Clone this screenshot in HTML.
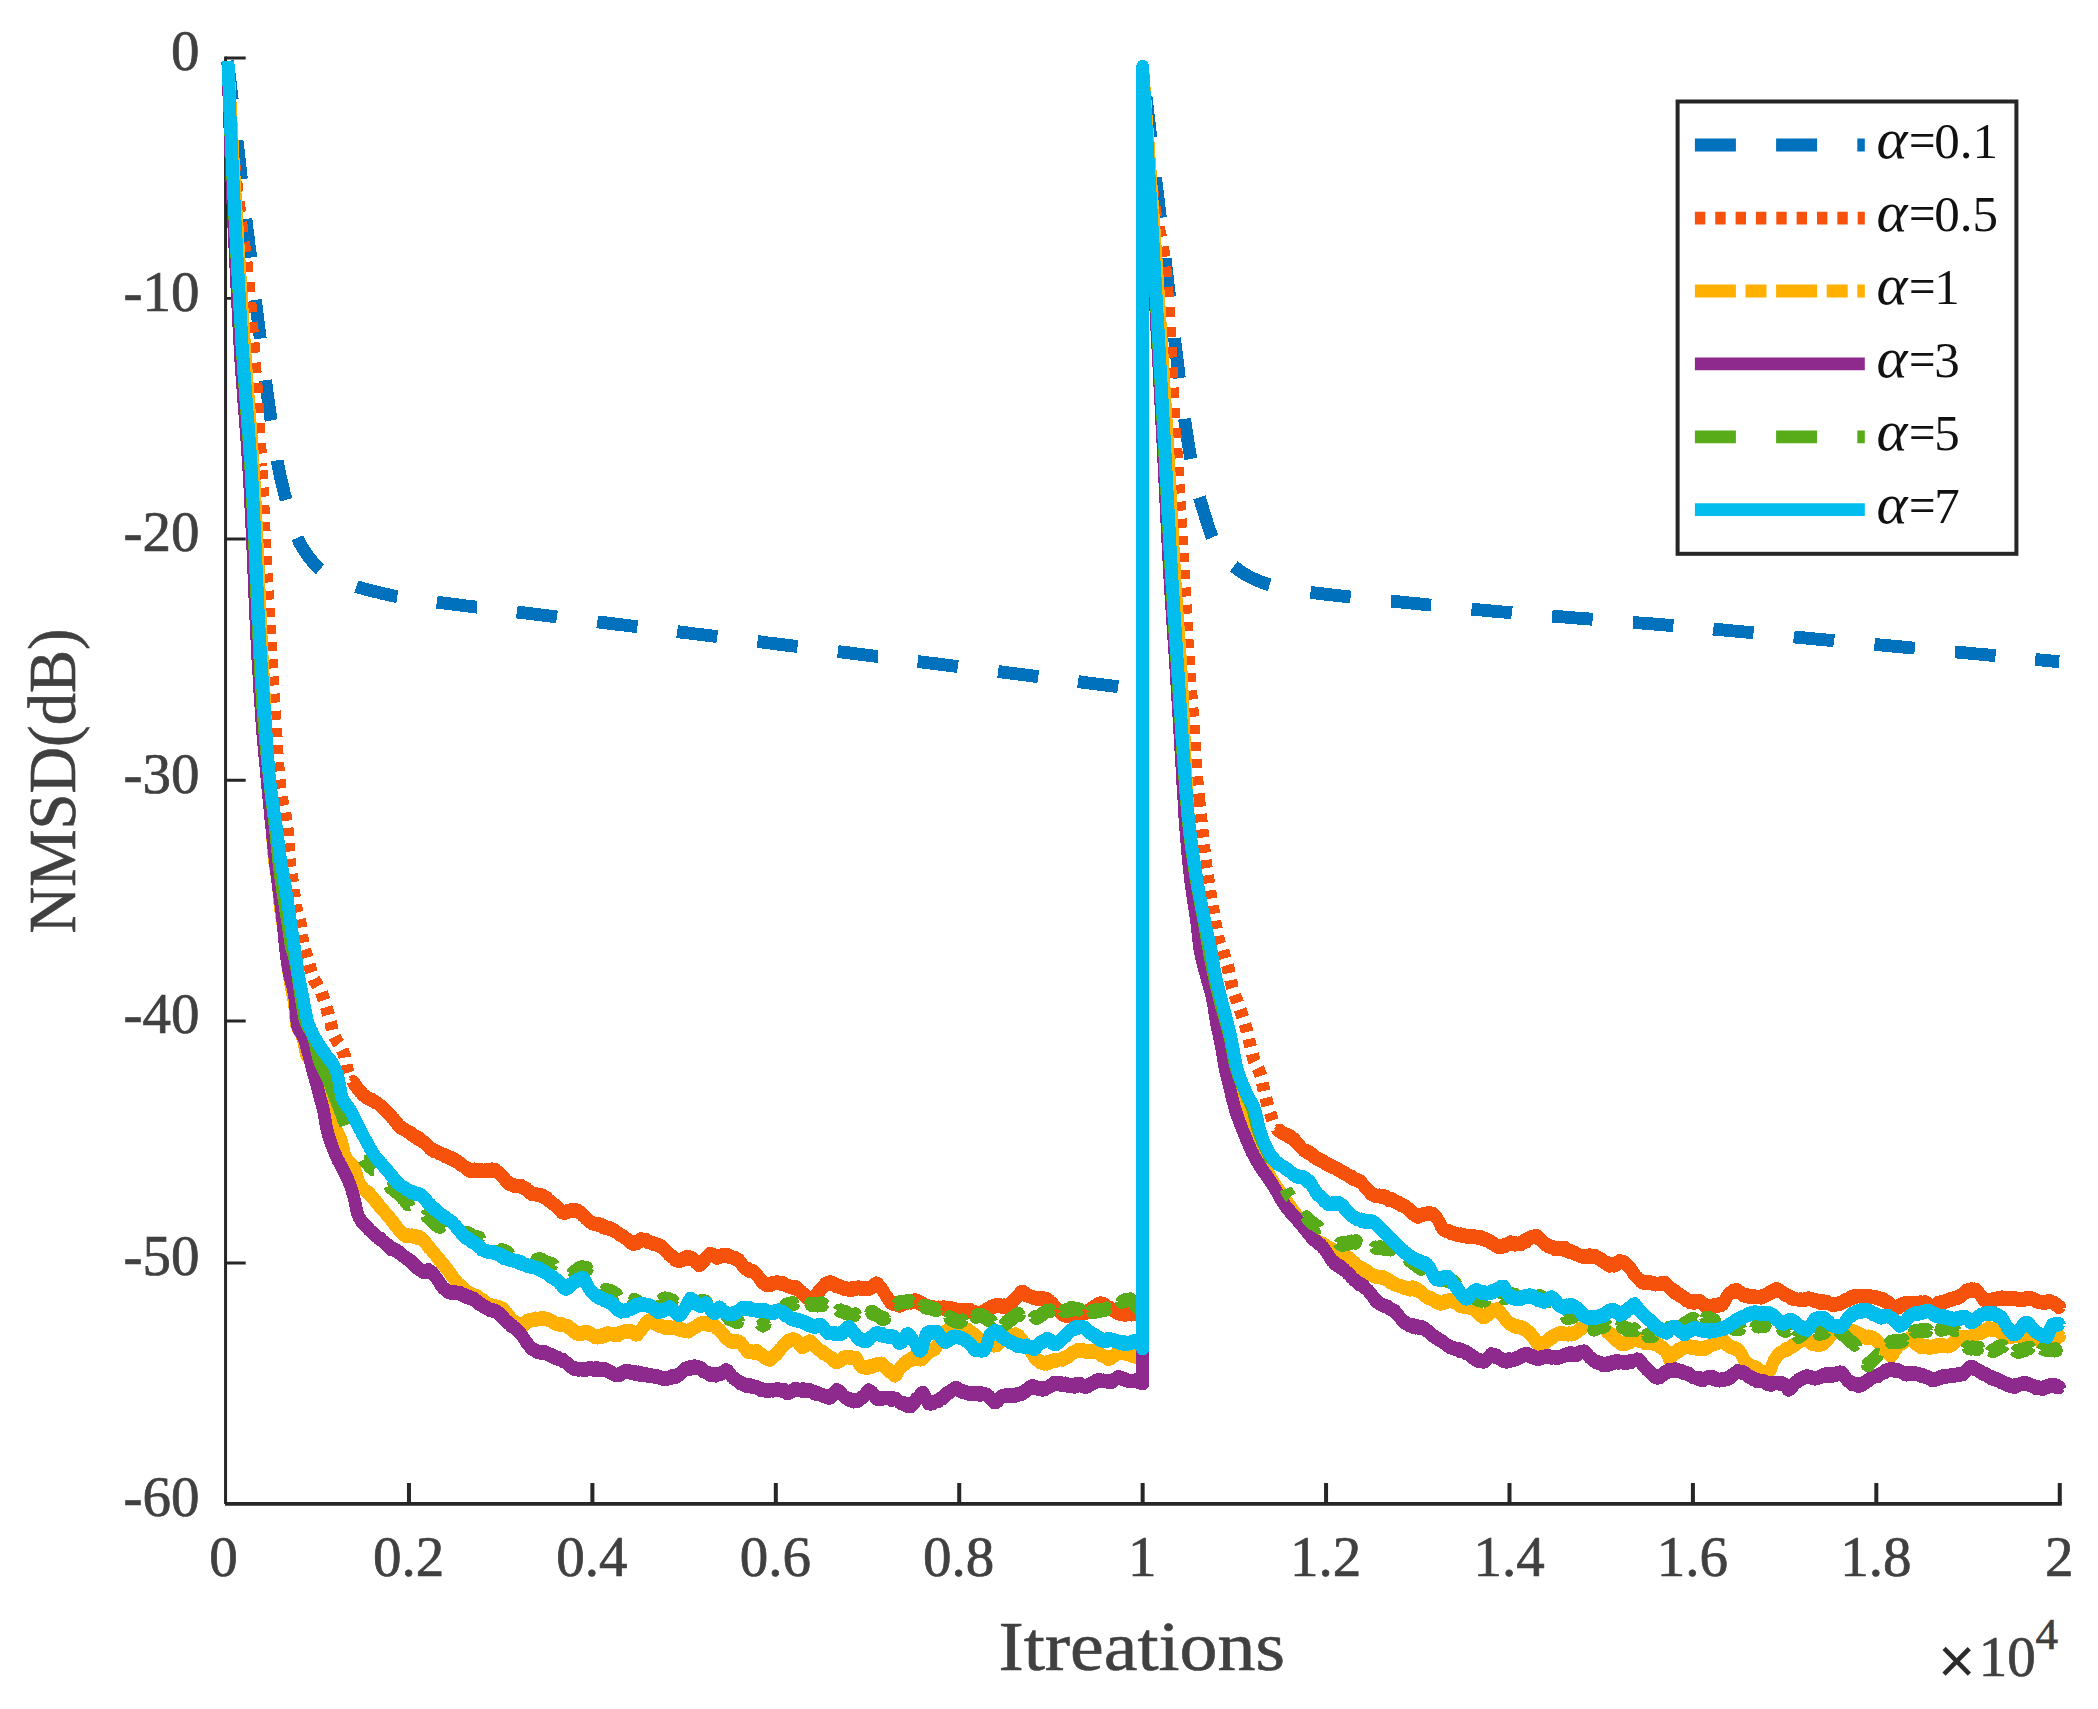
<!DOCTYPE html>
<html lang="en">
<head>
<meta charset="utf-8">
<title>NMSD(dB) vs Itreations</title>
<style>
html,body{margin:0;padding:0;background:#fff;}
body{width:2098px;height:1709px;overflow:hidden;}
svg{display:block;}
svg text{font-family:"Liberation Serif",serif;}
</style>
</head>
<body>
<svg width="2098" height="1709" viewBox="0 0 2098 1709">
<rect width="2098" height="1709" fill="#fff"/>
<g id="axes">
<path d="M225.55,56.5 V1503.9" fill="none" stroke="#262626" stroke-width="3"/>
<path d="M225.05,1503.9 H2061.8" fill="none" stroke="#262626" stroke-width="3.9"/>
<path d="M408.97,1503.9 V1483.1 M592.39,1503.9 V1483.1 M775.81,1503.9 V1483.1 M959.23,1503.9 V1483.1 M1142.65,1503.9 V1483.1 M1326.07,1503.9 V1483.1 M1509.49,1503.9 V1483.1 M1692.91,1503.9 V1483.1 M1876.33,1503.9 V1483.1 M2059.75,1503.9 V1483.1" fill="none" stroke="#262626" stroke-width="4"/>
<path d="M225.55,58.0 H245.7 M225.55,298.4 H245.7 M225.55,539.0 H245.7 M225.55,780.3 H245.7 M225.55,1021.0 H245.7 M225.55,1263.0 H245.7" fill="none" stroke="#262626" stroke-width="2.9"/>
</g>
<g id="curves" fill="none" stroke-width="12.8" stroke-linejoin="round" stroke-linecap="butt" shape-rendering="crispEdges">
<polyline points="227.5,61.0 227.7,62.5 227.9,64.0 228.1,65.5 228.2,67.0 228.4,68.4 228.6,69.9 228.8,71.4 229.0,72.9 229.2,74.4 229.4,75.9 229.5,77.4 229.7,78.9 229.9,80.4 230.1,81.8 230.3,83.3 230.4,84.8 230.6,86.3 230.8,87.8 231.0,89.3 231.2,90.8 231.4,92.3 231.5,93.8 231.7,95.2 231.9,96.7 232.1,98.2 232.2,99.7" stroke="#0072BD" />
<polyline points="237.0,140.4 237.2,141.9 237.4,143.4 237.6,144.9 237.7,146.4 237.9,147.9 238.1,149.4 238.2,150.9 238.4,152.4 238.6,153.8 238.7,155.3 238.9,156.8 239.1,158.3 239.2,159.8 239.4,161.3 239.6,162.8 239.7,164.3 239.9,165.8 240.1,167.3 240.2,168.7 240.4,170.2 240.6,171.7 240.7,173.2 240.9,174.7 241.1,176.2 241.2,177.7 241.4,179.2" stroke="#0072BD" />
<polyline points="245.9,218.9 246.1,220.4 246.2,221.9 246.4,223.4 246.6,224.9 246.8,226.4 247.0,227.9 247.1,229.4 247.3,230.8 247.5,232.3 247.7,233.8 247.9,235.3 248.1,236.8 248.3,238.3 248.5,239.8 248.7,241.3 248.9,242.7 249.0,244.2 249.2,245.7 249.4,247.2 249.6,248.7 249.8,250.2 250.0,251.7 250.2,253.2 250.4,254.7 250.5,256.1 250.7,257.6" stroke="#0072BD" />
<polyline points="255.5,299.9 255.7,301.4 255.8,302.8 256.0,304.3 256.2,305.8 256.4,307.3 256.6,308.8 256.7,310.3 256.9,311.8 257.1,313.3 257.3,314.8 257.5,316.2 257.7,317.7 257.9,319.2 258.1,320.7 258.2,322.2 258.4,323.7 258.6,325.2 258.8,326.7 259.0,328.1 259.2,329.6 259.4,331.1 259.6,332.6 259.8,334.1 259.9,335.6 260.1,337.1 260.3,338.6" stroke="#0072BD" />
<polyline points="265.5,380.2 265.7,381.7 265.9,383.2 266.1,384.7 266.3,386.2 266.5,387.7 266.7,389.2 266.9,390.6 267.1,392.1 267.3,393.6 267.5,395.1 267.7,396.6 267.9,398.1 268.1,399.6 268.3,401.1 268.5,402.5 268.7,404.0 269.0,405.5 269.2,407.0 269.4,408.5 269.6,410.0 269.8,411.4 270.0,412.9 270.2,414.4 270.4,415.9 270.6,417.4 270.8,418.9 271.1,420.4" stroke="#0072BD" />
<polyline points="277.1,460.4 277.3,461.9 277.6,463.4 277.9,464.8 278.2,466.3 278.5,467.8 278.8,469.2 279.1,470.7 279.4,472.2 279.7,473.6 280.0,475.1 280.4,476.6 280.7,478.0 281.0,479.5 281.4,481.0 281.7,482.4 282.1,483.9 282.4,485.3 282.7,486.8 283.1,488.3 283.5,489.7 283.8,491.2 284.2,492.6 284.5,494.1 284.9,495.6 285.3,497.0 285.6,498.5 286.0,499.9" stroke="#0072BD" />
<polyline points="297.4,537.7 298.0,539.1 298.6,540.4 299.3,541.8 299.9,543.1 300.6,544.5 301.4,545.8 302.1,547.1 302.9,548.4 303.7,549.7 304.5,551.0 305.4,552.2 306.2,553.5 307.1,554.7 307.9,555.9 308.8,557.1 309.7,558.3 310.6,559.5 311.6,560.6 312.6,561.8 313.6,563.0 314.6,564.1 315.7,565.2 316.7,566.3 317.8,567.3 318.9,568.3 320.1,569.3" stroke="#0072BD" />
<polyline points="356.4,586.6 357.9,587.1 359.3,587.5 360.7,587.9 362.2,588.3 363.6,588.7 365.1,589.1 366.5,589.5 368.0,589.8 369.5,590.2 370.9,590.6 372.4,590.9 373.8,591.3 375.3,591.6 376.8,592.0 378.2,592.3 379.7,592.7 381.1,593.1 382.6,593.4 384.1,593.8 385.5,594.1 387.0,594.4 388.4,594.8 389.9,595.1 391.4,595.4 392.8,595.7 394.3,596.0 395.8,596.3 397.3,596.5" stroke="#0072BD" />
<polyline points="436.8,602.2 438.3,602.4 439.8,602.6 441.3,602.7 442.8,602.9 444.3,603.1 445.8,603.3 447.3,603.5 448.8,603.7 450.3,603.9 451.7,604.1 453.2,604.2 454.7,604.4 456.2,604.6 457.7,604.8 459.2,605.0 460.7,605.2 462.2,605.4 463.6,605.6 465.1,605.8 466.6,606.0 468.1,606.1 469.6,606.3 471.1,606.5 472.6,606.7 474.1,606.9 475.6,607.1 477.0,607.2" stroke="#0072BD" />
<polyline points="516.8,612.0 518.2,612.2 519.7,612.4 521.2,612.5 522.7,612.7 524.2,612.9 525.7,613.1 527.2,613.2 528.7,613.4 530.2,613.6 531.7,613.8 533.1,614.0 534.6,614.1 536.1,614.3 537.6,614.5 539.1,614.7 540.6,614.9 542.1,615.1 543.6,615.2 545.1,615.4 546.5,615.6 548.0,615.8 549.5,616.0 551.0,616.2 552.5,616.3 554.0,616.5 555.5,616.7 557.0,616.9" stroke="#0072BD" />
<polyline points="597.2,621.8 598.6,622.0 600.1,622.2 601.6,622.4 603.1,622.5 604.6,622.7 606.1,622.9 607.6,623.1 609.1,623.3 610.6,623.5 612.0,623.6 613.5,623.8 615.0,624.0 616.5,624.2 618.0,624.4 619.5,624.6 621.0,624.7 622.5,624.9 624.0,625.1 625.4,625.3 626.9,625.5 628.4,625.7 629.9,625.8 631.4,626.0 632.9,626.2 634.4,626.4 635.9,626.6 637.4,626.8" stroke="#0072BD" />
<polyline points="677.1,631.6 678.5,631.8 680.0,632.0 681.5,632.2 683.0,632.4 684.5,632.6 686.0,632.7 687.5,632.9 689.0,633.1 690.5,633.3 691.9,633.5 693.4,633.7 694.9,633.9 696.4,634.0 697.9,634.2 699.4,634.4 700.9,634.6 702.4,634.8 703.9,635.0 705.3,635.1 706.8,635.3 708.3,635.5 709.8,635.7 711.3,635.9 712.8,636.1 714.3,636.2 715.8,636.4 717.3,636.6" stroke="#0072BD" />
<polyline points="757.4,641.6 758.9,641.8 760.4,641.9 761.9,642.1 763.4,642.3 764.9,642.5 766.4,642.7 767.9,642.9 769.4,643.0 770.8,643.2 772.3,643.4 773.8,643.6 775.3,643.8 776.8,644.0 778.3,644.2 779.8,644.3 781.3,644.5 782.8,644.7 784.2,644.9 785.7,645.1 787.2,645.3 788.7,645.4 790.2,645.6 791.7,645.8 793.2,646.0 794.7,646.2 796.2,646.4 797.6,646.6" stroke="#0072BD" />
<polyline points="837.8,651.5 839.3,651.7 840.8,651.9 842.3,652.1 843.8,652.3 845.3,652.5 846.8,652.7 848.3,652.8 849.7,653.0 851.2,653.2 852.7,653.4 854.2,653.6 855.7,653.8 857.2,654.0 858.7,654.1 860.2,654.3 861.6,654.5 863.1,654.7 864.6,654.9 866.1,655.1 867.6,655.2 869.1,655.4 870.6,655.6 872.1,655.8 873.6,656.0 875.0,656.2 876.5,656.4 878.0,656.5" stroke="#0072BD" />
<polyline points="917.7,661.5 919.2,661.7 920.7,661.9 922.2,662.1 923.7,662.2 925.2,662.4 926.6,662.6 928.1,662.8 929.6,663.0 931.1,663.2 932.6,663.4 934.1,663.5 935.6,663.7 937.1,663.9 938.6,664.1 940.0,664.3 941.5,664.5 943.0,664.7 944.5,664.9 946.0,665.0 947.5,665.2 949.0,665.4 950.5,665.6 951.9,665.8 953.4,666.0 954.9,666.2 956.4,666.3 957.9,666.5" stroke="#0072BD" />
<polyline points="998.1,671.6 999.6,671.8 1001.1,671.9 1002.5,672.1 1004.0,672.3 1005.5,672.5 1007.0,672.7 1008.5,672.9 1010.0,673.1 1011.5,673.3 1013.0,673.4 1014.5,673.6 1015.9,673.8 1017.4,674.0 1018.9,674.2 1020.4,674.4 1021.9,674.6 1023.4,674.8 1024.9,674.9 1026.4,675.1 1027.9,675.3 1029.3,675.5 1030.8,675.7 1032.3,675.9 1033.8,676.1 1035.3,676.3 1036.8,676.4 1038.3,676.6" stroke="#0072BD" />
<polyline points="1078.0,681.6 1079.4,681.8 1080.9,682.0 1082.4,682.2 1083.9,682.4 1085.4,682.6 1086.9,682.8 1088.4,683.0 1089.9,683.2 1091.3,683.3 1092.8,683.5 1094.3,683.7 1095.8,683.9 1097.3,684.1 1098.8,684.3 1100.3,684.5 1101.8,684.7 1103.3,684.9 1104.7,685.0 1106.2,685.2 1107.7,685.4 1109.2,685.6 1110.7,685.8 1112.2,686.0 1113.7,686.2 1115.2,686.4 1116.6,686.5 1118.1,686.7" stroke="#0072BD" />
<polyline points="1146.1,97.1 1146.3,98.6 1146.5,100.1 1146.6,101.6 1146.8,103.1 1147.0,104.5 1147.2,106.0 1147.3,107.5 1147.5,109.0 1147.7,110.5 1147.8,112.0 1148.0,113.5 1148.2,115.0 1148.4,116.5 1148.5,118.0 1148.7,119.4 1148.9,120.9 1149.1,122.4 1149.2,123.9 1149.4,125.4 1149.6,126.9 1149.8,128.4 1149.9,129.9 1150.1,131.4 1150.3,132.9 1150.5,134.3 1150.6,135.8 1150.8,137.3" stroke="#0072BD" />
<polyline points="1155.6,177.5 1155.8,179.0 1156.0,180.5 1156.1,182.0 1156.3,183.5 1156.5,185.0 1156.7,186.5 1156.8,188.0 1157.0,189.5 1157.2,190.9 1157.4,192.4 1157.6,193.9 1157.7,195.4 1157.9,196.9 1158.1,198.4 1158.3,199.9 1158.4,201.4 1158.6,202.9 1158.8,204.4 1159.0,205.8 1159.1,207.3 1159.3,208.8 1159.5,210.3 1159.7,211.8 1159.8,213.3 1160.0,214.8 1160.2,216.3 1160.4,217.8" stroke="#0072BD" />
<polyline points="1165.1,258.0 1165.2,259.5 1165.4,261.0 1165.6,262.5 1165.8,263.9 1165.9,265.4 1166.1,266.9 1166.3,268.4 1166.5,269.9 1166.6,271.4 1166.8,272.9 1167.0,274.4 1167.2,275.9 1167.3,277.4 1167.5,278.8 1167.7,280.3 1167.9,281.8 1168.0,283.3 1168.2,284.8 1168.4,286.3 1168.6,287.8 1168.7,289.3 1168.9,290.8 1169.1,292.3 1169.3,293.7 1169.4,295.2 1169.6,296.7" stroke="#0072BD" />
<polyline points="1174.5,337.9 1174.6,339.4 1174.8,340.9 1175.0,342.4 1175.2,343.9 1175.4,345.4 1175.5,346.9 1175.7,348.4 1175.9,349.9 1176.1,351.3 1176.3,352.8 1176.5,354.3 1176.6,355.8 1176.8,357.3 1177.0,358.8 1177.2,360.3 1177.4,361.8 1177.6,363.2 1177.7,364.7 1177.9,366.2 1178.1,367.7 1178.3,369.2 1178.5,370.7 1178.7,372.2 1178.8,373.7 1179.0,375.2 1179.2,376.7 1179.4,378.1" stroke="#0072BD" />
<polyline points="1184.6,418.8 1184.8,420.3 1185.0,421.8 1185.2,423.3 1185.4,424.8 1185.7,426.2 1185.9,427.7 1186.1,429.2 1186.3,430.7 1186.5,432.2 1186.7,433.7 1187.0,435.1 1187.2,436.6 1187.4,438.1 1187.6,439.6 1187.9,441.1 1188.1,442.6 1188.3,444.0 1188.6,445.5 1188.8,447.0 1189.0,448.5 1189.3,450.0 1189.5,451.4 1189.8,452.9 1190.0,454.4 1190.3,455.9 1190.5,457.4 1190.8,458.9" stroke="#0072BD" />
<polyline points="1199.4,497.3 1199.9,498.8 1200.3,500.2 1200.7,501.7 1201.1,503.1 1201.6,504.6 1202.0,506.0 1202.4,507.4 1202.9,508.9 1203.3,510.3 1203.8,511.7 1204.2,513.2 1204.7,514.6 1205.1,516.0 1205.5,517.5 1206.0,518.9 1206.4,520.3 1206.9,521.8 1207.3,523.2 1207.8,524.7 1208.2,526.1 1208.7,527.5 1209.2,529.0 1209.7,530.4 1210.2,531.8 1210.7,533.2 1211.2,534.6 1211.7,536.0 1212.3,537.4" stroke="#0072BD" />
<polyline points="1233.8,566.4 1235.0,567.3 1236.2,568.2 1237.4,569.1 1238.6,570.0 1239.8,570.9 1241.1,571.7 1242.3,572.5 1243.6,573.4 1244.9,574.1 1246.2,574.9 1247.5,575.7 1248.8,576.4 1250.1,577.1 1251.5,577.7 1252.8,578.4 1254.2,579.0 1255.5,579.6 1256.9,580.2 1258.3,580.8 1259.7,581.4 1261.1,581.9 1262.5,582.5 1263.9,583.0 1265.4,583.5 1266.8,583.9 1268.2,584.4 1269.6,584.8" stroke="#0072BD" />
<polyline points="1310.4,592.4 1311.9,592.6 1313.4,592.8 1314.8,593.0 1316.3,593.1 1317.8,593.3 1319.3,593.5 1320.8,593.7 1322.3,593.8 1323.8,594.0 1325.3,594.2 1326.8,594.3 1328.3,594.5 1329.8,594.7 1331.3,594.9 1332.7,595.0 1334.2,595.2 1335.7,595.4 1337.2,595.5 1338.7,595.7 1340.2,595.9 1341.7,596.0 1343.2,596.2 1344.7,596.4 1346.2,596.5 1347.7,596.7 1349.1,596.8 1350.6,597.0" stroke="#0072BD" />
<polyline points="1390.9,601.1 1392.4,601.2 1393.9,601.4 1395.4,601.5 1396.9,601.7 1398.4,601.8 1399.9,602.0 1401.4,602.1 1402.9,602.3 1404.4,602.4 1405.9,602.6 1407.4,602.7 1408.8,602.9 1410.3,603.0 1411.8,603.2 1413.3,603.3 1414.8,603.5 1416.3,603.6 1417.8,603.8 1419.3,603.9 1420.8,604.1 1422.3,604.2 1423.8,604.4 1425.3,604.5 1426.8,604.7 1428.2,604.8 1429.7,605.0 1431.2,605.1" stroke="#0072BD" />
<polyline points="1471.5,609.1 1473.0,609.3 1474.5,609.4 1476.0,609.6 1477.5,609.7 1479.0,609.8 1480.5,610.0 1482.0,610.1 1483.5,610.3 1485.0,610.4 1486.5,610.5 1488.0,610.7 1489.5,610.8 1490.9,610.9 1492.4,611.1 1493.9,611.2 1495.4,611.3 1496.9,611.5 1498.4,611.6 1499.9,611.7 1501.4,611.9 1502.9,612.0 1504.4,612.1 1505.9,612.2 1507.4,612.4 1508.9,612.5 1510.4,612.6 1511.9,612.8" stroke="#0072BD" />
<polyline points="1552.2,616.1 1553.7,616.2 1555.2,616.3 1556.7,616.4 1558.2,616.5 1559.7,616.7 1561.2,616.8 1562.7,616.9 1564.2,617.0 1565.7,617.1 1567.2,617.3 1568.7,617.4 1570.2,617.5 1571.7,617.6 1573.2,617.7 1574.7,617.9 1576.2,618.0 1577.7,618.1 1579.1,618.2 1580.6,618.3 1582.1,618.5 1583.6,618.6 1585.1,618.7 1586.6,618.8 1588.1,618.9 1589.6,619.0 1591.1,619.2 1592.6,619.3" stroke="#0072BD" />
<polyline points="1633.0,622.4 1634.5,622.5 1636.0,622.6 1637.5,622.7 1639.0,622.9 1640.5,623.0 1642.0,623.1 1643.5,623.2 1645.0,623.3 1646.4,623.5 1647.9,623.6 1649.4,623.7 1650.9,623.8 1652.4,623.9 1653.9,624.1 1655.4,624.2 1656.9,624.3 1658.4,624.4 1659.9,624.6 1661.4,624.7 1662.9,624.8 1664.4,624.9 1665.9,625.1 1667.4,625.2 1668.9,625.3 1670.4,625.4 1671.9,625.6 1673.4,625.7" stroke="#0072BD" />
<polyline points="1713.2,629.1 1714.7,629.3 1716.2,629.4 1717.7,629.5 1719.2,629.7 1720.7,629.8 1722.2,629.9 1723.7,630.1 1725.2,630.2 1726.7,630.3 1728.1,630.5 1729.6,630.6 1731.1,630.7 1732.6,630.9 1734.1,631.0 1735.6,631.2 1737.1,631.3 1738.6,631.4 1740.1,631.6 1741.6,631.7 1743.1,631.9 1744.6,632.0 1746.1,632.1 1747.6,632.3 1749.1,632.4 1750.5,632.6 1752.0,632.7 1753.5,632.9" stroke="#0072BD" />
<polyline points="1793.8,636.9 1795.3,637.1 1796.8,637.2 1798.3,637.3 1799.8,637.5 1801.3,637.6 1802.8,637.8 1804.3,637.9 1805.8,638.1 1807.3,638.2 1808.8,638.4 1810.3,638.5 1811.7,638.7 1813.2,638.8 1814.7,638.9 1816.2,639.1 1817.7,639.2 1819.2,639.4 1820.7,639.5 1822.2,639.6 1823.7,639.8 1825.2,639.9 1826.7,640.1 1828.2,640.2 1829.7,640.3 1831.2,640.5 1832.7,640.6 1834.1,640.8" stroke="#0072BD" />
<polyline points="1874.5,644.4 1876.0,644.6 1877.5,644.7 1879.0,644.8 1880.5,645.0 1881.9,645.1 1883.4,645.2 1884.9,645.4 1886.4,645.5 1887.9,645.6 1889.4,645.8 1890.9,645.9 1892.4,646.1 1893.9,646.2 1895.4,646.3 1896.9,646.5 1898.4,646.6 1899.9,646.8 1901.4,646.9 1902.9,647.0 1904.4,647.2 1905.8,647.3 1907.3,647.4 1908.8,647.6 1910.3,647.7 1911.8,647.9 1913.3,648.0 1914.8,648.1" stroke="#0072BD" />
<polyline points="1955.1,651.9 1956.6,652.0 1958.1,652.2 1959.6,652.3 1961.1,652.5 1962.6,652.6 1964.1,652.7 1965.6,652.9 1967.1,653.0 1968.6,653.2 1970.1,653.3 1971.6,653.4 1973.1,653.6 1974.5,653.7 1976.0,653.9 1977.5,654.0 1979.0,654.1 1980.5,654.3 1982.0,654.4 1983.5,654.6 1985.0,654.7 1986.5,654.8 1988.0,655.0 1989.5,655.1 1991.0,655.3 1992.5,655.4 1994.0,655.5 1995.5,655.7" stroke="#0072BD" />
<polyline points="2035.3,659.5 2036.8,659.6 2038.3,659.7 2039.8,659.9 2041.3,660.0 2042.7,660.2 2044.2,660.3 2045.7,660.4 2047.2,660.6 2048.7,660.7 2050.2,660.9 2051.7,661.0 2053.2,661.2 2054.7,661.3 2056.2,661.4 2057.7,661.6 2059.2,661.7" stroke="#0072BD" />
<polyline points="228.0,61.0 228.1,64.0 228.2,68.0 228.3,72.0 228.4,76.0 228.6,80.0 228.7,84.0 228.9,88.0 229.1,92.0 229.3,96.0 229.5,100.0 229.7,104.0 230.0,108.0 230.2,112.0 230.4,116.0 230.7,120.0 231.0,124.0 231.2,127.9 231.5,131.9 231.8,135.9 232.1,139.9 232.3,143.9 232.6,147.9 232.9,151.9 233.3,155.8 233.6,159.8 234.0,163.8 234.4,167.8 234.8,171.8 235.3,175.7 235.7,179.7 236.2,183.7 236.7,187.7 237.1,191.6 237.6,195.6 238.1,199.6 238.6,203.6 239.1,207.5 239.6,211.5 240.1,215.5 240.5,219.4 241.0,223.4 241.5,227.4 242.1,231.3 242.6,235.3 243.1,239.3 243.7,243.2 244.2,247.2 244.7,251.2 245.2,255.1 245.7,259.1 246.2,263.1 246.6,267.1 247.0,271.0 247.4,275.0 247.8,279.0 248.2,283.0 248.6,287.0 249.0,290.9 249.3,294.9 249.7,298.9 250.0,302.9 250.3,306.9 250.6,310.9 250.9,314.9 251.3,318.8 251.6,322.8 251.9,326.8 252.2,330.8 252.5,334.8 252.8,338.8 253.1,342.8 253.4,346.8 253.7,350.7 254.0,354.7 254.2,358.7 254.5,362.7 254.8,366.7 255.1,370.7 255.4,374.7 255.6,378.7 255.9,382.7 256.2,386.7 256.5,390.7 256.7,394.6 257.0,398.6 257.2,402.6 257.5,406.6 257.8,410.6 258.0,414.6 258.3,418.6 258.5,422.6 258.7,426.6 259.0,430.6 259.2,434.6 259.5,438.6 259.7,442.6 259.9,446.6 260.2,450.6 260.4,454.5 260.6,458.5 260.8,462.5 261.1,466.5" stroke="#F7520C" stroke-dasharray="10.3 9.9"/>
<polyline points="261.3,470.5 261.5,474.5 261.7,478.5 261.9,482.5 262.1,486.5 262.3,490.5 262.5,494.5 262.7,498.5 262.9,502.5 263.1,506.5 263.2,510.5 263.4,514.5 263.6,518.5 263.8,522.5 263.9,526.5 264.1,530.5 264.3,534.4 264.5,538.4 264.7,542.4 265.0,546.4 265.2,550.4 265.4,554.4 265.6,558.4 265.8,562.4 266.0,566.4 266.3,570.4 266.5,574.4 266.7,578.4 266.9,582.4 267.1,586.4 267.4,590.4 267.6,594.4 267.8,598.4 268.0,602.3 268.3,606.3 268.5,610.3 268.7,614.3 268.9,618.3 269.1,622.3 269.3,626.3 269.5,630.3 269.7,634.3 269.9,638.3 270.2,642.3 270.4,646.3 270.6,650.3 270.8,654.3 271.1,658.3 271.3,662.3 271.5,666.2 271.8,670.2 272.0,674.2 272.3,678.2 272.5,682.2 272.8,686.2 273.0,690.2 273.3,694.2 273.5,698.2 273.8,702.2 274.1,706.2 274.4,710.2 274.7,714.1 274.9,718.1 275.2,722.1 275.5,726.1 275.7,730.1 276.0,734.1 276.2,738.1 276.4,742.1 276.7,746.1 276.9,750.1 277.2,754.1 277.5,758.1 277.8,762.0 278.0,766.0 278.3,770.0 278.6,774.0 279.0,778.0 279.3,782.0 279.7,786.0 280.2,790.0 280.7,793.9 281.4,797.8" stroke="#F7520C" stroke-dasharray="9.0 8.2"/>
<polyline points="281.4,797.8 282.3,801.7 283.2,805.6 284.2,809.5 285.0,813.4 285.6,817.4 286.2,821.3 286.7,825.3 287.2,829.3 287.7,833.3 288.0,837.3 288.4,841.2 288.6,845.2 288.9,849.2 289.1,853.2 289.3,857.2 289.6,861.2 290.0,865.2 290.5,869.1 291.0,873.1 291.6,877.1 292.3,881.0 292.8,885.0 293.4,888.9 293.9,892.9 294.4,896.9 295.0,900.9 295.6,904.8 296.4,908.7 297.4,912.6 298.5,916.4 299.5,920.3 300.4,924.2 301.0,928.1 301.5,932.1 302.0,936.1 302.5,940.1 303.1,944.0 304.2,948.1 306.6,955.6 309.0,963.7 311.4,972.1 313.8,979.5 316.2,982.9 318.6,987.1 321.0,991.1 323.4,998.2 325.8,1005.8 328.2,1013.7 330.6,1022.3 333.0,1033.0 335.4,1038.2 337.8,1042.1 340.2,1045.1 342.6,1050.5 345.0,1056.7 347.4,1070.0 349.8,1078.4" stroke="#F7520C" stroke-dasharray="8.2 7.2"/>
<polyline points="352.2,1082.1 353.0,1081.6 353.8,1083.9 354.6,1083.1 355.4,1085.6 356.2,1085.4 357.0,1087.9 357.8,1087.9 358.6,1089.7 359.4,1089.8 360.2,1092.2 361.0,1091.5 361.8,1093.9 362.6,1093.6 363.4,1095.8 364.2,1095.2 365.0,1096.9 365.8,1096.2 366.6,1098.1 367.4,1097.6 368.2,1099.0 369.0,1098.1 369.8,1100.1 370.6,1098.9 371.4,1100.8 372.2,1099.4 373.0,1101.6 373.8,1100.4 374.6,1102.6 375.4,1101.5 376.2,1103.2 377.0,1102.5 377.8,1104.1 378.6,1103.7 379.4,1105.4 380.2,1105.0 381.0,1106.6 381.8,1106.5 382.6,1108.1 383.4,1107.7 384.2,1110.0 385.0,1109.5 385.8,1111.7 386.6,1111.8 387.4,1113.1 388.2,1112.8 389.0,1114.9 389.8,1114.6 390.6,1116.5 391.4,1116.1 392.2,1118.4 393.0,1118.0 393.8,1119.9 394.6,1119.8 395.4,1122.1 396.2,1121.5 397.0,1124.1 397.8,1123.4 398.6,1126.1 399.4,1125.5 400.2,1127.6 401.0,1126.8 401.8,1128.9 402.6,1127.6 403.4,1129.7 404.2,1129.2 405.0,1130.4 405.8,1130.1 406.6,1131.3 407.4,1130.9 408.2,1132.4 409.0,1131.9 409.8,1133.7 410.6,1132.4 411.4,1135.1 412.2,1134.3 413.0,1136.0 413.8,1134.9 414.6,1137.0 415.4,1135.8 416.2,1138.4 417.0,1136.8 417.8,1138.9 418.6,1137.6 419.4,1139.7 420.2,1138.4 421.0,1141.2 421.8,1139.8 422.6,1142.3 423.4,1141.1 424.2,1143.2 425.0,1142.5 425.8,1144.7 426.6,1144.1 427.4,1146.3 428.2,1145.5 429.0,1147.6 429.8,1146.8 430.6,1149.7 431.4,1148.1 432.2,1150.1 433.0,1149.4 433.8,1151.7 434.6,1149.8 435.4,1152.1 436.2,1150.8 437.0,1152.4 437.8,1151.9 438.6,1153.6 439.4,1152.5 440.2,1154.2 441.0,1153.4 441.8,1155.0 442.6,1154.0 443.4,1155.6 444.2,1154.3 445.0,1156.9 445.8,1155.1 446.6,1157.3 447.4,1155.9 448.2,1157.8 449.0,1156.4 449.8,1158.8 450.6,1157.1 451.4,1159.3 452.2,1157.9 453.0,1160.5 453.8,1158.9 454.6,1161.1 455.4,1159.3 456.2,1161.4 457.0,1160.8 457.8,1163.1 458.6,1161.5 459.4,1164.1 460.2,1163.0 461.0,1165.3 461.8,1164.3 462.6,1166.1 463.4,1165.7 464.2,1167.1 465.0,1166.7 465.8,1168.8 466.6,1167.8 467.4,1170.3 468.2,1169.0 469.0,1170.3 469.8,1168.7 470.6,1171.6 471.4,1169.3 472.2,1171.6 473.0,1170.0 473.8,1171.1 474.6,1168.9 475.4,1171.7 476.2,1169.6 477.0,1171.5 477.8,1169.6 478.6,1171.3 479.4,1169.2 480.2,1171.7 481.0,1169.5 481.8,1171.3 482.6,1170.1 483.4,1172.0 484.2,1170.2 485.0,1171.6 485.8,1169.7 486.6,1171.4 487.4,1169.4 488.2,1171.6 489.0,1169.2 489.8,1171.5 490.6,1169.4 491.4,1172.0 492.2,1168.8 493.0,1171.6 493.8,1169.4 494.6,1171.4 495.4,1169.2 496.2,1171.7 497.0,1170.8 497.8,1172.7 498.6,1171.9 499.4,1173.9 500.2,1173.7 501.0,1175.6 501.8,1174.8 502.6,1177.3 503.4,1176.7 504.2,1178.6 505.0,1178.8 505.8,1181.6 506.6,1180.6 507.4,1182.5 508.2,1181.7 509.0,1184.4 509.8,1183.1 510.6,1185.1 511.4,1183.8 512.2,1185.7 513.0,1184.6 513.8,1186.3 514.6,1184.7 515.4,1186.1 516.2,1185.0 517.0,1186.3 517.8,1185.2 518.6,1186.2 519.4,1185.1 520.2,1186.9 521.0,1185.3 521.8,1187.9 522.6,1186.7 523.4,1188.2 524.2,1187.5 525.0,1189.5 525.8,1187.7 526.6,1190.7 527.4,1189.6 528.2,1192.0 529.0,1190.5 529.8,1193.0 530.6,1191.7 531.4,1194.5 532.2,1192.6 533.0,1194.7 533.8,1193.5 534.6,1194.9 535.4,1193.2 536.2,1194.7 537.0,1194.1 537.8,1195.9 538.6,1194.1 539.4,1196.1 540.2,1194.3 541.0,1196.4 541.8,1194.7 542.6,1196.9 543.4,1195.5 544.2,1198.2 545.0,1196.6 545.8,1198.7 546.6,1197.4 547.4,1199.7 548.2,1199.4 549.0,1201.4 549.8,1200.3 550.6,1202.5 551.4,1201.4 552.2,1203.9 553.0,1203.2 553.8,1205.1 554.6,1204.2 555.4,1206.3 556.2,1205.8 557.0,1207.5 557.8,1207.4 558.6,1209.3 559.4,1209.3 560.2,1210.9 561.0,1210.6 561.8,1212.9 562.6,1211.4 563.4,1213.3 564.2,1211.8 565.0,1213.5 565.8,1210.8 566.6,1213.0 567.4,1211.2 568.2,1212.1 569.0,1210.0 569.8,1211.5 570.6,1209.9 571.4,1211.2 572.2,1209.2 573.0,1212.0 573.8,1209.2 574.6,1211.8 575.4,1209.9 576.2,1211.5 577.0,1209.8 577.8,1212.3 578.6,1210.5 579.4,1212.5 580.2,1211.6 581.0,1214.0 581.8,1213.8 582.6,1215.8 583.4,1215.0 584.2,1217.1 585.0,1216.6 585.8,1218.9 586.6,1218.1 587.4,1220.2 588.2,1219.6 589.0,1221.4 589.8,1220.8 590.6,1222.7 591.4,1221.9 592.2,1223.8 593.0,1223.2 593.8,1224.6 594.6,1223.2 595.4,1224.5 596.2,1223.5 597.0,1224.6 597.8,1223.0 598.6,1225.9 599.4,1224.2 600.2,1226.2 601.0,1224.0 601.8,1226.8 602.6,1225.2 603.4,1228.0 604.2,1226.9 605.0,1228.5 605.8,1226.5 606.6,1228.6 607.4,1227.2 608.2,1229.3 609.0,1227.2 609.8,1229.7 610.6,1227.6 611.4,1230.4 612.2,1229.0 613.0,1231.0 613.8,1229.5 614.6,1231.8 615.4,1230.8 616.2,1232.7 617.0,1231.9 617.8,1233.7 618.6,1232.7 619.4,1235.3 620.2,1234.0 621.0,1236.0 621.8,1235.2 622.6,1236.4 623.4,1235.8 624.2,1238.0 625.0,1237.3 625.8,1239.1 626.6,1238.7 627.4,1240.5 628.2,1239.3 629.0,1241.5 629.8,1240.9 630.6,1243.1 631.4,1240.9 632.2,1244.3 633.0,1242.2 633.8,1244.5 634.6,1241.9 635.4,1243.6 636.2,1241.2 637.0,1243.9 637.8,1240.8 638.6,1242.7 639.4,1239.8 640.2,1241.4 641.0,1238.7 641.8,1240.7 642.6,1239.2 643.4,1240.3 644.2,1239.3 645.0,1241.2 645.8,1239.1 646.6,1241.7 647.4,1240.2 648.2,1242.8 649.0,1241.1 649.8,1243.2 650.6,1241.9 651.4,1243.7 652.2,1242.2 653.0,1244.5 653.8,1243.4 654.6,1244.5 655.4,1243.6 656.2,1245.2 657.0,1243.8 657.8,1246.1 658.6,1244.5 659.4,1246.8 660.2,1245.1 661.0,1247.3 661.8,1246.4 662.6,1248.2 663.4,1248.0 664.2,1249.9 665.0,1249.6 665.8,1251.6 666.6,1251.0 667.4,1253.2 668.2,1252.8 669.0,1255.1 669.8,1254.1 670.6,1256.4 671.4,1255.2 672.2,1257.7 673.0,1256.7 673.8,1258.5 674.6,1258.3 675.4,1260.6 676.2,1259.0 677.0,1261.1 677.8,1259.8 678.6,1261.6 679.4,1260.0 680.2,1261.3 681.0,1259.1 681.8,1261.1 682.6,1258.3 683.4,1260.3 684.2,1257.5 685.0,1259.0 685.8,1256.6 686.6,1259.5 687.4,1256.7 688.2,1258.8 689.0,1256.7 689.8,1258.9 690.6,1257.1 691.4,1260.0 692.2,1257.6 693.0,1259.9 693.8,1259.1 694.6,1261.3 695.4,1261.1 696.2,1263.3 697.0,1262.1 697.8,1264.1 698.6,1263.1 699.4,1265.9 700.2,1262.3 701.0,1264.8 701.8,1262.0 702.6,1263.2 703.4,1260.5 704.2,1261.0 705.0,1258.6 705.8,1258.8 706.6,1257.2 707.4,1257.4 708.2,1255.1 709.0,1255.7 709.8,1253.4 710.6,1255.4 711.4,1253.7 712.2,1255.9 713.0,1254.3 713.8,1256.2 714.6,1255.1 715.4,1257.3 716.2,1256.2 717.0,1258.4 717.8,1256.1 718.6,1257.8 719.4,1256.0 720.2,1257.5 721.0,1255.2 721.8,1257.1 722.6,1254.5 723.4,1256.9 724.2,1254.5 725.0,1256.5 725.8,1254.4 726.6,1256.3 727.4,1254.5 728.2,1256.9 729.0,1255.2 729.8,1257.7 730.6,1256.1 731.4,1257.9 732.2,1256.8 733.0,1258.5 733.8,1257.2 734.6,1259.4 735.4,1257.3 736.2,1260.0 737.0,1258.6 737.8,1260.5 738.6,1259.5 739.4,1261.8 740.2,1261.5 741.0,1263.8 741.8,1263.8 742.6,1265.9 743.4,1265.5 744.2,1267.8 745.0,1267.0 745.8,1269.0 746.6,1267.8 747.4,1270.4 748.2,1268.3 749.0,1271.3 749.8,1269.6 750.6,1271.8 751.4,1270.3 752.2,1272.1 753.0,1270.7 753.8,1273.1 754.6,1271.8 755.4,1273.7 756.2,1273.1 757.0,1275.4 757.8,1275.8 758.6,1277.8 759.4,1278.1 760.2,1279.9 761.0,1280.3 761.8,1282.3 762.6,1280.7 763.4,1283.8 764.2,1282.1 765.0,1284.3 765.8,1283.2 766.6,1285.8 767.4,1283.7 768.2,1285.8 769.0,1284.3 769.8,1286.1 770.6,1283.3 771.4,1284.9 772.2,1282.3 773.0,1284.2 773.8,1282.3 774.6,1284.1 775.4,1281.9 776.2,1284.1 777.0,1281.4 777.8,1283.7 778.6,1282.0 779.4,1284.1 780.2,1282.3 781.0,1284.2 781.8,1282.2 782.6,1284.6 783.4,1282.8 784.2,1284.8 785.0,1284.2 785.8,1286.1 786.6,1285.0 787.4,1286.4 788.2,1285.5 789.0,1287.3 789.8,1285.7 790.6,1287.0 791.4,1286.0 792.2,1288.2 793.0,1286.5 793.8,1288.1 794.6,1286.8 795.4,1289.1 796.2,1286.7 797.0,1289.6 797.8,1288.5 798.6,1290.8 799.4,1289.9 800.2,1292.0 801.0,1290.9 801.8,1293.2 802.6,1292.6 803.4,1294.6 804.2,1293.9 805.0,1296.5 805.8,1296.0 806.6,1297.8 807.4,1296.7 808.2,1299.3 809.0,1298.4 809.8,1300.4 810.6,1299.2 811.4,1300.0 812.2,1298.3 813.0,1298.9 813.8,1297.1 814.6,1297.3 815.4,1294.9 816.2,1295.0 817.0,1293.2 817.8,1293.2 818.6,1290.9 819.4,1292.0 820.2,1289.6 821.0,1290.0 821.8,1287.5 822.6,1288.3 823.4,1285.7 824.2,1286.7 825.0,1283.8 825.8,1284.7 826.6,1282.7 827.4,1283.8 828.2,1282.0 829.0,1283.8 829.8,1281.5 830.6,1284.0 831.4,1282.1 832.2,1284.8 833.0,1282.6 833.8,1284.9 834.6,1283.9 835.4,1286.5 836.2,1284.8 837.0,1286.4 837.8,1284.8 838.6,1287.5 839.4,1285.3 840.2,1287.3 841.0,1286.2 841.8,1288.5 842.6,1286.6 843.4,1288.5 844.2,1287.0 845.0,1289.8 845.8,1287.6 846.6,1289.9 847.4,1288.2 848.2,1290.3 849.0,1288.0 849.8,1290.2 850.6,1287.8 851.4,1289.9 852.2,1287.6 853.0,1290.3 853.8,1287.8 854.6,1289.5 855.4,1287.5 856.2,1289.4 857.0,1287.6 857.8,1288.7 858.6,1286.8 859.4,1289.0 860.2,1287.9 861.0,1289.4 861.8,1287.1 862.6,1289.4 863.4,1288.0 864.2,1289.3 865.0,1287.3 865.8,1289.9 866.6,1287.7 867.4,1289.7 868.2,1287.1 869.0,1289.7 869.8,1287.4 870.6,1288.5 871.4,1286.2 872.2,1286.7 873.0,1285.1 873.8,1286.2 874.6,1283.9 875.4,1285.5 876.2,1282.8 877.0,1284.2 877.8,1283.6 878.6,1285.7 879.4,1285.4 880.2,1287.6 881.0,1287.6 881.8,1289.3 882.6,1289.8 883.4,1291.8 884.2,1292.1 885.0,1294.5 885.8,1294.8 886.6,1296.7 887.4,1297.3 888.2,1299.4 889.0,1299.6 889.8,1302.0 890.6,1300.5 891.4,1303.7 892.2,1301.6 893.0,1304.6 893.8,1302.8 894.6,1305.0 895.4,1303.3 896.2,1305.3 897.0,1303.4 897.8,1305.1 898.6,1303.7 899.4,1306.3 900.2,1304.2 901.0,1305.8 901.8,1303.5 902.6,1304.8 903.4,1303.3 904.2,1304.5 905.0,1302.2 905.8,1303.8 906.6,1301.7 907.4,1303.2 908.2,1301.1 909.0,1302.5 909.8,1300.5 910.6,1303.2 911.4,1300.2 912.2,1302.0 913.0,1300.2 913.8,1302.2 914.6,1299.6 915.4,1301.9 916.2,1300.4 917.0,1302.4 917.8,1300.6 918.6,1303.5 919.4,1301.1 920.2,1303.9 921.0,1302.2 921.8,1305.4 922.6,1302.8 923.4,1305.7 924.2,1304.2 925.0,1307.1 925.8,1305.5 926.6,1308.1 927.4,1305.4 928.2,1308.4 929.0,1306.3 929.8,1308.2 930.6,1306.9 931.4,1308.4 932.2,1306.3 933.0,1308.8 933.8,1306.7 934.6,1309.0 935.4,1307.5 936.2,1309.4 937.0,1308.0 937.8,1309.4 938.6,1306.9 939.4,1309.2 940.2,1307.1 941.0,1309.0 941.8,1307.6 942.6,1309.2 943.4,1306.8 944.2,1309.7 945.0,1307.5 945.8,1309.6 946.6,1307.5 947.4,1309.6 948.2,1307.4 949.0,1309.7 949.8,1307.5 950.6,1309.5 951.4,1307.7 952.2,1309.1 953.0,1307.9 953.8,1310.0 954.6,1308.5 955.4,1310.2 956.2,1309.6 957.0,1311.3 957.8,1309.1 958.6,1311.1 959.4,1309.7 960.2,1311.9 961.0,1309.7 961.8,1312.0 962.6,1309.7 963.4,1312.1 964.2,1309.5 965.0,1311.6 965.8,1309.9 966.6,1312.3 967.4,1309.0 968.2,1311.2 969.0,1309.2 969.8,1311.9 970.6,1309.6 971.4,1312.1 972.2,1310.8 973.0,1312.8 973.8,1311.4 974.6,1314.0 975.4,1311.8 976.2,1314.4 977.0,1313.0 977.8,1315.2 978.6,1313.1 979.4,1314.3 980.2,1312.5 981.0,1314.5 981.8,1312.1 982.6,1313.4 983.4,1310.8 984.2,1312.7 985.0,1309.9 985.8,1311.2 986.6,1308.9 987.4,1311.1 988.2,1308.2 989.0,1310.0 989.8,1307.0 990.6,1309.0 991.4,1306.0 992.2,1307.7 993.0,1306.3 993.8,1307.4 994.6,1304.8 995.4,1306.8 996.2,1304.8 997.0,1307.1 997.8,1304.5 998.6,1306.1 999.4,1304.6 1000.2,1306.7 1001.0,1304.8 1001.8,1307.3 1002.6,1305.1 1003.4,1307.4 1004.2,1304.8 1005.0,1307.7 1005.8,1306.2 1006.6,1307.5 1007.4,1305.4 1008.2,1306.6 1009.0,1305.0 1009.8,1305.1 1010.6,1303.3 1011.4,1303.8 1012.2,1301.9 1013.0,1302.0 1013.8,1300.1 1014.6,1300.4 1015.4,1298.4 1016.2,1298.6 1017.0,1296.3 1017.8,1296.6 1018.6,1294.6 1019.4,1294.5 1020.2,1292.3 1021.0,1293.7 1021.8,1291.0 1022.6,1293.7 1023.4,1291.5 1024.2,1294.6 1025.0,1293.5 1025.8,1295.8 1026.6,1293.6 1027.4,1296.3 1028.2,1294.6 1029.0,1297.0 1029.8,1296.0 1030.6,1297.3 1031.4,1296.5 1032.2,1298.3 1033.0,1297.1 1033.8,1298.8 1034.6,1296.9 1035.4,1299.1 1036.2,1297.6 1037.0,1299.3 1037.8,1297.7 1038.6,1299.2 1039.4,1297.0 1040.2,1299.7 1041.0,1297.8 1041.8,1299.5 1042.6,1297.7 1043.4,1299.9 1044.2,1297.8 1045.0,1299.7 1045.8,1298.4 1046.6,1300.8 1047.4,1298.7 1048.2,1301.6 1049.0,1299.9 1049.8,1302.0 1050.6,1301.7 1051.4,1303.6 1052.2,1302.7 1053.0,1305.2 1053.8,1305.1 1054.6,1307.3 1055.4,1306.5 1056.2,1308.9 1057.0,1308.5 1057.8,1310.3 1058.6,1310.0 1059.4,1312.1 1060.2,1311.4 1061.0,1313.5 1061.8,1312.9 1062.6,1315.1 1063.4,1313.7 1064.2,1315.9 1065.0,1314.6 1065.8,1316.3 1066.6,1314.6 1067.4,1316.6 1068.2,1314.3 1069.0,1316.7 1069.8,1313.6 1070.6,1316.0 1071.4,1313.5 1072.2,1316.2 1073.0,1314.1 1073.8,1314.8 1074.6,1313.2 1075.4,1315.7 1076.2,1313.8 1077.0,1315.6 1077.8,1313.4 1078.6,1315.2 1079.4,1313.3 1080.2,1314.7 1081.0,1313.1 1081.8,1313.7 1082.6,1312.7 1083.4,1313.8 1084.2,1312.6 1085.0,1313.7 1085.8,1311.5 1086.6,1313.1 1087.4,1310.7 1088.2,1311.8 1089.0,1309.5 1089.8,1311.0 1090.6,1308.8 1091.4,1310.2 1092.2,1307.4 1093.0,1309.1 1093.8,1306.2 1094.6,1307.6 1095.4,1305.3 1096.2,1307.0 1097.0,1304.1 1097.8,1305.7 1098.6,1303.4 1099.4,1305.2 1100.2,1302.7 1101.0,1305.4 1101.8,1302.9 1102.6,1305.3 1103.4,1303.1 1104.2,1305.9 1105.0,1304.3 1105.8,1306.5 1106.6,1305.9 1107.4,1307.8 1108.2,1306.9 1109.0,1309.0 1109.8,1307.0 1110.6,1309.4 1111.4,1308.4 1112.2,1310.4 1113.0,1309.3 1113.8,1311.3 1114.6,1309.9 1115.4,1312.4 1116.2,1310.8 1117.0,1313.6 1117.8,1311.8 1118.6,1314.0 1119.4,1312.3 1120.2,1314.5 1121.0,1311.9 1121.8,1313.9 1122.6,1312.2 1123.4,1314.0 1124.2,1312.4 1125.0,1315.4 1125.8,1312.5 1126.6,1315.1 1127.4,1312.4 1128.2,1315.0 1129.0,1312.7 1129.8,1314.7 1130.6,1312.8 1131.4,1315.1 1132.2,1312.5 1133.0,1314.4 1133.8,1311.9 1134.6,1314.4 1135.4,1312.0 1136.2,1314.4 1137.0,1312.0 1137.8,1314.6 1138.6,1311.3 1139.4,1313.9 1140.2,1312.3 1141.0,1313.9 1141.8,1311.7 1142.6,1313.8" stroke="#F7520C" />
<polyline points="1142.6,66.3 1142.7,69.3 1142.8,73.3 1143.0,77.3 1143.2,81.3 1143.4,85.3 1143.6,89.3 1143.8,93.3 1144.0,97.3 1144.2,101.3 1144.5,105.3 1144.7,109.3 1145.0,113.3 1145.3,117.3 1145.6,121.2 1145.9,125.2 1146.1,129.2 1146.5,133.2 1146.8,137.2 1147.1,141.2 1147.4,145.2 1147.7,149.1 1148.1,153.1 1148.4,157.1 1148.8,161.1 1149.2,165.1 1149.6,169.1 1150.0,173.0 1150.4,177.0 1150.9,181.0 1151.3,185.0 1151.8,189.0 1152.3,192.9 1152.9,196.9 1153.4,200.9 1154.0,204.8 1154.5,208.8 1155.1,212.7 1155.8,216.7 1156.5,220.6 1157.4,224.5 1158.4,228.4 1159.4,232.3 1160.4,236.2 1161.3,240.1 1162.1,244.0 1162.8,247.9 1163.3,251.9 1163.8,255.8 1164.2,259.7 1164.6,263.7 1165.0,267.7 1165.3,271.6 1165.7,275.6 1166.0,279.6 1166.4,283.5 1166.7,287.5 1167.0,291.5 1167.3,295.5 1167.6,299.4 1167.9,303.4 1168.1,307.4 1168.4,311.4 1168.6,315.4 1168.9,319.4 1169.1,323.4 1169.3,327.4 1169.6,331.4 1169.8,335.4 1170.0,339.4 1170.2,343.4 1170.4,347.4 1170.6,351.4 1170.8,355.4 1171.0,359.4 1171.2,363.4 1171.4,367.5 1171.6,371.5 1171.8,375.5 1172.0,379.5 1172.2,383.5 1172.4,387.5 1172.6,391.5 1172.8,395.5 1173.0,399.5 1173.2,403.5 1173.4,407.5 1173.6,411.5 1173.9,415.5 1174.1,419.5 1174.3,423.5 1174.6,427.5 1174.8,431.5 1175.1,435.5 1175.3,439.5 1175.6,443.5 1175.8,447.5 1176.1,451.5 1176.3,455.4 1176.6,459.4 1176.8,463.4 1177.1,467.4" stroke="#F7520C" stroke-dasharray="10.3 9.9"/>
<polyline points="1177.1,467.4 1177.3,471.4 1177.6,475.4 1177.8,479.4 1178.1,483.4 1178.3,487.4 1178.6,491.4 1178.8,495.4 1179.0,499.4 1179.3,503.4 1179.5,507.3 1179.8,511.3 1180.0,515.3 1180.3,519.3 1180.5,523.3 1180.7,527.3 1181.0,531.3 1181.2,535.3 1181.5,539.3 1181.7,543.3 1181.9,547.3 1182.2,551.3 1182.4,555.3 1182.6,559.3 1182.9,563.2 1183.1,567.2 1183.3,571.2 1183.6,575.2 1183.8,579.2 1184.0,583.2 1184.3,587.2 1184.5,591.2 1184.7,595.2 1184.9,599.2 1185.1,603.2 1185.3,607.2 1185.5,611.2 1185.7,615.2 1185.9,619.2 1186.2,623.2 1186.4,627.2 1186.6,631.1 1186.8,635.1 1187.0,639.1 1187.3,643.1 1187.5,647.1 1187.7,651.1 1188.0,655.1 1188.3,659.1 1188.6,663.1 1188.9,667.1 1189.2,671.1 1189.5,675.0 1189.8,679.0 1190.1,683.0 1190.4,687.0 1190.7,691.0 1191.1,695.0 1191.4,699.0 1191.7,703.0 1191.9,707.0 1192.2,710.9 1192.5,714.9 1192.7,718.9 1193.0,722.9 1193.2,726.9 1193.5,730.9 1193.7,734.9 1194.0,738.9 1194.2,742.9 1194.5,746.9 1194.7,750.9 1195.0,754.9 1195.3,758.8 1195.6,762.8 1195.9,766.8 1196.2,770.8 1196.6,774.8 1196.9,778.8 1197.3,782.8 1197.7,786.7 1198.0,790.7 1198.4,794.7 1198.8,798.7" stroke="#F7520C" stroke-dasharray="9.0 8.2"/>
<polyline points="1198.8,798.7 1199.2,802.7 1199.6,806.6 1200.0,810.6 1200.5,814.6 1200.9,818.6 1201.3,822.6 1201.7,826.5 1202.1,830.5 1202.5,834.5 1202.9,838.5 1203.3,842.5 1203.8,846.4 1204.2,850.4 1204.7,854.4 1205.1,858.4 1205.6,862.3 1206.1,866.3 1206.7,870.3 1207.3,874.2 1207.9,878.2 1208.5,882.1 1209.1,886.1 1209.8,890.0 1210.4,894.0 1211.1,897.9 1211.8,901.9 1212.4,905.8 1213.1,909.8 1213.7,913.7 1214.4,917.7 1215.0,921.6 1215.7,925.6 1216.5,929.5 1217.3,933.5 1218.1,937.4 1219.0,941.2 1220.4,945.5 1222.8,950.4 1225.2,957.9 1227.6,965.8 1230.0,976.8 1232.4,987.8 1234.8,995.3 1237.2,1001.3 1239.6,1008.2 1242.0,1014.8 1244.4,1022.4 1246.8,1030.6 1249.2,1040.7 1251.6,1050.6 1254.0,1060.3 1256.4,1065.2 1258.8,1069.9 1261.2,1076.6 1263.6,1088.9 1266.0,1098.9 1268.4,1107.6 1270.8,1114.7 1273.2,1121.8 1275.6,1126.8" stroke="#F7520C" stroke-dasharray="8.2 7.2"/>
<polyline points="1277.2,1128.8 1278.0,1130.5 1278.8,1130.1 1279.6,1132.0 1280.4,1130.5 1281.2,1133.2 1282.0,1132.4 1282.8,1134.0 1283.6,1132.9 1284.4,1134.2 1285.2,1133.5 1286.0,1135.3 1286.8,1134.1 1287.6,1136.7 1288.4,1134.9 1289.2,1137.3 1290.0,1135.4 1290.8,1138.2 1291.6,1137.1 1292.4,1139.1 1293.2,1138.0 1294.0,1140.9 1294.8,1139.4 1295.6,1141.6 1296.4,1141.3 1297.2,1143.7 1298.0,1143.7 1298.8,1145.4 1299.6,1145.1 1300.4,1147.1 1301.2,1147.2 1302.0,1148.7 1302.8,1148.8 1303.6,1150.7 1304.4,1149.7 1305.2,1151.7 1306.0,1150.6 1306.8,1152.8 1307.6,1150.8 1308.4,1153.5 1309.2,1151.8 1310.0,1153.9 1310.8,1153.0 1311.6,1155.2 1312.4,1153.7 1313.2,1155.9 1314.0,1155.0 1314.8,1158.0 1315.6,1157.0 1316.4,1158.9 1317.2,1157.9 1318.0,1159.7 1318.8,1158.6 1319.6,1160.9 1320.4,1159.2 1321.2,1161.4 1322.0,1160.4 1322.8,1162.4 1323.6,1160.9 1324.4,1163.5 1325.2,1162.0 1326.0,1164.5 1326.8,1162.9 1327.6,1164.9 1328.4,1163.8 1329.2,1165.8 1330.0,1164.4 1330.8,1166.5 1331.6,1165.6 1332.4,1167.6 1333.2,1166.5 1334.0,1167.7 1334.8,1166.7 1335.6,1168.9 1336.4,1167.7 1337.2,1169.7 1338.0,1168.5 1338.8,1171.0 1339.6,1169.6 1340.4,1171.3 1341.2,1170.9 1342.0,1172.8 1342.8,1171.3 1343.6,1173.7 1344.4,1172.2 1345.2,1174.7 1346.0,1173.4 1346.8,1175.2 1347.6,1174.4 1348.4,1176.3 1349.2,1175.6 1350.0,1177.6 1350.8,1176.6 1351.6,1178.4 1352.4,1176.5 1353.2,1179.4 1354.0,1177.8 1354.8,1180.2 1355.6,1179.2 1356.4,1180.8 1357.2,1179.4 1358.0,1181.3 1358.8,1180.2 1359.6,1181.9 1360.4,1181.0 1361.2,1182.8 1362.0,1182.8 1362.8,1184.6 1363.6,1184.7 1364.4,1186.5 1365.2,1186.5 1366.0,1188.5 1366.8,1188.5 1367.6,1190.7 1368.4,1190.1 1369.2,1192.1 1370.0,1191.2 1370.8,1194.2 1371.6,1192.6 1372.4,1194.9 1373.2,1194.1 1374.0,1196.2 1374.8,1194.6 1375.6,1196.4 1376.4,1195.7 1377.2,1197.0 1378.0,1195.4 1378.8,1197.1 1379.6,1194.9 1380.4,1196.9 1381.2,1195.7 1382.0,1197.8 1382.8,1195.9 1383.6,1197.6 1384.4,1195.8 1385.2,1198.4 1386.0,1196.3 1386.8,1199.3 1387.6,1197.7 1388.4,1200.5 1389.2,1198.2 1390.0,1199.9 1390.8,1198.2 1391.6,1199.6 1392.4,1199.0 1393.2,1201.3 1394.0,1200.2 1394.8,1202.2 1395.6,1200.9 1396.4,1202.8 1397.2,1201.8 1398.0,1204.0 1398.8,1202.3 1399.6,1204.3 1400.4,1203.1 1401.2,1205.8 1402.0,1204.7 1402.8,1206.5 1403.6,1204.8 1404.4,1207.2 1405.2,1205.9 1406.0,1208.1 1406.8,1207.0 1407.6,1209.5 1408.4,1208.3 1409.2,1210.9 1410.0,1209.9 1410.8,1212.1 1411.6,1211.3 1412.4,1213.7 1413.2,1213.1 1414.0,1215.2 1414.8,1214.1 1415.6,1216.3 1416.4,1214.4 1417.2,1217.3 1418.0,1214.7 1418.8,1217.3 1419.6,1215.0 1420.4,1216.1 1421.2,1214.1 1422.0,1215.9 1422.8,1213.5 1423.6,1215.1 1424.4,1213.5 1425.2,1214.9 1426.0,1212.9 1426.8,1214.4 1427.6,1212.6 1428.4,1214.1 1429.2,1212.4 1430.0,1214.6 1430.8,1212.7 1431.6,1214.6 1432.4,1213.0 1433.2,1215.6 1434.0,1214.5 1434.8,1216.6 1435.6,1215.6 1436.4,1218.2 1437.2,1218.2 1438.0,1220.0 1438.8,1220.9 1439.6,1223.2 1440.4,1224.3 1441.2,1226.7 1442.0,1227.5 1442.8,1229.7 1443.6,1228.7 1444.4,1230.5 1445.2,1229.7 1446.0,1231.6 1446.8,1230.2 1447.6,1232.2 1448.4,1230.3 1449.2,1232.6 1450.0,1231.3 1450.8,1233.6 1451.6,1231.6 1452.4,1233.6 1453.2,1232.3 1454.0,1234.4 1454.8,1233.0 1455.6,1235.1 1456.4,1233.0 1457.2,1235.5 1458.0,1233.8 1458.8,1236.1 1459.6,1234.3 1460.4,1236.1 1461.2,1233.8 1462.0,1236.4 1462.8,1234.1 1463.6,1236.8 1464.4,1234.9 1465.2,1236.3 1466.0,1235.2 1466.8,1237.3 1467.6,1235.1 1468.4,1237.7 1469.2,1235.9 1470.0,1236.9 1470.8,1235.8 1471.6,1237.7 1472.4,1235.9 1473.2,1238.1 1474.0,1235.7 1474.8,1237.8 1475.6,1235.9 1476.4,1238.0 1477.2,1236.4 1478.0,1238.0 1478.8,1236.3 1479.6,1239.0 1480.4,1237.0 1481.2,1239.3 1482.0,1236.8 1482.8,1239.3 1483.6,1237.8 1484.4,1240.2 1485.2,1238.3 1486.0,1241.1 1486.8,1239.1 1487.6,1241.4 1488.4,1239.9 1489.2,1242.4 1490.0,1240.5 1490.8,1243.4 1491.6,1241.8 1492.4,1244.1 1493.2,1242.7 1494.0,1245.2 1494.8,1243.9 1495.6,1246.2 1496.4,1244.6 1497.2,1247.0 1498.0,1245.2 1498.8,1247.7 1499.6,1245.5 1500.4,1246.9 1501.2,1246.1 1502.0,1247.5 1502.8,1244.9 1503.6,1246.9 1504.4,1244.4 1505.2,1246.8 1506.0,1244.1 1506.8,1244.9 1507.6,1243.4 1508.4,1244.6 1509.2,1243.3 1510.0,1244.1 1510.8,1241.7 1511.6,1244.4 1512.4,1242.4 1513.2,1244.5 1514.0,1242.1 1514.8,1245.2 1515.6,1243.7 1516.4,1244.5 1517.2,1243.6 1518.0,1244.9 1518.8,1243.8 1519.6,1244.9 1520.4,1242.4 1521.2,1244.6 1522.0,1242.0 1522.8,1243.2 1523.6,1241.2 1524.4,1242.3 1525.2,1239.4 1526.0,1242.2 1526.8,1239.0 1527.6,1240.3 1528.4,1238.3 1529.2,1239.1 1530.0,1236.8 1530.8,1238.5 1531.6,1236.3 1532.4,1237.9 1533.2,1236.1 1534.0,1237.2 1534.8,1235.5 1535.6,1237.5 1536.4,1235.0 1537.2,1237.8 1538.0,1236.0 1538.8,1239.2 1539.6,1238.0 1540.4,1240.4 1541.2,1239.2 1542.0,1241.9 1542.8,1240.9 1543.6,1243.6 1544.4,1242.5 1545.2,1244.5 1546.0,1244.0 1546.8,1246.1 1547.6,1244.4 1548.4,1247.1 1549.2,1245.1 1550.0,1247.3 1550.8,1245.9 1551.6,1247.8 1552.4,1246.3 1553.2,1248.5 1554.0,1247.4 1554.8,1249.6 1555.6,1247.2 1556.4,1249.9 1557.2,1247.5 1558.0,1249.6 1558.8,1247.9 1559.6,1249.6 1560.4,1248.4 1561.2,1249.7 1562.0,1247.3 1562.8,1250.2 1563.6,1247.8 1564.4,1250.0 1565.2,1247.3 1566.0,1251.0 1566.8,1249.3 1567.6,1251.6 1568.4,1250.0 1569.2,1252.5 1570.0,1250.3 1570.8,1252.9 1571.6,1250.7 1572.4,1253.0 1573.2,1251.9 1574.0,1253.8 1574.8,1252.0 1575.6,1254.5 1576.4,1253.2 1577.2,1255.1 1578.0,1254.3 1578.8,1256.1 1579.6,1254.6 1580.4,1256.7 1581.2,1256.1 1582.0,1257.0 1582.8,1255.8 1583.6,1257.8 1584.4,1255.7 1585.2,1256.9 1586.0,1255.2 1586.8,1257.2 1587.6,1255.4 1588.4,1256.9 1589.2,1254.7 1590.0,1257.5 1590.8,1255.6 1591.6,1257.4 1592.4,1255.2 1593.2,1257.6 1594.0,1255.6 1594.8,1258.0 1595.6,1255.6 1596.4,1258.2 1597.2,1256.6 1598.0,1258.5 1598.8,1257.6 1599.6,1259.8 1600.4,1258.5 1601.2,1260.9 1602.0,1259.3 1602.8,1262.0 1603.6,1260.9 1604.4,1263.3 1605.2,1262.2 1606.0,1263.9 1606.8,1262.2 1607.6,1265.2 1608.4,1263.5 1609.2,1266.3 1610.0,1263.9 1610.8,1265.4 1611.6,1264.0 1612.4,1265.4 1613.2,1263.1 1614.0,1266.2 1614.8,1263.2 1615.6,1265.0 1616.4,1262.6 1617.2,1264.6 1618.0,1261.7 1618.8,1263.5 1619.6,1260.4 1620.4,1261.9 1621.2,1260.9 1622.0,1262.6 1622.8,1261.0 1623.6,1262.7 1624.4,1261.9 1625.2,1263.6 1626.0,1263.5 1626.8,1265.2 1627.6,1264.8 1628.4,1266.7 1629.2,1266.5 1630.0,1268.3 1630.8,1268.4 1631.6,1270.3 1632.4,1271.0 1633.2,1273.3 1634.0,1273.5 1634.8,1275.4 1635.6,1275.6 1636.4,1277.5 1637.2,1277.1 1638.0,1278.7 1638.8,1278.8 1639.6,1280.4 1640.4,1279.9 1641.2,1282.2 1642.0,1281.1 1642.8,1283.2 1643.6,1282.5 1644.4,1283.7 1645.2,1281.8 1646.0,1283.2 1646.8,1281.4 1647.6,1283.2 1648.4,1281.5 1649.2,1283.4 1650.0,1281.7 1650.8,1284.0 1651.6,1281.9 1652.4,1283.9 1653.2,1282.1 1654.0,1284.8 1654.8,1282.7 1655.6,1285.1 1656.4,1283.1 1657.2,1284.6 1658.0,1283.0 1658.8,1284.2 1659.6,1283.4 1660.4,1285.0 1661.2,1282.4 1662.0,1284.0 1662.8,1282.5 1663.6,1283.6 1664.4,1282.0 1665.2,1284.5 1666.0,1283.0 1666.8,1285.1 1667.6,1285.0 1668.4,1286.7 1669.2,1286.8 1670.0,1288.6 1670.8,1288.0 1671.6,1290.3 1672.4,1288.9 1673.2,1291.9 1674.0,1290.1 1674.8,1293.1 1675.6,1291.0 1676.4,1293.9 1677.2,1292.2 1678.0,1294.5 1678.8,1293.7 1679.6,1296.2 1680.4,1294.4 1681.2,1297.3 1682.0,1295.7 1682.8,1298.0 1683.6,1297.1 1684.4,1299.2 1685.2,1297.8 1686.0,1300.7 1686.8,1299.5 1687.6,1301.3 1688.4,1300.0 1689.2,1301.9 1690.0,1300.5 1690.8,1303.1 1691.6,1301.0 1692.4,1302.6 1693.2,1300.8 1694.0,1303.5 1694.8,1300.7 1695.6,1302.5 1696.4,1301.1 1697.2,1302.7 1698.0,1300.6 1698.8,1302.3 1699.6,1300.2 1700.4,1302.4 1701.2,1301.2 1702.0,1303.6 1702.8,1302.8 1703.6,1305.1 1704.4,1304.3 1705.2,1306.6 1706.0,1305.2 1706.8,1307.2 1707.6,1306.2 1708.4,1308.1 1709.2,1306.2 1710.0,1307.9 1710.8,1305.5 1711.6,1307.0 1712.4,1305.2 1713.2,1306.9 1714.0,1304.5 1714.8,1306.8 1715.6,1304.4 1716.4,1305.9 1717.2,1304.2 1718.0,1306.6 1718.8,1303.6 1719.6,1306.0 1720.4,1303.9 1721.2,1305.7 1722.0,1302.7 1722.8,1304.8 1723.6,1302.6 1724.4,1301.9 1725.2,1299.7 1726.0,1298.6 1726.8,1296.4 1727.6,1295.9 1728.4,1294.4 1729.2,1294.5 1730.0,1292.6 1730.8,1293.6 1731.6,1291.7 1732.4,1292.7 1733.2,1290.2 1734.0,1292.1 1734.8,1289.9 1735.6,1292.2 1736.4,1289.3 1737.2,1291.9 1738.0,1290.2 1738.8,1292.0 1739.6,1291.2 1740.4,1293.8 1741.2,1292.5 1742.0,1294.6 1742.8,1293.9 1743.6,1296.2 1744.4,1294.6 1745.2,1296.1 1746.0,1294.7 1746.8,1297.1 1747.6,1294.8 1748.4,1296.9 1749.2,1295.6 1750.0,1298.0 1750.8,1295.2 1751.6,1296.8 1752.4,1295.3 1753.2,1297.4 1754.0,1295.8 1754.8,1298.1 1755.6,1295.9 1756.4,1297.7 1757.2,1296.1 1758.0,1297.7 1758.8,1296.0 1759.6,1297.8 1760.4,1296.9 1761.2,1298.2 1762.0,1295.5 1762.8,1297.3 1763.6,1295.3 1764.4,1296.5 1765.2,1294.5 1766.0,1295.9 1766.8,1294.2 1767.6,1295.1 1768.4,1292.7 1769.2,1293.9 1770.0,1291.7 1770.8,1293.4 1771.6,1291.3 1772.4,1292.8 1773.2,1290.2 1774.0,1292.0 1774.8,1289.7 1775.6,1291.0 1776.4,1288.4 1777.2,1290.5 1778.0,1289.3 1778.8,1291.8 1779.6,1289.9 1780.4,1292.3 1781.2,1291.0 1782.0,1293.1 1782.8,1292.1 1783.6,1294.6 1784.4,1293.5 1785.2,1295.3 1786.0,1294.0 1786.8,1296.2 1787.6,1294.8 1788.4,1296.5 1789.2,1296.0 1790.0,1297.7 1790.8,1296.3 1791.6,1299.0 1792.4,1297.5 1793.2,1299.4 1794.0,1298.1 1794.8,1299.8 1795.6,1298.2 1796.4,1299.8 1797.2,1299.2 1798.0,1300.2 1798.8,1299.2 1799.6,1300.7 1800.4,1298.7 1801.2,1301.0 1802.0,1299.1 1802.8,1301.1 1803.6,1299.3 1804.4,1300.6 1805.2,1298.6 1806.0,1299.8 1806.8,1298.2 1807.6,1299.8 1808.4,1297.8 1809.2,1299.8 1810.0,1298.1 1810.8,1300.2 1811.6,1298.7 1812.4,1300.5 1813.2,1298.8 1814.0,1301.5 1814.8,1298.9 1815.6,1301.5 1816.4,1300.5 1817.2,1301.2 1818.0,1300.1 1818.8,1302.8 1819.6,1300.1 1820.4,1303.7 1821.2,1300.0 1822.0,1303.5 1822.8,1301.6 1823.6,1303.4 1824.4,1301.1 1825.2,1303.3 1826.0,1301.1 1826.8,1303.8 1827.6,1301.5 1828.4,1303.9 1829.2,1302.8 1830.0,1304.2 1830.8,1302.9 1831.6,1305.2 1832.4,1303.0 1833.2,1305.9 1834.0,1303.7 1834.8,1305.0 1835.6,1303.5 1836.4,1305.1 1837.2,1303.0 1838.0,1305.0 1838.8,1302.6 1839.6,1304.7 1840.4,1301.9 1841.2,1304.0 1842.0,1301.4 1842.8,1303.2 1843.6,1300.5 1844.4,1302.0 1845.2,1299.4 1846.0,1301.4 1846.8,1299.2 1847.6,1301.1 1848.4,1298.4 1849.2,1299.6 1850.0,1297.1 1850.8,1298.9 1851.6,1296.5 1852.4,1298.6 1853.2,1296.2 1854.0,1297.3 1854.8,1295.2 1855.6,1297.8 1856.4,1295.3 1857.2,1297.1 1858.0,1295.6 1858.8,1297.1 1859.6,1295.3 1860.4,1297.3 1861.2,1295.0 1862.0,1298.1 1862.8,1295.5 1863.6,1297.8 1864.4,1295.8 1865.2,1298.3 1866.0,1296.0 1866.8,1298.0 1867.6,1295.4 1868.4,1297.8 1869.2,1295.3 1870.0,1297.9 1870.8,1295.9 1871.6,1297.7 1872.4,1296.5 1873.2,1298.1 1874.0,1296.2 1874.8,1298.2 1875.6,1296.2 1876.4,1298.8 1877.2,1297.0 1878.0,1298.4 1878.8,1297.5 1879.6,1299.6 1880.4,1298.1 1881.2,1300.2 1882.0,1298.0 1882.8,1300.3 1883.6,1299.9 1884.4,1301.6 1885.2,1299.9 1886.0,1302.5 1886.8,1301.3 1887.6,1303.0 1888.4,1301.8 1889.2,1303.9 1890.0,1303.4 1890.8,1305.2 1891.6,1304.5 1892.4,1306.7 1893.2,1306.1 1894.0,1307.5 1894.8,1306.9 1895.6,1308.8 1896.4,1306.5 1897.2,1308.5 1898.0,1306.3 1898.8,1307.8 1899.6,1305.0 1900.4,1306.7 1901.2,1305.1 1902.0,1305.5 1902.8,1303.0 1903.6,1305.1 1904.4,1303.0 1905.2,1304.6 1906.0,1302.0 1906.8,1304.5 1907.6,1302.0 1908.4,1303.8 1909.2,1302.1 1910.0,1304.3 1910.8,1302.7 1911.6,1304.7 1912.4,1302.7 1913.2,1305.1 1914.0,1303.0 1914.8,1305.2 1915.6,1302.5 1916.4,1304.3 1917.2,1303.0 1918.0,1304.1 1918.8,1302.3 1919.6,1304.1 1920.4,1301.8 1921.2,1303.6 1922.0,1302.2 1922.8,1302.7 1923.6,1301.8 1924.4,1304.3 1925.2,1301.6 1926.0,1303.4 1926.8,1302.5 1927.6,1304.6 1928.4,1303.6 1929.2,1306.0 1930.0,1305.5 1930.8,1308.2 1931.6,1306.5 1932.4,1308.4 1933.2,1305.7 1934.0,1307.0 1934.8,1304.5 1935.6,1305.5 1936.4,1303.5 1937.2,1304.6 1938.0,1302.2 1938.8,1304.5 1939.6,1301.9 1940.4,1303.1 1941.2,1301.8 1942.0,1302.8 1942.8,1301.2 1943.6,1302.7 1944.4,1300.8 1945.2,1302.4 1946.0,1300.1 1946.8,1302.0 1947.6,1300.5 1948.4,1300.7 1949.2,1299.2 1950.0,1301.0 1950.8,1298.2 1951.6,1299.7 1952.4,1298.6 1953.2,1299.4 1954.0,1298.0 1954.8,1299.2 1955.6,1296.8 1956.4,1298.7 1957.2,1296.5 1958.0,1298.4 1958.8,1295.9 1959.6,1297.3 1960.4,1295.0 1961.2,1296.6 1962.0,1294.2 1962.8,1294.8 1963.6,1292.5 1964.4,1293.9 1965.2,1291.2 1966.0,1292.6 1966.8,1289.9 1967.6,1291.6 1968.4,1289.6 1969.2,1291.5 1970.0,1288.9 1970.8,1291.5 1971.6,1288.7 1972.4,1291.8 1973.2,1289.1 1974.0,1291.0 1974.8,1288.9 1975.6,1290.3 1976.4,1289.5 1977.2,1292.0 1978.0,1291.5 1978.8,1293.1 1979.6,1293.6 1980.4,1295.4 1981.2,1295.8 1982.0,1297.4 1982.8,1297.7 1983.6,1300.3 1984.4,1299.1 1985.2,1301.2 1986.0,1298.9 1986.8,1301.8 1987.6,1299.8 1988.4,1301.8 1989.2,1300.0 1990.0,1302.0 1990.8,1299.6 1991.6,1301.0 1992.4,1298.8 1993.2,1301.5 1994.0,1299.0 1994.8,1300.5 1995.6,1298.1 1996.4,1300.0 1997.2,1297.8 1998.0,1299.4 1998.8,1297.2 1999.6,1300.0 2000.4,1297.3 2001.2,1299.0 2002.0,1296.8 2002.8,1299.0 2003.6,1297.5 2004.4,1299.6 2005.2,1297.3 2006.0,1299.4 2006.8,1297.3 2007.6,1299.0 2008.4,1297.8 2009.2,1299.4 2010.0,1298.1 2010.8,1298.9 2011.6,1297.1 2012.4,1299.5 2013.2,1297.2 2014.0,1298.9 2014.8,1297.3 2015.6,1299.8 2016.4,1298.1 2017.2,1300.2 2018.0,1298.8 2018.8,1300.9 2019.6,1298.8 2020.4,1300.8 2021.2,1298.7 2022.0,1300.9 2022.8,1299.0 2023.6,1300.5 2024.4,1298.5 2025.2,1300.0 2026.0,1297.4 2026.8,1299.3 2027.6,1297.7 2028.4,1299.4 2029.2,1297.7 2030.0,1299.1 2030.8,1297.4 2031.6,1299.6 2032.4,1297.9 2033.2,1299.7 2034.0,1298.5 2034.8,1300.9 2035.6,1299.4 2036.4,1302.0 2037.2,1300.8 2038.0,1302.4 2038.8,1301.6 2039.6,1302.8 2040.4,1301.0 2041.2,1303.0 2042.0,1301.0 2042.8,1303.4 2043.6,1301.4 2044.4,1303.6 2045.2,1301.5 2046.0,1302.9 2046.8,1300.8 2047.6,1301.9 2048.4,1300.4 2049.2,1301.8 2050.0,1300.6 2050.8,1302.4 2051.6,1301.3 2052.4,1303.3 2053.2,1301.8 2054.0,1303.9 2054.8,1302.7 2055.6,1305.0 2056.4,1304.1 2057.2,1305.7 2058.0,1305.3 2058.8,1307.7 2059.6,1306.3 2059.7,1308.0" stroke="#F7520C" />
<polyline points="228.0,61.0 228.1,64.0 228.3,68.0 228.5,72.0 228.7,76.0 229.0,80.0 229.2,84.0 229.4,88.0 229.6,92.0 229.8,96.0 230.0,100.0 230.2,103.9 230.4,107.9 230.6,111.9 230.8,115.9 231.0,119.9 231.2,123.9 231.5,127.9 231.7,131.9 231.9,135.9 232.1,139.9 232.3,143.9 232.6,147.9 232.8,151.9 233.0,155.9 233.2,159.9 233.4,163.9 233.7,167.9 233.9,171.8 234.1,175.8 234.4,179.8 234.6,183.8 234.8,187.8 235.0,191.8 235.3,195.8 235.5,199.8 235.7,203.8 236.0,207.8 236.2,211.8 236.4,215.8 236.7,219.8 236.9,223.8 237.2,227.8 237.4,231.7 237.6,235.7 237.9,239.7 238.1,243.7 238.4,247.7 238.6,251.7 238.8,255.7 239.1,259.7 239.3,263.7 239.6,267.7 239.8,271.7 240.1,275.7 240.3,279.7 240.6,283.6 240.8,287.6 241.1,291.6 241.3,295.6 241.6,299.6 241.8,303.6 242.1,307.6 242.3,311.6 242.6,315.6 242.8,319.6 243.1,323.6 243.3,327.6 243.6,331.6 243.8,335.5 244.1,339.5 244.4,343.5 244.6,347.5 244.9,351.5 245.2,355.5 245.5,359.5 245.7,363.5 246.0,367.5 246.3,371.5 246.6,375.4 246.9,379.4 247.2,383.4 247.5,387.4 247.8,391.4 248.1,395.4 248.4,399.4 248.7,403.4 249.0,407.4 249.3,411.3 249.6,415.3 249.9,419.3 250.2,423.3 250.5,427.3 250.8,431.3 251.1,435.3 251.4,439.3 251.6,443.3 251.9,447.3 252.2,451.2 252.5,455.2 252.7,459.2 253.0,463.2 253.2,467.2 253.5,471.2 253.7,475.2 254.0,479.2 254.2,483.2 254.4,487.2 254.6,491.2 254.8,495.2 255.0,499.2 255.2,503.2 255.4,507.1 255.6,511.1 255.8,515.1 256.0,519.1 256.2,523.1 256.4,527.1 256.5,531.1 256.7,535.1 256.9,539.1 257.1,543.1 257.3,547.1 257.5,551.1 257.6,555.1 257.8,559.1 258.0,563.1 258.2,567.1 258.3,571.1 258.5,575.1 258.7,579.1 258.9,583.1 259.0,587.1 259.2,591.1 259.4,595.1 259.5,599.1 259.7,603.1 259.9,607.1 260.1,611.0 260.2,615.0 260.4,619.0 260.6,623.0 260.8,627.0 261.0,631.0 261.1,635.0 261.3,639.0 261.5,643.0 261.7,647.0 261.9,651.0 262.1,655.0 262.3,659.0 262.5,663.0 262.7,667.0 263.0,671.0 263.2,675.0 263.4,679.0 263.6,683.0 263.8,687.0 264.0,691.0 264.2,694.9 264.4,698.9 264.6,702.9 264.8,706.9 265.0,710.9 265.1,714.9 265.3,718.9 265.5,722.9 265.7,726.9 265.8,730.9 266.0,734.9 266.1,738.9 266.2,742.9 266.4,746.9 266.5,750.9 266.6,754.9 266.8,758.9 266.9,762.9 267.1,766.9 267.3,770.9 267.4,774.9 267.6,778.9 267.9,782.9 268.1,786.9 268.4,790.8 268.7,794.8 269.0,798.8 269.3,802.8 269.7,806.8 270.1,810.8 270.5,814.8 270.9,818.7 271.3,822.7 271.8,826.7 272.1,830.7 272.5,834.7 272.7,838.7 273.0,842.6 273.3,846.6 273.5,850.6 273.9,854.6 274.2,858.6 274.8,862.6 275.4,866.5 276.0,870.5 276.7,874.4 277.4,878.4 277.9,882.3 278.4,886.3 278.8,890.3 279.1,894.3 279.5,898.2 279.8,902.2 280.2,906.2 280.7,910.2 281.2,914.1 281.9,918.1 282.5,922.0 283.2,926.0 283.8,929.9 284.3,933.9 284.8,937.9 285.2,941.8 285.6,945.8 285.9,949.8 286.3,953.8 286.7,957.8 287.2,961.7 287.7,965.7 288.3,969.7 288.9,973.6 289.6,977.6 290.2,981.5 290.9,985.5 291.7,989.4 292.6,993.3 293.3,997.2 294.0,1001.2 294.6,1005.1 295.1,1009.1 295.5,1013.1 295.8,1017.1 296.2,1021.1 296.7,1025.0 298.1,1028.6 300.0,1032.2 302.0,1035.8 303.3,1039.6 304.2,1043.5 305.0,1047.4 305.7,1051.4 306.7,1055.3 307.7,1057.0 308.5,1057.7 309.3,1059.7 310.1,1060.4 310.9,1062.6 311.7,1063.4 312.5,1065.6 313.3,1066.7 314.1,1068.7 314.9,1069.9 315.7,1072.1 316.5,1073.3 317.3,1075.6 318.1,1076.9 318.9,1079.1 319.7,1080.4 320.5,1082.6 321.3,1084.1 322.1,1086.3 322.9,1088.0 323.7,1090.3 324.5,1092.1 325.3,1094.8 326.1,1096.9 326.9,1100.1 327.7,1103.4 328.5,1107.1 329.3,1110.2 330.1,1113.2 330.9,1115.4 331.7,1118.2 332.5,1120.2 333.3,1122.7 334.1,1124.4 334.9,1126.9 335.7,1128.4 336.5,1130.7 337.3,1131.9 338.1,1133.9 338.9,1134.8 339.7,1137.1 340.5,1138.5 341.3,1141.0 342.1,1143.5 342.9,1147.1 343.7,1150.6 344.5,1154.1 345.3,1155.9 346.1,1158.0 346.9,1158.7 347.7,1160.8 348.5,1161.2 349.3,1162.7 350.1,1162.9 350.9,1164.9 351.7,1164.3 352.5,1166.2 353.3,1166.3 354.1,1168.3 354.9,1169.2 355.7,1171.3 356.5,1173.8 357.3,1177.2 358.1,1180.2 358.9,1183.1 359.7,1184.3 360.5,1186.0 361.3,1186.1 362.1,1188.1 362.9,1188.0 363.7,1189.6 364.5,1189.8 365.3,1191.0 366.1,1190.5 366.9,1192.7 367.7,1191.5 368.5,1193.9 369.3,1193.1 370.1,1195.3 370.9,1195.0 371.7,1197.1 372.5,1197.0 373.3,1199.0 374.1,1198.9 374.9,1200.8 375.7,1200.6 376.5,1202.8 377.3,1202.5 378.1,1204.5 378.9,1204.9 379.7,1206.8 380.5,1206.7 381.3,1208.8 382.1,1208.9 382.9,1210.5 383.7,1210.6 384.5,1212.4 385.3,1212.5 386.1,1214.3 386.9,1214.5 387.7,1216.3 388.5,1216.0 389.3,1218.1 390.1,1217.8 390.9,1220.0 391.7,1220.1 392.5,1222.1 393.3,1221.6 394.1,1224.1 394.9,1224.2 395.7,1226.4 396.5,1226.4 397.3,1228.2 398.1,1228.3 398.9,1230.3 399.7,1230.1 400.5,1232.2 401.3,1231.9 402.1,1233.6 402.9,1233.2 403.7,1234.9 404.5,1233.9 405.3,1236.4 406.1,1234.7 406.9,1236.1 407.7,1234.4 408.5,1236.6 409.3,1235.1 410.1,1236.9 410.9,1234.9 411.7,1236.1 412.5,1234.8 413.3,1237.2 414.1,1235.3 414.9,1237.5 415.7,1235.5 416.5,1238.4 417.3,1236.5 418.1,1238.1 418.9,1236.1 419.7,1239.2 420.5,1237.0 421.3,1239.5 422.1,1238.9 422.9,1240.2 423.7,1240.2 424.5,1242.0 425.3,1242.1 426.1,1244.0 426.9,1244.4 427.7,1246.1 428.5,1246.0 429.3,1248.3 430.1,1247.9 430.9,1249.9 431.7,1250.3 432.5,1251.8 433.3,1251.8 434.1,1253.9 434.9,1253.7 435.7,1255.6 436.5,1256.1 437.3,1257.8 438.1,1257.9 438.9,1259.8 439.7,1259.7 440.5,1261.6 441.3,1261.8 442.1,1264.1 442.9,1263.8 443.7,1265.7 444.5,1265.3 445.3,1267.4 446.1,1267.3 446.9,1269.6 447.7,1269.6 448.5,1271.6 449.3,1271.8 450.1,1273.7 450.9,1273.8 451.7,1276.1 452.5,1276.0 453.3,1278.0 454.1,1278.3 454.9,1280.2 455.7,1280.4 456.5,1282.5 457.3,1282.2 458.1,1284.2 458.9,1283.9 459.7,1286.0 460.5,1285.1 461.3,1287.6 462.1,1286.8 462.9,1288.8 463.7,1288.6 464.5,1290.5 465.3,1290.1 466.1,1292.3 466.9,1290.7 467.7,1293.2 468.5,1292.8 469.3,1294.4 470.1,1293.5 470.9,1295.0 471.7,1293.4 472.5,1295.3 473.3,1294.5 474.1,1296.4 474.9,1294.7 475.7,1296.7 476.5,1295.6 477.3,1297.1 478.1,1296.3 478.9,1299.0 479.7,1298.1 480.5,1299.7 481.3,1299.2 482.1,1300.8 482.9,1299.6 483.7,1301.5 484.5,1301.4 485.3,1303.3 486.1,1303.0 486.9,1304.6 487.7,1303.4 488.5,1304.9 489.3,1304.6 490.1,1306.0 490.9,1304.7 491.7,1306.0 492.5,1305.4 493.3,1307.3 494.1,1305.3 494.9,1307.3 495.7,1305.9 496.5,1307.9 497.3,1306.1 498.1,1308.5 498.9,1306.5 499.7,1308.3 500.5,1307.1 501.3,1308.5 502.1,1307.9 502.9,1310.5 503.7,1309.4 504.5,1311.4 505.3,1311.2 506.1,1312.9 506.9,1312.9 507.7,1315.3 508.5,1315.0 509.3,1317.0 510.1,1317.0 510.9,1319.5 511.7,1318.7 512.5,1321.3 513.3,1320.2 514.1,1322.6 514.9,1322.5 515.7,1324.9 516.5,1323.8 517.3,1326.0 518.1,1324.4 518.9,1326.9 519.7,1325.2 520.5,1326.4 521.3,1323.6 522.1,1326.3 522.9,1323.7 523.7,1325.2 524.5,1322.5 525.3,1324.7 526.1,1321.5 526.9,1323.1 527.7,1319.9 528.5,1321.9 529.3,1319.6 530.1,1321.5 530.9,1319.5 531.7,1320.9 532.5,1319.6 533.3,1320.5 534.1,1318.6 534.9,1320.6 535.7,1317.9 536.5,1320.4 537.3,1318.2 538.1,1319.7 538.9,1318.3 539.7,1319.5 540.5,1317.6 541.3,1319.1 542.1,1316.9 542.9,1319.3 543.7,1317.5 544.5,1319.6 545.3,1318.2 546.1,1319.3 546.9,1317.9 547.7,1319.9 548.5,1319.4 549.3,1321.0 550.1,1319.5 550.9,1321.5 551.7,1320.8 552.5,1322.5 553.3,1321.5 554.1,1322.8 554.9,1322.5 555.7,1324.2 556.5,1323.1 557.3,1325.1 558.1,1323.4 558.9,1325.2 559.7,1324.0 560.5,1325.7 561.3,1323.8 562.1,1325.6 562.9,1323.8 563.7,1326.1 564.5,1324.6 565.3,1326.3 566.1,1325.4 566.9,1326.4 567.7,1325.5 568.5,1328.3 569.3,1326.4 570.1,1328.4 570.9,1328.2 571.7,1330.4 572.5,1328.7 573.3,1332.0 574.1,1330.2 574.9,1332.7 575.7,1331.7 576.5,1334.0 577.3,1332.2 578.1,1334.6 578.9,1332.5 579.7,1334.9 580.5,1332.8 581.3,1334.9 582.1,1332.3 582.9,1333.8 583.7,1331.6 584.5,1333.8 585.3,1332.3 586.1,1334.0 586.9,1331.5 587.7,1334.2 588.5,1331.6 589.3,1334.7 590.1,1332.5 590.9,1335.3 591.7,1333.8 592.5,1335.9 593.3,1334.6 594.1,1336.5 594.9,1335.2 595.7,1338.0 596.5,1337.3 597.3,1338.2 598.1,1336.1 598.9,1337.7 599.7,1336.3 600.5,1337.2 601.3,1335.2 602.1,1337.3 602.9,1334.4 603.7,1337.1 604.5,1334.5 605.3,1335.6 606.1,1333.3 606.9,1334.8 607.7,1332.6 608.5,1335.1 609.3,1333.1 610.1,1335.0 610.9,1333.0 611.7,1334.9 612.5,1333.3 613.3,1334.9 614.1,1333.5 614.9,1336.1 615.7,1334.1 616.5,1335.4 617.3,1333.3 618.1,1335.7 618.9,1333.5 619.7,1334.0 620.5,1331.9 621.3,1333.7 622.1,1331.7 622.9,1332.6 623.7,1330.9 624.5,1332.3 625.3,1331.0 626.1,1332.2 626.9,1330.0 627.7,1331.9 628.5,1330.5 629.3,1332.5 630.1,1330.1 630.9,1332.8 631.7,1330.7 632.5,1333.4 633.3,1331.7 634.1,1334.2 634.9,1333.0 635.7,1335.2 636.5,1333.8 637.3,1335.1 638.1,1332.8 638.9,1333.1 639.7,1331.4 640.5,1330.9 641.3,1328.8 642.1,1329.2 642.9,1327.0 643.7,1327.0 644.5,1324.6 645.3,1324.5 646.1,1322.5 646.9,1323.4 647.7,1320.8 648.5,1322.1 649.3,1319.8 650.1,1322.0 650.9,1320.9 651.7,1323.0 652.5,1320.9 653.3,1323.3 654.1,1322.0 654.9,1324.6 655.7,1322.7 656.5,1325.2 657.3,1323.2 658.1,1325.6 658.9,1324.7 659.7,1326.9 660.5,1324.8 661.3,1327.0 662.1,1325.9 662.9,1327.6 663.7,1325.9 664.5,1328.3 665.3,1326.5 666.1,1328.8 666.9,1326.9 667.7,1328.5 668.5,1326.8 669.3,1328.7 670.1,1326.4 670.9,1328.4 671.7,1327.1 672.5,1328.2 673.3,1327.1 674.1,1328.8 674.9,1326.7 675.7,1328.9 676.5,1327.0 677.3,1329.4 678.1,1327.0 678.9,1329.3 679.7,1327.6 680.5,1330.6 681.3,1328.7 682.1,1330.4 682.9,1329.0 683.7,1331.3 684.5,1329.8 685.3,1332.1 686.1,1331.0 686.9,1331.6 687.7,1330.5 688.5,1332.1 689.3,1329.4 690.1,1331.2 690.9,1328.6 691.7,1330.3 692.5,1328.1 693.3,1328.6 694.1,1327.0 694.9,1327.8 695.7,1326.0 696.5,1327.0 697.3,1324.9 698.1,1326.1 698.9,1324.0 699.7,1325.2 700.5,1322.9 701.3,1324.9 702.1,1323.0 702.9,1325.1 703.7,1321.9 704.5,1324.3 705.3,1322.9 706.1,1324.0 706.9,1322.5 707.7,1325.3 708.5,1323.3 709.3,1324.5 710.1,1323.4 710.9,1325.5 711.7,1323.5 712.5,1325.6 713.3,1324.1 714.1,1326.0 714.9,1325.2 715.7,1327.6 716.5,1326.9 717.3,1329.3 718.1,1328.3 718.9,1329.9 719.7,1329.8 720.5,1331.8 721.3,1331.5 722.1,1333.3 722.9,1333.3 723.7,1335.6 724.5,1335.5 725.3,1337.7 726.1,1337.5 726.9,1339.3 727.7,1339.3 728.5,1340.3 729.3,1339.3 730.1,1341.9 730.9,1339.9 731.7,1342.4 732.5,1340.2 733.3,1342.2 734.1,1341.2 734.9,1342.4 735.7,1340.5 736.5,1342.3 737.3,1340.5 738.1,1343.0 738.9,1341.3 739.7,1343.0 740.5,1342.3 741.3,1344.4 742.1,1344.1 742.9,1346.2 743.7,1346.5 744.5,1348.3 745.3,1348.4 746.1,1350.3 746.9,1349.3 747.7,1352.3 748.5,1350.2 749.3,1352.5 750.1,1350.3 750.9,1352.8 751.7,1350.9 752.5,1353.2 753.3,1351.7 754.1,1352.9 754.9,1351.2 755.7,1353.3 756.5,1350.3 757.3,1353.1 758.1,1352.0 758.9,1354.3 759.7,1352.6 760.5,1355.2 761.3,1354.2 762.1,1355.8 762.9,1355.4 763.7,1357.7 764.5,1356.4 765.3,1358.2 766.1,1357.7 766.9,1359.5 767.7,1357.9 768.5,1360.2 769.3,1358.0 770.1,1360.4 770.9,1357.9 771.7,1359.3 772.5,1356.8 773.3,1357.2 774.1,1355.2 774.9,1356.0 775.7,1353.5 776.5,1354.7 777.3,1351.8 778.1,1352.2 778.9,1350.4 779.7,1350.8 780.5,1348.4 781.3,1348.7 782.1,1346.7 782.9,1347.0 783.7,1344.8 784.5,1344.9 785.3,1342.9 786.1,1343.6 786.9,1341.4 787.7,1341.3 788.5,1339.9 789.3,1341.4 790.1,1339.6 790.9,1341.2 791.7,1339.4 792.5,1340.9 793.3,1338.6 794.1,1340.4 794.9,1338.9 795.7,1340.2 796.5,1339.6 797.3,1342.1 798.1,1342.1 798.9,1343.8 799.7,1344.5 800.5,1346.2 801.3,1345.6 802.1,1347.7 802.9,1345.7 803.7,1347.1 804.5,1345.6 805.3,1345.8 806.1,1343.9 806.9,1344.0 807.7,1342.1 808.5,1342.7 809.3,1340.7 810.1,1343.1 810.9,1341.3 811.7,1343.5 812.5,1343.2 813.3,1344.9 814.1,1344.4 814.9,1346.4 815.7,1346.1 816.5,1348.1 817.3,1347.7 818.1,1349.6 818.9,1349.3 819.7,1351.0 820.5,1350.4 821.3,1351.8 822.1,1350.8 822.9,1353.7 823.7,1352.2 824.5,1354.3 825.3,1353.5 826.1,1355.3 826.9,1354.5 827.7,1356.1 828.5,1355.4 829.3,1357.3 830.1,1356.7 830.9,1358.6 831.7,1357.6 832.5,1360.0 833.3,1359.1 834.1,1360.6 834.9,1359.8 835.7,1362.8 836.5,1361.1 837.3,1362.9 838.1,1360.8 838.9,1362.3 839.7,1360.7 840.5,1361.3 841.3,1359.7 842.1,1359.8 842.9,1357.4 843.7,1358.8 844.5,1356.6 845.3,1357.7 846.1,1356.4 846.9,1357.7 847.7,1356.4 848.5,1358.1 849.3,1356.0 850.1,1358.6 850.9,1356.4 851.7,1359.1 852.5,1357.1 853.3,1358.9 854.1,1357.2 854.9,1358.9 855.7,1357.1 856.5,1358.9 857.3,1359.4 858.1,1361.5 858.9,1362.6 859.7,1364.8 860.5,1365.5 861.3,1367.3 862.1,1366.0 862.9,1367.9 863.7,1366.4 864.5,1367.8 865.3,1366.3 866.1,1368.6 866.9,1366.2 867.7,1367.5 868.5,1366.0 869.3,1368.2 870.1,1365.6 870.9,1367.9 871.7,1365.5 872.5,1367.2 873.3,1364.7 874.1,1366.3 874.9,1364.1 875.7,1365.9 876.5,1363.8 877.3,1365.5 878.1,1363.1 878.9,1365.1 879.7,1363.2 880.5,1364.5 881.3,1362.9 882.1,1365.1 882.9,1364.1 883.7,1366.3 884.5,1365.6 885.3,1367.6 886.1,1367.5 886.9,1369.6 887.7,1368.5 888.5,1371.0 889.3,1369.9 890.1,1372.6 890.9,1371.5 891.7,1373.5 892.5,1372.8 893.3,1374.8 894.1,1373.5 894.9,1376.2 895.7,1373.7 896.5,1374.8 897.3,1372.7 898.1,1372.0 898.9,1370.2 899.7,1369.2 900.5,1367.2 901.3,1366.5 902.1,1364.9 902.9,1365.5 903.7,1363.2 904.5,1364.8 905.3,1362.2 906.1,1362.9 906.9,1360.8 907.7,1362.2 908.5,1360.0 909.3,1361.1 910.1,1359.1 910.9,1360.8 911.7,1357.7 912.5,1359.8 913.3,1357.6 914.1,1359.9 914.9,1358.4 915.7,1360.1 916.5,1357.6 917.3,1359.9 918.1,1358.4 918.9,1359.9 919.7,1358.0 920.5,1360.1 921.3,1357.3 922.1,1359.8 922.9,1357.4 923.7,1358.3 924.5,1355.9 925.3,1356.3 926.1,1354.3 926.9,1354.7 927.7,1352.6 928.5,1353.1 929.3,1351.5 930.1,1352.2 930.9,1349.8 931.7,1350.8 932.5,1349.6 933.3,1350.1 934.1,1348.7 934.9,1349.4 935.7,1347.0 936.5,1347.1 937.3,1345.1 938.1,1344.3 938.9,1342.1 939.7,1341.1 940.5,1339.1 941.3,1337.9 942.1,1335.9 942.9,1335.1 943.7,1333.0 944.5,1333.4 945.3,1330.7 946.1,1331.9 946.9,1330.1 947.7,1330.5 948.5,1328.9 949.3,1330.1 950.1,1327.2 950.9,1328.8 951.7,1326.0 952.5,1328.1 953.3,1325.9 954.1,1327.9 954.9,1327.2 955.7,1328.9 956.5,1328.6 957.3,1330.3 958.1,1329.6 958.9,1331.6 959.7,1330.7 960.5,1331.6 961.3,1330.3 962.1,1331.5 962.9,1329.4 963.7,1330.9 964.5,1329.2 965.3,1331.3 966.1,1329.3 966.9,1331.7 967.7,1329.2 968.5,1332.9 969.3,1330.4 970.1,1332.6 970.9,1331.5 971.7,1334.0 972.5,1333.0 973.3,1334.9 974.1,1333.7 974.9,1335.6 975.7,1335.4 976.5,1337.0 977.3,1336.9 978.1,1338.2 978.9,1338.3 979.7,1339.9 980.5,1339.5 981.3,1341.4 982.1,1339.4 982.9,1341.4 983.7,1340.1 984.5,1342.0 985.3,1340.9 986.1,1342.8 986.9,1341.3 987.7,1343.8 988.5,1342.6 989.3,1344.1 990.1,1342.9 990.9,1345.2 991.7,1343.5 992.5,1345.4 993.3,1344.1 994.1,1346.2 994.9,1344.1 995.7,1345.7 996.5,1344.3 997.3,1345.7 998.1,1342.9 998.9,1344.0 999.7,1342.2 1000.5,1342.3 1001.3,1340.5 1002.1,1340.7 1002.9,1338.5 1003.7,1338.9 1004.5,1336.5 1005.3,1337.3 1006.1,1334.7 1006.9,1337.1 1007.7,1334.9 1008.5,1336.6 1009.3,1334.4 1010.1,1336.5 1010.9,1334.7 1011.7,1336.4 1012.5,1334.4 1013.3,1335.7 1014.1,1334.2 1014.9,1335.8 1015.7,1333.7 1016.5,1335.8 1017.3,1334.6 1018.1,1337.1 1018.9,1335.4 1019.7,1338.3 1020.5,1337.8 1021.3,1339.5 1022.1,1339.4 1022.9,1341.4 1023.7,1341.7 1024.5,1343.4 1025.3,1343.3 1026.1,1345.4 1026.9,1344.9 1027.7,1347.2 1028.5,1347.6 1029.3,1349.5 1030.1,1350.1 1030.9,1352.1 1031.7,1352.7 1032.5,1354.6 1033.3,1354.9 1034.1,1357.1 1034.9,1357.1 1035.7,1359.5 1036.5,1359.0 1037.3,1360.7 1038.1,1359.8 1038.9,1361.7 1039.7,1360.9 1040.5,1363.2 1041.3,1361.8 1042.1,1363.5 1042.9,1361.8 1043.7,1364.2 1044.5,1362.2 1045.3,1363.9 1046.1,1361.9 1046.9,1364.2 1047.7,1361.4 1048.5,1363.8 1049.3,1361.5 1050.1,1362.8 1050.9,1360.9 1051.7,1362.2 1052.5,1359.9 1053.3,1361.7 1054.1,1359.4 1054.9,1361.6 1055.7,1359.4 1056.5,1361.4 1057.3,1359.5 1058.1,1360.0 1058.9,1359.1 1059.7,1360.1 1060.5,1358.7 1061.3,1360.0 1062.1,1358.3 1062.9,1360.3 1063.7,1357.3 1064.5,1359.4 1065.3,1357.3 1066.1,1358.0 1066.9,1356.7 1067.7,1357.5 1068.5,1355.3 1069.3,1356.1 1070.1,1355.0 1070.9,1355.0 1071.7,1352.4 1072.5,1353.7 1073.3,1351.7 1074.1,1353.1 1074.9,1350.9 1075.7,1352.2 1076.5,1350.5 1077.3,1351.8 1078.1,1349.3 1078.9,1351.3 1079.7,1349.3 1080.5,1351.6 1081.3,1349.5 1082.1,1351.3 1082.9,1349.5 1083.7,1351.7 1084.5,1350.6 1085.3,1351.8 1086.1,1350.4 1086.9,1352.6 1087.7,1350.2 1088.5,1352.6 1089.3,1350.6 1090.1,1352.3 1090.9,1350.6 1091.7,1352.6 1092.5,1350.4 1093.3,1351.8 1094.1,1349.8 1094.9,1352.4 1095.7,1349.9 1096.5,1352.2 1097.3,1351.3 1098.1,1353.1 1098.9,1352.5 1099.7,1354.3 1100.5,1353.7 1101.3,1355.8 1102.1,1354.4 1102.9,1356.5 1103.7,1355.3 1104.5,1357.2 1105.3,1356.2 1106.1,1357.9 1106.9,1357.1 1107.7,1359.3 1108.5,1357.6 1109.3,1359.3 1110.1,1356.3 1110.9,1358.9 1111.7,1356.1 1112.5,1357.6 1113.3,1356.0 1114.1,1356.2 1114.9,1354.5 1115.7,1355.2 1116.5,1352.9 1117.3,1353.6 1118.1,1351.7 1118.9,1353.0 1119.7,1351.5 1120.5,1353.7 1121.3,1351.0 1122.1,1353.4 1122.9,1351.7 1123.7,1353.5 1124.5,1351.7 1125.3,1354.3 1126.1,1352.3 1126.9,1354.0 1127.7,1352.5 1128.5,1355.0 1129.3,1352.6 1130.1,1354.9 1130.9,1354.1 1131.7,1356.3 1132.5,1353.8 1133.3,1356.1 1134.1,1355.1 1134.9,1356.9 1135.7,1355.4 1136.5,1357.5 1137.3,1355.9 1138.1,1356.9 1138.9,1355.0 1139.7,1357.2 1140.5,1355.9 1141.3,1357.4 1142.1,1354.6 1142.6,1357.2 1142.6,1357.2 1142.6,66.3 1142.8,69.3 1143.1,73.3 1143.4,77.3 1143.7,81.3 1144.0,85.2 1144.3,89.2 1144.6,93.2 1144.9,97.2 1145.2,101.2 1145.5,105.2 1145.7,109.2 1146.0,113.2 1146.3,117.2 1146.6,121.2 1146.9,125.1 1147.2,129.1 1147.5,133.1 1147.7,137.1 1148.0,141.1 1148.3,145.1 1148.6,149.1 1148.9,153.1 1149.1,157.1 1149.4,161.1 1149.7,165.0 1150.0,169.0 1150.3,173.0 1150.5,177.0 1150.8,181.0 1151.1,185.0 1151.4,189.0 1151.6,193.0 1151.9,197.0 1152.2,201.0 1152.5,205.0 1152.7,208.9 1153.0,212.9 1153.3,216.9 1153.5,220.9 1153.8,224.9 1154.1,228.9 1154.3,232.9 1154.6,236.9 1154.9,240.9 1155.1,244.9 1155.4,248.9 1155.7,252.8 1155.9,256.8 1156.2,260.8 1156.4,264.8 1156.7,268.8 1157.0,272.8 1157.2,276.8 1157.5,280.8 1157.7,284.8 1158.0,288.8 1158.3,292.8 1158.5,296.8 1158.8,300.7 1159.0,304.7 1159.3,308.7 1159.5,312.7 1159.8,316.7 1160.0,320.7 1160.3,324.7 1160.5,328.7 1160.8,332.7 1161.0,336.7 1161.3,340.7 1161.5,344.7 1161.8,348.7 1162.0,352.6 1162.3,356.6 1162.5,360.6 1162.8,364.6 1163.0,368.6 1163.3,372.6 1163.5,376.6 1163.8,380.6 1164.0,384.6 1164.2,388.6 1164.5,392.6 1164.7,396.6 1165.0,400.6 1165.2,404.5 1165.5,408.5 1165.7,412.5 1165.9,416.5 1166.2,420.5 1166.4,424.5 1166.6,428.5 1166.9,432.5 1167.1,436.5 1167.3,440.5 1167.6,444.5 1167.8,448.5 1168.0,452.5 1168.2,456.5 1168.5,460.5 1168.7,464.4 1168.9,468.4 1169.1,472.4 1169.3,476.4 1169.5,480.4 1169.7,484.4 1170.0,488.4 1170.2,492.4 1170.4,496.4 1170.6,500.4 1170.8,504.4 1171.0,508.4 1171.2,512.4 1171.4,516.4 1171.7,520.4 1171.9,524.4 1172.1,528.4 1172.3,532.4 1172.5,536.3 1172.7,540.3 1172.9,544.3 1173.2,548.3 1173.4,552.3 1173.6,556.3 1173.8,560.3 1174.1,564.3 1174.3,568.3 1174.5,572.3 1174.8,576.3 1175.0,580.3 1175.3,584.3 1175.5,588.3 1175.8,592.2 1176.0,596.2 1176.3,600.2 1176.6,604.2 1176.9,608.2 1177.1,612.2 1177.4,616.2 1177.7,620.2 1178.0,624.2 1178.3,628.2 1178.5,632.2 1178.8,636.1 1179.1,640.1 1179.4,644.1 1179.6,648.1 1179.9,652.1 1180.2,656.1 1180.4,660.1 1180.7,664.1 1180.9,668.1 1181.2,672.1 1181.4,676.1 1181.6,680.1 1181.8,684.0 1182.0,688.0 1182.2,692.0 1182.4,696.0 1182.6,700.0 1182.8,704.0 1182.9,708.0 1183.1,712.0 1183.3,716.0 1183.4,720.0 1183.6,724.0 1183.8,728.0 1183.9,732.0 1184.1,736.0 1184.3,740.0 1184.5,744.0 1184.6,748.0 1184.8,752.0 1185.0,756.0 1185.2,760.0 1185.4,764.0 1185.6,768.0 1185.8,772.0 1186.0,776.0 1186.2,780.0 1186.4,783.9 1186.6,787.9 1186.8,791.9 1187.0,795.9 1187.3,799.9 1187.5,803.9 1187.8,807.9 1188.0,811.9 1188.3,815.9 1188.6,819.9 1188.9,823.9 1189.2,827.9 1189.5,831.8 1189.8,835.8 1190.2,839.8 1190.5,843.8 1190.9,847.8 1191.3,851.8 1191.8,855.7 1192.2,859.7 1192.6,863.7 1193.1,867.7 1193.6,871.6 1194.1,875.6 1194.6,879.6 1195.2,883.5 1195.8,887.5 1196.4,891.4 1197.1,895.4 1197.7,899.3 1198.4,903.3 1199.1,907.2 1199.8,911.1 1200.5,915.1 1201.2,919.0 1201.8,923.0 1202.4,926.9 1203.0,930.9 1203.6,934.8 1204.2,938.8 1204.8,942.8 1205.4,946.7 1206.8,954.6 1207.6,959.0 1208.4,963.5 1209.2,967.8 1210.0,972.1 1210.8,976.2 1211.6,980.4 1212.4,984.2 1213.2,988.2 1214.0,991.8 1214.8,995.7 1215.6,999.2 1216.4,1002.8 1217.2,1006.0 1218.0,1009.5 1218.8,1012.4 1219.6,1015.5 1220.4,1017.9 1221.2,1020.9 1222.0,1023.3 1222.8,1026.2 1223.6,1028.8 1224.4,1032.1 1225.2,1035.3 1226.0,1039.1 1226.8,1043.1 1227.6,1047.6 1228.4,1052.0 1229.2,1056.7 1230.0,1061.1 1230.8,1065.5 1231.6,1069.3 1232.4,1073.0 1233.2,1076.0 1234.0,1079.3 1234.8,1082.2 1235.6,1085.3 1236.4,1087.9 1237.2,1090.9 1238.0,1093.3 1238.8,1096.2 1239.6,1098.5 1240.4,1101.1 1241.2,1103.3 1242.0,1106.0 1242.8,1107.9 1243.6,1110.5 1244.4,1112.4 1245.2,1114.9 1246.0,1116.5 1246.8,1119.1 1247.6,1120.7 1248.4,1123.0 1249.2,1124.6 1250.0,1126.8 1250.8,1128.0 1251.6,1130.3 1252.4,1131.6 1253.2,1133.6 1254.0,1135.1 1254.8,1137.2 1255.6,1138.6 1256.4,1140.9 1257.2,1142.4 1258.0,1144.6 1258.8,1146.2 1259.6,1148.7 1260.4,1150.5 1261.2,1153.1 1262.0,1155.2 1262.8,1158.0 1263.6,1160.2 1264.4,1162.9 1265.2,1165.0 1266.0,1167.5 1266.8,1169.3 1267.6,1171.7 1268.4,1173.2 1269.2,1175.3 1270.0,1176.4 1270.8,1178.1 1271.6,1178.9 1272.4,1180.9 1273.2,1181.8 1274.0,1183.5 1274.8,1184.2 1275.6,1186.3 1276.4,1186.5 1277.2,1188.7 1278.0,1188.5 1278.8,1190.8 1279.6,1190.8 1280.4,1193.1 1281.2,1193.3 1282.0,1195.2 1282.8,1195.6 1283.6,1197.6 1284.4,1197.6 1285.2,1199.6 1286.0,1199.7 1286.8,1201.9 1287.6,1202.5 1288.4,1204.0 1289.2,1204.5 1290.0,1206.3 1290.8,1206.8 1291.6,1208.7 1292.4,1208.9 1293.2,1210.6 1294.0,1211.1 1294.8,1213.3 1295.6,1213.3 1296.4,1215.4 1297.2,1215.4 1298.0,1217.2 1298.8,1217.7 1299.6,1219.7 1300.4,1219.6 1301.2,1221.7 1302.0,1221.9 1302.8,1223.8 1303.6,1224.1 1304.4,1226.0 1305.2,1225.8 1306.0,1228.1 1306.8,1228.2 1307.6,1230.1 1308.4,1230.4 1309.2,1232.3 1310.0,1232.5 1310.8,1234.7 1311.6,1234.5 1312.4,1236.3 1313.2,1236.3 1314.0,1238.7 1314.8,1238.2 1315.6,1240.2 1316.4,1239.9 1317.2,1242.0 1318.0,1241.3 1318.8,1243.3 1319.6,1242.0 1320.4,1244.0 1321.2,1243.0 1322.0,1244.9 1322.8,1243.2 1323.6,1245.6 1324.4,1244.1 1325.2,1246.8 1326.0,1245.7 1326.8,1247.8 1327.6,1246.3 1328.4,1248.0 1329.2,1247.2 1330.0,1249.0 1330.8,1248.0 1331.6,1249.7 1332.4,1248.6 1333.2,1251.0 1334.0,1250.2 1334.8,1251.9 1335.6,1251.4 1336.4,1253.7 1337.2,1251.3 1338.0,1253.8 1338.8,1252.3 1339.6,1254.5 1340.4,1253.1 1341.2,1255.2 1342.0,1254.1 1342.8,1255.9 1343.6,1254.4 1344.4,1256.2 1345.2,1255.0 1346.0,1256.9 1346.8,1256.0 1347.6,1257.7 1348.4,1257.1 1349.2,1258.7 1350.0,1258.7 1350.8,1260.8 1351.6,1260.1 1352.4,1261.7 1353.2,1261.9 1354.0,1263.5 1354.8,1262.4 1355.6,1265.0 1356.4,1264.5 1357.2,1266.5 1358.0,1265.8 1358.8,1267.8 1359.6,1266.6 1360.4,1268.1 1361.2,1267.2 1362.0,1269.8 1362.8,1268.8 1363.6,1270.5 1364.4,1269.4 1365.2,1271.9 1366.0,1269.9 1366.8,1272.1 1367.6,1271.3 1368.4,1273.7 1369.2,1272.2 1370.0,1273.8 1370.8,1273.3 1371.6,1275.1 1372.4,1274.4 1373.2,1276.3 1374.0,1275.1 1374.8,1277.2 1375.6,1275.4 1376.4,1277.7 1377.2,1276.3 1378.0,1277.9 1378.8,1276.6 1379.6,1277.8 1380.4,1276.5 1381.2,1278.2 1382.0,1276.1 1382.8,1278.4 1383.6,1276.7 1384.4,1278.8 1385.2,1277.5 1386.0,1280.1 1386.8,1278.3 1387.6,1280.8 1388.4,1279.0 1389.2,1281.9 1390.0,1280.9 1390.8,1283.2 1391.6,1281.7 1392.4,1283.8 1393.2,1282.2 1394.0,1284.8 1394.8,1282.9 1395.6,1285.2 1396.4,1284.3 1397.2,1285.9 1398.0,1285.2 1398.8,1286.3 1399.6,1285.3 1400.4,1286.9 1401.2,1285.7 1402.0,1287.5 1402.8,1286.2 1403.6,1288.3 1404.4,1286.6 1405.2,1289.1 1406.0,1287.8 1406.8,1289.2 1407.6,1287.9 1408.4,1289.6 1409.2,1287.7 1410.0,1290.2 1410.8,1286.9 1411.6,1289.1 1412.4,1286.8 1413.2,1289.1 1414.0,1287.3 1414.8,1290.4 1415.6,1287.8 1416.4,1290.2 1417.2,1288.8 1418.0,1290.5 1418.8,1289.7 1419.6,1292.3 1420.4,1291.1 1421.2,1293.4 1422.0,1292.7 1422.8,1294.5 1423.6,1293.8 1424.4,1296.3 1425.2,1295.4 1426.0,1297.0 1426.8,1296.0 1427.6,1298.1 1428.4,1296.7 1429.2,1299.0 1430.0,1297.4 1430.8,1299.5 1431.6,1297.7 1432.4,1300.0 1433.2,1299.1 1434.0,1300.7 1434.8,1300.0 1435.6,1302.0 1436.4,1300.5 1437.2,1303.3 1438.0,1301.3 1438.8,1303.5 1439.6,1301.8 1440.4,1304.3 1441.2,1303.3 1442.0,1303.5 1442.8,1302.1 1443.6,1303.6 1444.4,1301.9 1445.2,1302.9 1446.0,1300.3 1446.8,1302.8 1447.6,1300.1 1448.4,1302.0 1449.2,1299.6 1450.0,1301.5 1450.8,1299.7 1451.6,1302.2 1452.4,1300.2 1453.2,1301.4 1454.0,1300.3 1454.8,1301.8 1455.6,1301.4 1456.4,1303.2 1457.2,1303.0 1458.0,1304.7 1458.8,1304.4 1459.6,1306.4 1460.4,1305.2 1461.2,1306.9 1462.0,1305.9 1462.8,1307.2 1463.6,1305.7 1464.4,1307.5 1465.2,1306.0 1466.0,1306.8 1466.8,1306.4 1467.6,1307.7 1468.4,1305.6 1469.2,1308.2 1470.0,1307.2 1470.8,1308.8 1471.6,1306.7 1472.4,1309.2 1473.2,1308.4 1474.0,1309.8 1474.8,1309.3 1475.6,1311.4 1476.4,1311.4 1477.2,1312.9 1478.0,1312.7 1478.8,1314.4 1479.6,1313.7 1480.4,1316.3 1481.2,1315.2 1482.0,1316.7 1482.8,1315.9 1483.6,1318.0 1484.4,1315.4 1485.2,1317.4 1486.0,1315.1 1486.8,1316.2 1487.6,1313.9 1488.4,1315.0 1489.2,1312.8 1490.0,1313.6 1490.8,1311.7 1491.6,1312.4 1492.4,1310.5 1493.2,1311.7 1494.0,1309.1 1494.8,1311.2 1495.6,1309.4 1496.4,1311.1 1497.2,1308.6 1498.0,1311.6 1498.8,1310.3 1499.6,1312.5 1500.4,1311.9 1501.2,1314.2 1502.0,1314.3 1502.8,1316.3 1503.6,1316.0 1504.4,1318.2 1505.2,1318.0 1506.0,1320.5 1506.8,1320.5 1507.6,1322.1 1508.4,1321.6 1509.2,1323.7 1510.0,1322.7 1510.8,1325.1 1511.6,1324.1 1512.4,1325.5 1513.2,1324.4 1514.0,1326.9 1514.8,1325.4 1515.6,1327.2 1516.4,1325.5 1517.2,1327.4 1518.0,1326.2 1518.8,1327.7 1519.6,1326.1 1520.4,1328.3 1521.2,1327.0 1522.0,1328.4 1522.8,1327.6 1523.6,1329.6 1524.4,1327.7 1525.2,1330.2 1526.0,1329.0 1526.8,1331.6 1527.6,1330.6 1528.4,1332.4 1529.2,1331.6 1530.0,1334.7 1530.8,1333.7 1531.6,1335.9 1532.4,1335.6 1533.2,1337.8 1534.0,1337.5 1534.8,1340.0 1535.6,1340.0 1536.4,1342.5 1537.2,1342.8 1538.0,1344.7 1538.8,1344.6 1539.6,1346.7 1540.4,1344.6 1541.2,1346.3 1542.0,1343.6 1542.8,1344.9 1543.6,1343.1 1544.4,1344.2 1545.2,1341.5 1546.0,1342.1 1546.8,1340.9 1547.6,1341.5 1548.4,1339.1 1549.2,1339.6 1550.0,1337.6 1550.8,1339.0 1551.6,1336.5 1552.4,1338.4 1553.2,1335.8 1554.0,1336.9 1554.8,1334.5 1555.6,1335.6 1556.4,1333.7 1557.2,1335.2 1558.0,1333.1 1558.8,1334.5 1559.6,1332.8 1560.4,1334.5 1561.2,1333.0 1562.0,1334.5 1562.8,1332.3 1563.6,1334.8 1564.4,1333.4 1565.2,1334.8 1566.0,1333.1 1566.8,1334.9 1567.6,1333.3 1568.4,1335.2 1569.2,1332.8 1570.0,1334.9 1570.8,1333.3 1571.6,1335.1 1572.4,1333.0 1573.2,1334.7 1574.0,1332.1 1574.8,1333.8 1575.6,1331.9 1576.4,1332.7 1577.2,1330.7 1578.0,1331.4 1578.8,1329.5 1579.6,1330.4 1580.4,1328.1 1581.2,1329.4 1582.0,1326.9 1582.8,1327.8 1583.6,1325.6 1584.4,1326.5 1585.2,1324.9 1586.0,1325.6 1586.8,1323.6 1587.6,1324.7 1588.4,1322.8 1589.2,1324.5 1590.0,1322.4 1590.8,1323.9 1591.6,1322.1 1592.4,1324.3 1593.2,1321.8 1594.0,1323.6 1594.8,1321.6 1595.6,1324.5 1596.4,1322.3 1597.2,1324.1 1598.0,1322.3 1598.8,1324.0 1599.6,1322.8 1600.4,1325.1 1601.2,1324.4 1602.0,1326.1 1602.8,1326.0 1603.6,1328.1 1604.4,1328.1 1605.2,1329.6 1606.0,1330.0 1606.8,1332.0 1607.6,1331.5 1608.4,1333.5 1609.2,1332.5 1610.0,1334.8 1610.8,1333.6 1611.6,1335.6 1612.4,1335.2 1613.2,1338.0 1614.0,1336.8 1614.8,1338.8 1615.6,1338.7 1616.4,1340.9 1617.2,1340.5 1618.0,1342.0 1618.8,1340.8 1619.6,1343.6 1620.4,1342.3 1621.2,1344.6 1622.0,1343.0 1622.8,1344.2 1623.6,1342.4 1624.4,1344.5 1625.2,1342.7 1626.0,1344.3 1626.8,1341.8 1627.6,1343.2 1628.4,1341.6 1629.2,1343.2 1630.0,1341.5 1630.8,1342.1 1631.6,1340.4 1632.4,1341.1 1633.2,1339.1 1634.0,1340.9 1634.8,1338.8 1635.6,1340.6 1636.4,1338.7 1637.2,1340.9 1638.0,1338.8 1638.8,1341.3 1639.6,1339.3 1640.4,1341.4 1641.2,1340.6 1642.0,1342.2 1642.8,1341.1 1643.6,1343.0 1644.4,1341.7 1645.2,1343.8 1646.0,1341.4 1646.8,1344.0 1647.6,1342.0 1648.4,1343.8 1649.2,1341.2 1650.0,1342.7 1650.8,1341.1 1651.6,1343.3 1652.4,1341.7 1653.2,1343.5 1654.0,1341.7 1654.8,1344.6 1655.6,1342.3 1656.4,1345.3 1657.2,1343.7 1658.0,1345.5 1658.8,1344.6 1659.6,1347.0 1660.4,1345.5 1661.2,1347.8 1662.0,1346.6 1662.8,1349.4 1663.6,1348.0 1664.4,1349.8 1665.2,1349.7 1666.0,1351.9 1666.8,1352.5 1667.6,1354.9 1668.4,1355.4 1669.2,1359.4 1670.0,1357.4 1670.8,1357.8 1671.6,1355.2 1672.4,1355.6 1673.2,1353.6 1674.0,1353.4 1674.8,1351.8 1675.6,1353.5 1676.4,1351.0 1677.2,1353.0 1678.0,1349.1 1678.8,1351.8 1679.6,1348.8 1680.4,1349.6 1681.2,1347.9 1682.0,1349.5 1682.8,1347.2 1683.6,1348.8 1684.4,1346.1 1685.2,1347.6 1686.0,1345.5 1686.8,1347.5 1687.6,1345.6 1688.4,1347.3 1689.2,1345.6 1690.0,1347.9 1690.8,1345.9 1691.6,1348.7 1692.4,1346.9 1693.2,1347.9 1694.0,1346.3 1694.8,1348.3 1695.6,1346.5 1696.4,1349.3 1697.2,1346.9 1698.0,1349.1 1698.8,1347.5 1699.6,1349.9 1700.4,1347.6 1701.2,1349.6 1702.0,1348.0 1702.8,1349.7 1703.6,1347.6 1704.4,1349.5 1705.2,1346.7 1706.0,1348.7 1706.8,1346.1 1707.6,1348.2 1708.4,1345.8 1709.2,1346.7 1710.0,1345.1 1710.8,1345.7 1711.6,1344.2 1712.4,1345.4 1713.2,1342.9 1714.0,1344.4 1714.8,1342.6 1715.6,1344.2 1716.4,1342.0 1717.2,1343.6 1718.0,1341.1 1718.8,1342.6 1719.6,1340.6 1720.4,1341.5 1721.2,1340.2 1722.0,1341.6 1722.8,1339.5 1723.6,1342.3 1724.4,1341.3 1725.2,1343.6 1726.0,1342.6 1726.8,1345.1 1727.6,1344.5 1728.4,1346.5 1729.2,1345.6 1730.0,1347.4 1730.8,1345.7 1731.6,1348.2 1732.4,1346.8 1733.2,1348.7 1734.0,1347.1 1734.8,1348.8 1735.6,1348.1 1736.4,1350.1 1737.2,1348.5 1738.0,1351.0 1738.8,1350.3 1739.6,1352.1 1740.4,1352.4 1741.2,1354.4 1742.0,1355.0 1742.8,1357.2 1743.6,1358.1 1744.4,1360.3 1745.2,1360.8 1746.0,1362.3 1746.8,1362.3 1747.6,1364.6 1748.4,1364.0 1749.2,1366.2 1750.0,1364.5 1750.8,1366.7 1751.6,1365.3 1752.4,1367.8 1753.2,1365.8 1754.0,1368.5 1754.8,1367.1 1755.6,1369.1 1756.4,1367.0 1757.2,1369.7 1758.0,1368.9 1758.8,1370.6 1759.6,1369.6 1760.4,1372.1 1761.2,1370.9 1762.0,1373.1 1762.8,1371.3 1763.6,1373.1 1764.4,1371.3 1765.2,1373.2 1766.0,1371.3 1766.8,1372.8 1767.6,1371.0 1768.4,1371.8 1769.2,1370.6 1770.0,1371.0 1770.8,1368.4 1771.6,1366.9 1772.4,1364.4 1773.2,1362.7 1774.0,1360.4 1774.8,1359.9 1775.6,1358.0 1776.4,1357.8 1777.2,1355.6 1778.0,1355.8 1778.8,1353.9 1779.6,1354.1 1780.4,1352.2 1781.2,1352.7 1782.0,1351.4 1782.8,1352.3 1783.6,1350.7 1784.4,1351.2 1785.2,1349.1 1786.0,1350.9 1786.8,1348.2 1787.6,1350.1 1788.4,1347.7 1789.2,1348.9 1790.0,1346.9 1790.8,1347.9 1791.6,1346.3 1792.4,1347.0 1793.2,1344.5 1794.0,1346.1 1794.8,1343.5 1795.6,1345.0 1796.4,1342.7 1797.2,1343.6 1798.0,1342.2 1798.8,1342.4 1799.6,1340.4 1800.4,1341.3 1801.2,1339.3 1802.0,1341.2 1802.8,1338.0 1803.6,1339.7 1804.4,1338.3 1805.2,1339.4 1806.0,1338.6 1806.8,1340.8 1807.6,1339.8 1808.4,1341.6 1809.2,1340.8 1810.0,1342.8 1810.8,1341.8 1811.6,1344.1 1812.4,1343.0 1813.2,1345.1 1814.0,1342.9 1814.8,1345.1 1815.6,1343.9 1816.4,1345.2 1817.2,1343.8 1818.0,1345.8 1818.8,1343.6 1819.6,1345.6 1820.4,1343.9 1821.2,1345.0 1822.0,1343.0 1822.8,1344.6 1823.6,1342.7 1824.4,1343.1 1825.2,1341.6 1826.0,1341.5 1826.8,1339.3 1827.6,1339.8 1828.4,1337.8 1829.2,1337.9 1830.0,1336.3 1830.8,1336.0 1831.6,1333.8 1832.4,1334.3 1833.2,1331.5 1834.0,1333.0 1834.8,1330.8 1835.6,1332.4 1836.4,1331.0 1837.2,1332.2 1838.0,1331.0 1838.8,1332.5 1839.6,1331.0 1840.4,1333.4 1841.2,1331.2 1842.0,1332.8 1842.8,1331.0 1843.6,1332.9 1844.4,1330.6 1845.2,1332.6 1846.0,1330.9 1846.8,1333.0 1847.6,1330.2 1848.4,1332.7 1849.2,1330.8 1850.0,1332.6 1850.8,1330.2 1851.6,1332.9 1852.4,1330.3 1853.2,1333.0 1854.0,1331.5 1854.8,1332.5 1855.6,1331.5 1856.4,1333.8 1857.2,1332.1 1858.0,1334.1 1858.8,1332.7 1859.6,1334.7 1860.4,1333.7 1861.2,1336.3 1862.0,1334.4 1862.8,1336.7 1863.6,1335.3 1864.4,1337.8 1865.2,1336.2 1866.0,1338.3 1866.8,1336.6 1867.6,1338.1 1868.4,1335.9 1869.2,1338.8 1870.0,1337.2 1870.8,1338.1 1871.6,1336.6 1872.4,1338.6 1873.2,1337.4 1874.0,1339.1 1874.8,1338.4 1875.6,1340.1 1876.4,1339.7 1877.2,1341.8 1878.0,1341.3 1878.8,1343.7 1879.6,1343.4 1880.4,1345.6 1881.2,1344.9 1882.0,1347.4 1882.8,1346.5 1883.6,1348.8 1884.4,1347.9 1885.2,1350.3 1886.0,1350.3 1886.8,1352.2 1887.6,1351.8 1888.4,1353.6 1889.2,1353.6 1890.0,1355.7 1890.8,1354.0 1891.6,1356.0 1892.4,1353.5 1893.2,1354.2 1894.0,1351.6 1894.8,1351.1 1895.6,1349.2 1896.4,1349.1 1897.2,1346.9 1898.0,1346.6 1898.8,1344.8 1899.6,1345.1 1900.4,1343.2 1901.2,1343.8 1902.0,1341.6 1902.8,1343.5 1903.6,1340.9 1904.4,1342.5 1905.2,1340.7 1906.0,1341.4 1906.8,1339.3 1907.6,1340.7 1908.4,1338.4 1909.2,1340.4 1910.0,1337.8 1910.8,1339.6 1911.6,1339.3 1912.4,1341.1 1913.2,1340.5 1914.0,1342.4 1914.8,1341.9 1915.6,1344.0 1916.4,1343.4 1917.2,1345.0 1918.0,1344.6 1918.8,1346.0 1919.6,1344.7 1920.4,1347.5 1921.2,1344.8 1922.0,1347.3 1922.8,1344.8 1923.6,1347.2 1924.4,1345.2 1925.2,1347.5 1926.0,1345.3 1926.8,1347.5 1927.6,1346.1 1928.4,1347.7 1929.2,1346.1 1930.0,1348.7 1930.8,1346.3 1931.6,1348.1 1932.4,1345.9 1933.2,1348.1 1934.0,1345.6 1934.8,1347.5 1935.6,1345.1 1936.4,1347.4 1937.2,1344.4 1938.0,1345.7 1938.8,1344.3 1939.6,1346.2 1940.4,1344.3 1941.2,1345.7 1942.0,1344.8 1942.8,1346.5 1943.6,1344.7 1944.4,1346.3 1945.2,1345.2 1946.0,1347.1 1946.8,1345.7 1947.6,1347.1 1948.4,1344.9 1949.2,1347.1 1950.0,1344.6 1950.8,1346.3 1951.6,1343.6 1952.4,1344.9 1953.2,1342.6 1954.0,1343.5 1954.8,1341.0 1955.6,1341.8 1956.4,1339.5 1957.2,1340.4 1958.0,1338.2 1958.8,1339.3 1959.6,1336.4 1960.4,1338.6 1961.2,1337.0 1962.0,1338.3 1962.8,1336.4 1963.6,1338.2 1964.4,1336.1 1965.2,1337.7 1966.0,1336.6 1966.8,1338.5 1967.6,1336.5 1968.4,1338.2 1969.2,1336.2 1970.0,1337.7 1970.8,1335.7 1971.6,1337.1 1972.4,1335.0 1973.2,1336.1 1974.0,1334.0 1974.8,1335.8 1975.6,1333.4 1976.4,1334.3 1977.2,1332.9 1978.0,1333.8 1978.8,1332.9 1979.6,1334.1 1980.4,1331.9 1981.2,1333.0 1982.0,1330.6 1982.8,1332.4 1983.6,1330.2 1984.4,1331.4 1985.2,1329.4 1986.0,1331.2 1986.8,1328.9 1987.6,1330.1 1988.4,1327.5 1989.2,1330.1 1990.0,1327.8 1990.8,1330.1 1991.6,1328.5 1992.4,1330.6 1993.2,1328.2 1994.0,1330.5 1994.8,1328.9 1995.6,1330.5 1996.4,1328.8 1997.2,1331.2 1998.0,1329.5 1998.8,1331.7 1999.6,1330.5 2000.4,1333.0 2001.2,1331.7 2002.0,1334.5 2002.8,1333.0 2003.6,1336.0 2004.4,1334.6 2005.2,1336.1 2006.0,1335.3 2006.8,1337.1 2007.6,1335.9 2008.4,1337.8 2009.2,1335.7 2010.0,1337.9 2010.8,1335.5 2011.6,1337.7 2012.4,1335.6 2013.2,1337.2 2014.0,1335.3 2014.8,1336.6 2015.6,1335.1 2016.4,1336.4 2017.2,1335.0 2018.0,1336.9 2018.8,1335.0 2019.6,1336.7 2020.4,1336.0 2021.2,1337.0 2022.0,1335.2 2022.8,1337.0 2023.6,1335.9 2024.4,1337.3 2025.2,1335.9 2026.0,1337.4 2026.8,1335.9 2027.6,1337.7 2028.4,1336.2 2029.2,1337.8 2030.0,1335.8 2030.8,1338.1 2031.6,1335.8 2032.4,1337.8 2033.2,1336.5 2034.0,1337.7 2034.8,1336.8 2035.6,1338.6 2036.4,1336.7 2037.2,1339.5 2038.0,1338.1 2038.8,1340.2 2039.6,1339.0 2040.4,1342.0 2041.2,1340.6 2042.0,1343.1 2042.8,1341.5 2043.6,1344.0 2044.4,1342.6 2045.2,1345.4 2046.0,1343.6 2046.8,1345.6 2047.6,1343.8 2048.4,1345.0 2049.2,1342.6 2050.0,1344.1 2050.8,1342.3 2051.6,1342.3 2052.4,1340.3 2053.2,1341.6 2054.0,1338.8 2054.8,1340.7 2055.6,1337.7 2056.4,1338.9 2057.2,1335.9 2058.0,1337.7 2058.8,1335.1 2059.6,1336.6 2059.7,1334.5" stroke="#FFB000" />
<polyline points="228.0,61.0 228.1,64.0 228.2,68.0 228.3,72.0 228.4,76.0 228.5,80.0 228.6,84.0 228.7,88.0 228.8,92.0 228.9,96.0 229.0,100.0 229.1,104.0 229.3,108.0 229.4,112.0 229.5,116.0 229.6,120.0 229.8,124.0 229.9,128.0 230.0,132.0 230.2,136.0 230.3,140.0 230.5,144.0 230.6,148.0 230.8,152.0 230.9,156.0 231.1,160.0 231.2,164.0 231.4,168.0 231.5,172.0 231.7,176.0 231.8,180.0 232.0,184.0 232.2,188.0 232.3,192.0 232.5,196.0 232.7,199.9 232.9,203.9 233.0,207.9 233.2,211.9 233.4,215.9 233.6,219.9 233.8,223.9 233.9,227.9 234.1,231.9 234.3,235.9 234.5,239.9 234.7,243.9 234.9,247.9 235.1,251.9 235.3,255.9 235.5,259.9 235.7,263.9 235.9,267.9 236.1,271.9 236.3,275.9 236.5,279.9 236.7,283.8 236.9,287.8 237.1,291.8 237.3,295.8 237.5,299.8 237.7,303.8 237.9,307.8 238.1,311.8 238.3,315.8 238.5,319.8 238.7,323.8 239.0,327.8 239.2,331.8 239.4,335.8 239.6,339.8 239.8,343.8 240.1,347.7 240.3,351.7 240.5,355.7 240.8,359.7 241.1,363.7 241.3,367.7 241.6,371.7 241.9,375.7 242.2,379.7 242.5,383.7 242.8,387.6 243.1,391.6 243.4,395.6 243.7,399.6 244.0,403.6 244.3,407.6 244.7,411.6 245.0,415.6 245.3,419.6 245.6,423.5 245.9,427.5 246.2,431.5 246.5,435.5 246.8,439.5 247.1,443.5 247.4,447.5 247.7,451.5 247.9,455.5 248.2,459.5 248.5,463.4 248.7,467.4 249.0,471.4 249.2,475.4 249.5,479.4 249.7,483.4 249.9,487.4 250.1,491.4 250.3,495.4 250.5,499.4 250.7,503.4 250.9,507.4 251.1,511.4 251.3,515.4 251.5,519.4 251.7,523.4 251.9,527.4 252.1,531.3 252.2,535.3 252.4,539.3 252.6,543.3 252.8,547.3 253.0,551.3 253.1,555.3 253.3,559.3 253.5,563.3 253.7,567.3 253.8,571.3 254.0,575.3 254.2,579.3 254.3,583.3 254.5,587.3 254.7,591.3 254.8,595.3 255.0,599.3 255.2,603.3 255.3,607.3 255.5,611.3 255.7,615.3 255.9,619.3 256.1,623.3 256.3,627.3 256.5,631.2 256.7,635.2 256.9,639.2 257.1,643.2 257.3,647.2 257.5,651.2 257.7,655.2 257.9,659.2 258.2,663.2 258.4,667.2 258.6,671.2 258.9,675.2 259.1,679.2 259.3,683.2 259.6,687.2 259.8,691.2 260.1,695.2 260.3,699.1 260.6,703.1 260.9,707.1 261.2,711.1 261.4,715.1 261.7,719.1 262.0,723.1 262.3,727.1 262.6,731.1 262.9,735.0 263.3,739.0 263.6,743.0 264.0,747.0 264.4,751.0 264.7,755.0 265.1,758.9 265.5,762.9 265.9,766.9 266.2,770.9 266.6,774.9 267.0,778.9 267.4,782.8 267.8,786.8 268.1,790.8 268.5,794.8 268.9,798.8 269.3,802.8 269.7,806.7 270.1,810.7 270.5,814.7 270.8,818.7 271.2,822.7 271.7,826.6 272.1,830.6 272.5,834.6 272.9,838.6 273.3,842.5 273.7,846.5 274.2,850.5 274.6,854.5 275.0,858.5 275.5,862.4 275.9,866.4 276.4,870.4 276.9,874.3 277.3,878.3 277.9,882.3 278.4,886.3 278.9,890.2 279.5,894.2 280.0,898.1 280.6,902.1 281.1,906.1 281.6,910.0 282.2,914.0 282.6,918.0 283.8,930.4 284.6,939.0 285.4,947.0 286.2,954.0 287.0,960.0 287.8,965.0 288.6,969.5 289.4,973.4 290.2,977.3 291.0,980.8 291.8,984.0 292.6,986.4 293.4,989.6 294.2,993.4 295.0,999.5 295.8,1008.2 296.6,1019.0 297.4,1025.0 298.2,1027.9 299.0,1029.7 299.8,1031.4 300.6,1031.7 301.4,1034.1 302.2,1034.4 303.0,1036.5 303.8,1037.9 304.6,1040.4 305.4,1042.6 306.2,1045.6 307.0,1048.4 307.8,1051.5 308.6,1054.4 309.4,1057.6 310.2,1060.7 311.0,1064.1 311.8,1067.1 312.6,1070.3 313.4,1073.0 314.2,1076.0 315.0,1078.5 315.8,1081.5 316.6,1084.3 317.4,1087.4 318.2,1090.2 319.0,1093.5 319.8,1096.4 320.6,1099.6 321.4,1102.3 322.2,1105.5 323.0,1108.5 323.8,1112.3 324.6,1116.6 325.4,1121.5 326.2,1125.8 327.0,1129.5 327.8,1132.5 328.6,1135.6 329.4,1138.1 330.2,1140.9 331.0,1143.0 331.8,1145.5 332.6,1147.4 333.4,1149.8 334.2,1151.3 335.0,1153.5 335.8,1154.9 336.6,1157.3 337.4,1158.7 338.2,1160.7 339.0,1161.7 339.8,1163.8 340.6,1164.7 341.4,1166.9 342.2,1167.6 343.0,1169.5 343.8,1170.9 344.6,1173.0 345.4,1174.0 346.2,1176.2 347.0,1177.4 347.8,1179.4 348.6,1181.0 349.4,1183.4 350.2,1185.1 351.0,1187.8 351.8,1190.1 352.6,1193.0 353.4,1195.6 354.2,1198.8 355.0,1202.0 355.8,1206.1 356.6,1209.8 357.4,1213.4 358.2,1215.1 359.0,1217.5 359.8,1218.3 360.6,1220.5 361.4,1221.0 362.2,1223.0 363.0,1223.0 363.8,1224.5 364.6,1224.3 365.4,1226.1 366.2,1226.0 367.0,1227.7 367.8,1227.7 368.6,1229.5 369.4,1229.4 370.2,1231.2 371.0,1230.9 371.8,1232.7 372.6,1232.3 373.4,1234.1 374.2,1233.8 375.0,1235.8 375.8,1235.3 376.6,1236.8 377.4,1237.1 378.2,1238.3 379.0,1237.8 379.8,1239.7 380.6,1238.0 381.4,1240.7 382.2,1240.3 383.0,1241.5 383.8,1241.5 384.6,1243.3 385.4,1242.7 386.2,1245.2 387.0,1243.8 387.8,1246.7 388.6,1245.4 389.4,1247.7 390.2,1246.9 391.0,1250.0 391.8,1247.6 392.6,1249.8 393.4,1248.2 394.2,1250.0 395.0,1249.0 395.8,1251.2 396.6,1249.8 397.4,1251.8 398.2,1250.9 399.0,1253.3 399.8,1252.1 400.6,1254.3 401.4,1254.0 402.2,1255.8 403.0,1255.2 403.8,1256.9 404.6,1256.6 405.4,1258.5 406.2,1257.4 407.0,1259.2 407.8,1258.6 408.6,1260.7 409.4,1259.4 410.2,1261.4 411.0,1260.5 411.8,1263.7 412.6,1262.3 413.4,1264.5 414.2,1264.1 415.0,1266.9 415.8,1265.7 416.6,1267.4 417.4,1266.9 418.2,1269.3 419.0,1268.3 419.8,1270.4 420.6,1269.4 421.4,1271.4 422.2,1270.4 423.0,1272.4 423.8,1270.2 424.6,1271.9 425.4,1270.5 426.2,1272.6 427.0,1270.6 427.8,1272.2 428.6,1269.5 429.4,1272.1 430.2,1270.7 431.0,1272.7 431.8,1271.7 432.6,1273.9 433.4,1273.6 434.2,1276.2 435.0,1275.8 435.8,1277.7 436.6,1277.9 437.4,1280.0 438.2,1280.2 439.0,1282.2 439.8,1282.5 440.6,1284.8 441.4,1284.9 442.2,1287.0 443.0,1287.1 443.8,1289.1 444.6,1288.3 445.4,1290.3 446.2,1289.6 447.0,1291.8 447.8,1290.8 448.6,1292.9 449.4,1291.0 450.2,1292.8 451.0,1291.7 451.8,1293.7 452.6,1291.5 453.4,1293.6 454.2,1292.2 455.0,1293.6 455.8,1291.8 456.6,1293.0 457.4,1292.4 458.2,1294.1 459.0,1292.4 459.8,1294.2 460.6,1292.5 461.4,1295.0 462.2,1293.5 463.0,1296.1 463.8,1293.9 464.6,1296.9 465.4,1295.0 466.2,1297.6 467.0,1295.4 467.8,1298.0 468.6,1296.7 469.4,1298.5 470.2,1296.5 471.0,1299.0 471.8,1297.8 472.6,1299.3 473.4,1298.0 474.2,1300.6 475.0,1299.1 475.8,1301.8 476.6,1300.2 477.4,1302.2 478.2,1301.6 479.0,1304.3 479.8,1302.8 480.6,1305.1 481.4,1304.2 482.2,1306.0 483.0,1305.5 483.8,1307.3 484.6,1306.4 485.4,1307.8 486.2,1306.7 487.0,1308.4 487.8,1307.9 488.6,1309.8 489.4,1308.8 490.2,1310.8 491.0,1309.0 491.8,1310.8 492.6,1309.6 493.4,1311.8 494.2,1309.8 495.0,1312.1 495.8,1310.6 496.6,1312.7 497.4,1311.9 498.2,1313.7 499.0,1312.7 499.8,1315.5 500.6,1314.4 501.4,1316.7 502.2,1316.0 503.0,1318.6 503.8,1317.6 504.6,1320.2 505.4,1319.4 506.2,1321.9 507.0,1321.1 507.8,1323.2 508.6,1322.1 509.4,1324.3 510.2,1323.3 511.0,1326.3 511.8,1324.8 512.6,1327.0 513.4,1326.5 514.2,1327.8 515.0,1327.3 515.8,1329.4 516.6,1328.7 517.4,1330.6 518.2,1330.3 519.0,1332.6 519.8,1332.4 520.6,1334.2 521.4,1334.4 522.2,1336.1 523.0,1336.8 523.8,1338.7 524.6,1338.9 525.4,1341.1 526.2,1341.3 527.0,1343.3 527.8,1343.4 528.6,1345.5 529.4,1345.3 530.2,1347.7 531.0,1347.2 531.8,1349.4 532.6,1348.3 533.4,1350.4 534.2,1349.8 535.0,1350.8 535.8,1350.4 536.6,1352.2 537.4,1350.7 538.2,1352.6 539.0,1351.1 539.8,1352.9 540.6,1351.1 541.4,1353.5 542.2,1351.2 543.0,1354.0 543.8,1352.3 544.6,1352.7 545.4,1351.6 546.2,1354.2 547.0,1352.6 547.8,1354.6 548.6,1353.2 549.4,1355.4 550.2,1354.1 551.0,1356.5 551.8,1354.6 552.6,1357.1 553.4,1355.0 554.2,1357.6 555.0,1355.9 555.8,1358.9 556.6,1357.8 557.4,1359.3 558.2,1357.3 559.0,1359.7 559.8,1358.4 560.6,1360.4 561.4,1359.3 562.2,1361.2 563.0,1359.0 563.8,1362.1 564.6,1360.7 565.4,1362.7 566.2,1362.4 567.0,1364.0 567.8,1363.1 568.6,1365.1 569.4,1364.7 570.2,1366.9 571.0,1366.2 571.8,1367.8 572.6,1366.7 573.4,1369.4 574.2,1367.3 575.0,1370.1 575.8,1368.0 576.6,1370.0 577.4,1368.0 578.2,1370.3 579.0,1368.1 579.8,1370.0 580.6,1368.3 581.4,1370.1 582.2,1368.4 583.0,1370.3 583.8,1368.2 584.6,1370.1 585.4,1368.0 586.2,1370.6 587.0,1367.9 587.8,1369.6 588.6,1367.7 589.4,1370.0 590.2,1367.7 591.0,1369.7 591.8,1367.8 592.6,1370.0 593.4,1368.2 594.2,1370.4 595.0,1367.8 595.8,1370.1 596.6,1367.6 597.4,1370.8 598.2,1368.9 599.0,1370.9 599.8,1368.5 600.6,1370.8 601.4,1368.3 602.2,1370.3 603.0,1367.9 603.8,1370.2 604.6,1368.4 605.4,1371.2 606.2,1369.7 607.0,1371.2 607.8,1370.0 608.6,1372.3 609.4,1370.6 610.2,1372.5 611.0,1371.6 611.8,1373.6 612.6,1372.7 613.4,1374.8 614.2,1373.5 615.0,1375.6 615.8,1374.3 616.6,1375.8 617.4,1374.6 618.2,1375.5 619.0,1373.9 619.8,1375.6 620.6,1372.7 621.4,1373.9 622.2,1372.2 623.0,1373.3 623.8,1371.4 624.6,1373.0 625.4,1370.5 626.2,1372.4 627.0,1370.7 627.8,1372.5 628.6,1370.2 629.4,1372.8 630.2,1371.1 631.0,1373.3 631.8,1371.5 632.6,1373.6 633.4,1371.8 634.2,1373.6 635.0,1371.6 635.8,1374.6 636.6,1372.0 637.4,1374.4 638.2,1371.9 639.0,1374.6 639.8,1372.3 640.6,1375.8 641.4,1372.6 642.2,1374.8 643.0,1373.6 643.8,1375.9 644.6,1373.0 645.4,1376.1 646.2,1374.5 647.0,1376.0 647.8,1374.8 648.6,1376.5 649.4,1374.4 650.2,1376.7 651.0,1374.7 651.8,1376.4 652.6,1375.7 653.4,1376.8 654.2,1374.9 655.0,1377.4 655.8,1375.4 656.6,1377.8 657.4,1375.7 658.2,1378.0 659.0,1376.3 659.8,1378.5 660.6,1376.8 661.4,1379.0 662.2,1377.9 663.0,1379.3 663.8,1377.4 664.6,1379.5 665.4,1377.8 666.2,1379.6 667.0,1377.7 667.8,1378.7 668.6,1377.1 669.4,1378.7 670.2,1376.5 671.0,1378.4 671.8,1375.5 672.6,1378.0 673.4,1375.9 674.2,1377.1 675.0,1375.4 675.8,1377.5 676.6,1374.7 677.4,1376.5 678.2,1374.0 679.0,1375.2 679.8,1373.1 680.6,1373.9 681.4,1372.3 682.2,1372.4 683.0,1370.1 683.8,1370.9 684.6,1368.5 685.4,1369.5 686.2,1367.8 687.0,1369.3 687.8,1367.0 688.6,1369.9 689.4,1366.8 690.2,1369.4 691.0,1366.6 691.8,1368.9 692.6,1366.7 693.4,1368.4 694.2,1365.7 695.0,1368.3 695.8,1366.3 696.6,1368.1 697.4,1366.5 698.2,1369.0 699.0,1366.8 699.8,1369.4 700.6,1367.4 701.4,1370.2 702.2,1368.8 703.0,1371.8 703.8,1369.9 704.6,1372.2 705.4,1371.1 706.2,1372.8 707.0,1372.1 707.8,1374.0 708.6,1372.4 709.4,1375.3 710.2,1373.4 711.0,1376.0 711.8,1373.3 712.6,1376.0 713.4,1373.9 714.2,1375.9 715.0,1373.4 715.8,1376.2 716.6,1373.9 717.4,1375.3 718.2,1373.0 719.0,1375.0 719.8,1373.6 720.6,1374.8 721.4,1372.4 722.2,1373.7 723.0,1371.4 723.8,1372.4 724.6,1370.4 725.4,1371.6 726.2,1369.6 727.0,1371.0 727.8,1370.4 728.6,1372.4 729.4,1372.7 730.2,1374.6 731.0,1375.0 731.8,1376.9 732.6,1377.0 733.4,1378.5 734.2,1377.5 735.0,1379.9 735.8,1379.2 736.6,1381.0 737.4,1380.2 738.2,1382.0 739.0,1381.2 739.8,1383.7 740.6,1382.4 741.4,1384.4 742.2,1382.7 743.0,1384.5 743.8,1383.4 744.6,1385.6 745.4,1384.1 746.2,1386.6 747.0,1384.2 747.8,1386.5 748.6,1384.0 749.4,1386.9 750.2,1384.9 751.0,1387.2 751.8,1385.1 752.6,1387.1 753.4,1385.7 754.2,1387.1 755.0,1386.0 755.8,1388.2 756.6,1386.4 757.4,1388.4 758.2,1387.5 759.0,1389.6 759.8,1388.3 760.6,1390.5 761.4,1388.3 762.2,1390.9 763.0,1389.3 763.8,1390.9 764.6,1389.0 765.4,1390.9 766.2,1389.6 767.0,1392.1 767.8,1389.0 768.6,1391.7 769.4,1389.8 770.2,1391.2 771.0,1389.3 771.8,1391.0 772.6,1389.0 773.4,1391.2 774.2,1389.3 775.0,1391.0 775.8,1389.2 776.6,1390.9 777.4,1388.3 778.2,1391.1 779.0,1389.0 779.8,1390.3 780.6,1389.2 781.4,1390.8 782.2,1389.0 783.0,1391.7 783.8,1389.0 784.6,1391.4 785.4,1390.8 786.2,1392.8 787.0,1391.0 787.8,1394.1 788.6,1392.0 789.4,1393.2 790.2,1391.5 791.0,1392.6 791.8,1390.9 792.6,1390.7 793.4,1389.4 794.2,1390.6 795.0,1388.3 795.8,1390.8 796.6,1388.4 797.4,1390.7 798.2,1389.5 799.0,1391.1 799.8,1389.3 800.6,1391.1 801.4,1389.2 802.2,1391.3 803.0,1388.7 803.8,1391.0 804.6,1389.4 805.4,1390.9 806.2,1389.1 807.0,1391.8 807.8,1390.0 808.6,1391.4 809.4,1389.5 810.2,1392.1 811.0,1390.3 811.8,1392.1 812.6,1390.7 813.4,1392.9 814.2,1391.0 815.0,1394.2 815.8,1391.9 816.6,1393.9 817.4,1392.4 818.2,1395.0 819.0,1393.2 819.8,1394.7 820.6,1393.9 821.4,1395.8 822.2,1394.4 823.0,1396.6 823.8,1395.2 824.6,1396.8 825.4,1395.4 826.2,1397.5 827.0,1395.8 827.8,1398.2 828.6,1396.4 829.4,1398.3 830.2,1395.2 831.0,1397.8 831.8,1395.1 832.6,1395.6 833.4,1393.9 834.2,1393.6 835.0,1391.5 835.8,1391.4 836.6,1389.4 837.4,1391.4 838.2,1390.1 839.0,1392.1 839.8,1391.5 840.6,1393.7 841.4,1393.1 842.2,1395.1 843.0,1395.3 843.8,1396.7 844.6,1396.3 845.4,1398.2 846.2,1397.3 847.0,1398.9 847.8,1397.9 848.6,1400.2 849.4,1398.5 850.2,1401.0 851.0,1399.0 851.8,1401.4 852.6,1399.6 853.4,1402.1 854.2,1399.9 855.0,1401.4 855.8,1399.7 856.6,1401.5 857.4,1399.1 858.2,1401.3 859.0,1398.8 859.8,1400.2 860.6,1397.5 861.4,1398.8 862.2,1397.1 863.0,1397.3 863.8,1395.7 864.6,1395.8 865.4,1393.7 866.2,1393.9 867.0,1391.5 867.8,1392.4 868.6,1389.6 869.4,1391.3 870.2,1390.7 871.0,1392.4 871.8,1391.7 872.6,1394.4 873.4,1394.1 874.2,1395.6 875.0,1396.2 875.8,1398.2 876.6,1397.6 877.4,1399.7 878.2,1397.6 879.0,1399.8 879.8,1397.4 880.6,1399.7 881.4,1398.2 882.2,1399.5 883.0,1397.6 883.8,1398.4 884.6,1397.2 885.4,1398.3 886.2,1397.2 887.0,1398.5 887.8,1397.2 888.6,1398.8 889.4,1398.0 890.2,1399.0 891.0,1397.7 891.8,1400.6 892.6,1398.0 893.4,1399.5 894.2,1397.8 895.0,1399.1 895.8,1398.1 896.6,1399.2 897.4,1399.3 898.2,1400.8 899.0,1401.3 899.8,1403.1 900.6,1401.6 901.4,1403.9 902.2,1402.2 903.0,1403.8 903.8,1403.2 904.6,1404.9 905.4,1402.9 906.2,1406.3 907.0,1404.8 907.8,1407.0 908.6,1405.0 909.4,1406.5 910.2,1405.1 911.0,1406.9 911.8,1404.0 912.6,1405.1 913.4,1401.9 914.2,1403.1 915.0,1400.6 915.8,1400.6 916.6,1398.2 917.4,1399.0 918.2,1397.0 919.0,1397.2 919.8,1395.0 920.6,1395.2 921.4,1392.9 922.2,1394.0 923.0,1392.2 923.8,1394.8 924.6,1395.0 925.4,1397.3 926.2,1398.2 927.0,1400.5 927.8,1400.7 928.6,1404.0 929.4,1402.1 930.2,1404.3 931.0,1402.2 931.8,1404.0 932.6,1402.2 933.4,1403.6 934.2,1401.3 935.0,1402.5 935.8,1400.8 936.6,1402.2 937.4,1400.1 938.2,1401.9 939.0,1399.1 939.8,1400.0 940.6,1398.2 941.4,1399.1 942.2,1396.8 943.0,1398.9 943.8,1396.1 944.6,1396.9 945.4,1394.3 946.2,1395.6 947.0,1392.5 947.8,1394.4 948.6,1391.8 949.4,1393.5 950.2,1390.7 951.0,1392.0 951.8,1389.7 952.6,1390.8 953.4,1388.5 954.2,1389.9 955.0,1387.7 955.8,1389.1 956.6,1387.5 957.4,1390.0 958.2,1388.4 959.0,1391.2 959.8,1389.5 960.6,1390.6 961.4,1389.9 962.2,1391.6 963.0,1390.6 963.8,1393.1 964.6,1390.9 965.4,1393.2 966.2,1391.9 967.0,1393.9 967.8,1392.7 968.6,1394.3 969.4,1392.5 970.2,1394.9 971.0,1392.2 971.8,1394.4 972.6,1392.1 973.4,1394.5 974.2,1392.9 975.0,1395.0 975.8,1392.7 976.6,1394.5 977.4,1392.6 978.2,1394.5 979.0,1393.0 979.8,1395.5 980.6,1392.2 981.4,1394.3 982.2,1393.5 983.0,1394.5 983.8,1393.2 984.6,1394.7 985.4,1393.6 986.2,1395.6 987.0,1394.1 987.8,1396.3 988.6,1395.5 989.4,1397.7 990.2,1397.7 991.0,1399.6 991.8,1399.0 992.6,1401.1 993.4,1400.6 994.2,1402.8 995.0,1401.4 995.8,1403.0 996.6,1401.1 997.4,1401.8 998.2,1399.6 999.0,1399.9 999.8,1397.9 1000.6,1397.9 1001.4,1396.4 1002.2,1397.1 1003.0,1395.0 1003.8,1396.8 1004.6,1394.9 1005.4,1396.7 1006.2,1394.6 1007.0,1396.5 1007.8,1394.0 1008.6,1396.7 1009.4,1394.6 1010.2,1396.6 1011.0,1395.6 1011.8,1396.1 1012.6,1394.7 1013.4,1396.9 1014.2,1394.8 1015.0,1396.6 1015.8,1393.8 1016.6,1395.5 1017.4,1394.0 1018.2,1395.3 1019.0,1393.9 1019.8,1395.0 1020.6,1393.0 1021.4,1394.6 1022.2,1392.3 1023.0,1393.7 1023.8,1391.4 1024.6,1392.5 1025.4,1390.3 1026.2,1391.4 1027.0,1388.8 1027.8,1389.8 1028.6,1388.1 1029.4,1389.3 1030.2,1386.5 1031.0,1388.3 1031.8,1385.7 1032.6,1388.6 1033.4,1385.6 1034.2,1388.6 1035.0,1386.3 1035.8,1388.7 1036.6,1387.0 1037.4,1389.0 1038.2,1387.7 1039.0,1389.7 1039.8,1387.5 1040.6,1389.3 1041.4,1388.5 1042.2,1390.3 1043.0,1387.8 1043.8,1389.6 1044.6,1387.7 1045.4,1389.5 1046.2,1387.7 1047.0,1388.6 1047.8,1386.9 1048.6,1387.7 1049.4,1386.2 1050.2,1387.0 1051.0,1384.6 1051.8,1385.5 1052.6,1383.7 1053.4,1384.3 1054.2,1382.2 1055.0,1384.5 1055.8,1382.5 1056.6,1384.3 1057.4,1383.1 1058.2,1384.7 1059.0,1382.1 1059.8,1384.9 1060.6,1382.9 1061.4,1385.6 1062.2,1382.9 1063.0,1384.9 1063.8,1383.2 1064.6,1385.2 1065.4,1382.9 1066.2,1385.5 1067.0,1383.8 1067.8,1386.5 1068.6,1385.3 1069.4,1386.3 1070.2,1384.7 1071.0,1386.9 1071.8,1385.1 1072.6,1387.0 1073.4,1385.2 1074.2,1387.3 1075.0,1384.3 1075.8,1385.9 1076.6,1383.5 1077.4,1386.3 1078.2,1384.1 1079.0,1385.0 1079.8,1383.0 1080.6,1385.5 1081.4,1384.4 1082.2,1386.3 1083.0,1385.1 1083.8,1387.2 1084.6,1385.8 1085.4,1387.4 1086.2,1386.2 1087.0,1387.3 1087.8,1384.7 1088.6,1386.3 1089.4,1383.8 1090.2,1385.4 1091.0,1383.6 1091.8,1383.9 1092.6,1382.5 1093.4,1383.8 1094.2,1381.3 1095.0,1382.1 1095.8,1380.3 1096.6,1382.0 1097.4,1379.8 1098.2,1381.4 1099.0,1379.8 1099.8,1381.4 1100.6,1379.8 1101.4,1381.0 1102.2,1380.2 1103.0,1381.8 1103.8,1379.9 1104.6,1381.5 1105.4,1380.4 1106.2,1381.8 1107.0,1380.7 1107.8,1382.5 1108.6,1380.0 1109.4,1382.2 1110.2,1381.1 1111.0,1382.7 1111.8,1380.3 1112.6,1382.2 1113.4,1379.9 1114.2,1380.7 1115.0,1378.7 1115.8,1379.5 1116.6,1377.5 1117.4,1378.9 1118.2,1376.5 1119.0,1378.8 1119.8,1376.7 1120.6,1379.0 1121.4,1377.3 1122.2,1379.6 1123.0,1377.8 1123.8,1380.0 1124.6,1378.3 1125.4,1380.7 1126.2,1378.9 1127.0,1381.2 1127.8,1380.1 1128.6,1381.8 1129.4,1380.3 1130.2,1381.7 1131.0,1380.7 1131.8,1381.9 1132.6,1380.3 1133.4,1381.9 1134.2,1380.3 1135.0,1381.7 1135.8,1379.6 1136.6,1381.2 1137.4,1379.9 1138.2,1381.7 1139.0,1380.5 1139.8,1383.1 1140.6,1380.2 1141.4,1382.8 1142.2,1381.6 1142.6,1384.1 1142.6,1384.1 1142.6,66.3 1142.8,69.3 1143.0,73.3 1143.2,77.3 1143.4,81.3 1143.6,85.3 1143.9,89.3 1144.1,93.3 1144.3,97.3 1144.5,101.2 1144.7,105.2 1145.0,109.2 1145.2,113.2 1145.4,117.2 1145.6,121.2 1145.8,125.2 1146.1,129.2 1146.3,133.2 1146.5,137.2 1146.7,141.2 1146.9,145.2 1147.2,149.2 1147.4,153.2 1147.6,157.2 1147.8,161.2 1148.0,165.2 1148.2,169.1 1148.5,173.1 1148.7,177.1 1148.9,181.1 1149.1,185.1 1149.3,189.1 1149.5,193.1 1149.8,197.1 1150.0,201.1 1150.2,205.1 1150.4,209.1 1150.6,213.1 1150.8,217.1 1151.1,221.1 1151.3,225.1 1151.5,229.1 1151.7,233.1 1151.9,237.0 1152.1,241.0 1152.4,245.0 1152.6,249.0 1152.8,253.0 1153.0,257.0 1153.2,261.0 1153.4,265.0 1153.6,269.0 1153.9,273.0 1154.1,277.0 1154.3,281.0 1154.5,285.0 1154.7,289.0 1154.9,293.0 1155.1,297.0 1155.4,301.0 1155.6,304.9 1155.8,308.9 1156.0,312.9 1156.2,316.9 1156.4,320.9 1156.6,324.9 1156.8,328.9 1157.1,332.9 1157.3,336.9 1157.5,340.9 1157.7,344.9 1157.9,348.9 1158.1,352.9 1158.3,356.9 1158.6,360.9 1158.8,364.9 1159.0,368.9 1159.2,372.9 1159.4,376.8 1159.6,380.8 1159.8,384.8 1160.0,388.8 1160.2,392.8 1160.5,396.8 1160.7,400.8 1160.9,404.8 1161.1,408.8 1161.3,412.8 1161.5,416.8 1161.7,420.8 1161.9,424.8 1162.1,428.8 1162.4,432.8 1162.6,436.8 1162.8,440.8 1163.0,444.8 1163.2,448.7 1163.4,452.7 1163.6,456.7 1163.8,460.7 1164.0,464.7 1164.2,468.7 1164.4,472.7 1164.6,476.7 1164.8,480.7 1165.0,484.7 1165.2,488.7 1165.4,492.7 1165.6,496.7 1165.8,500.7 1166.0,504.7 1166.2,508.7 1166.4,512.7 1166.6,516.7 1166.8,520.7 1167.0,524.7 1167.2,528.6 1167.4,532.6 1167.6,536.6 1167.8,540.6 1168.0,544.6 1168.2,548.6 1168.5,552.6 1168.7,556.6 1168.9,560.6 1169.1,564.6 1169.3,568.6 1169.6,572.6 1169.8,576.6 1170.0,580.6 1170.3,584.6 1170.5,588.6 1170.8,592.5 1171.0,596.5 1171.3,600.5 1171.5,604.5 1171.8,608.5 1172.1,612.5 1172.3,616.5 1172.6,620.5 1172.9,624.5 1173.1,628.5 1173.4,632.5 1173.7,636.4 1174.0,640.4 1174.2,644.4 1174.5,648.4 1174.8,652.4 1175.1,656.4 1175.3,660.4 1175.6,664.4 1175.9,668.4 1176.1,672.4 1176.4,676.4 1176.6,680.4 1176.9,684.3 1177.1,688.3 1177.4,692.3 1177.6,696.3 1177.9,700.3 1178.1,704.3 1178.4,708.3 1178.6,712.3 1178.9,716.3 1179.1,720.3 1179.3,724.3 1179.6,728.3 1179.8,732.3 1180.1,736.2 1180.3,740.2 1180.5,744.2 1180.8,748.2 1181.0,752.2 1181.3,756.2 1181.5,760.2 1181.7,764.2 1182.0,768.2 1182.2,772.2 1182.5,776.2 1182.7,780.2 1182.9,784.2 1183.2,788.2 1183.4,792.1 1183.6,796.1 1183.9,800.1 1184.1,804.1 1184.3,808.1 1184.6,812.1 1184.8,816.1 1185.1,820.1 1185.4,824.1 1185.7,828.1 1186.0,832.1 1186.3,836.1 1186.6,840.0 1187.0,844.0 1187.3,848.0 1187.7,852.0 1188.0,856.0 1188.4,860.0 1188.8,863.9 1189.2,867.9 1189.7,871.9 1190.1,875.9 1190.6,879.8 1191.1,883.8 1191.6,887.8 1192.2,891.7 1192.8,895.7 1193.4,899.6 1194.0,903.6 1194.6,907.5 1195.2,911.5 1195.8,915.5 1196.4,919.4 1196.9,923.4 1197.8,932.1 1198.6,939.5 1199.4,946.0 1200.2,951.0 1201.0,955.3 1201.8,958.8 1202.6,962.2 1203.4,965.1 1204.2,968.2 1205.0,970.9 1205.8,974.1 1206.6,977.1 1207.4,980.2 1208.2,982.7 1209.0,985.7 1209.8,988.2 1210.6,991.2 1211.4,994.3 1212.2,997.8 1213.0,1001.4 1213.8,1006.2 1214.6,1011.3 1215.4,1016.7 1216.2,1021.4 1217.0,1025.7 1217.8,1029.4 1218.6,1033.1 1219.4,1036.6 1220.2,1040.5 1221.0,1044.4 1221.8,1049.1 1222.6,1053.8 1223.4,1058.8 1224.2,1063.3 1225.0,1067.6 1225.8,1071.3 1226.6,1075.0 1227.4,1078.2 1228.2,1081.7 1229.0,1084.7 1229.8,1088.2 1230.6,1091.3 1231.4,1094.8 1232.2,1097.9 1233.0,1101.4 1233.8,1104.2 1234.6,1107.4 1235.4,1109.9 1236.2,1112.7 1237.0,1114.8 1237.8,1117.4 1238.6,1119.3 1239.4,1121.7 1240.2,1123.5 1241.0,1126.0 1241.8,1127.5 1242.6,1130.1 1243.4,1131.6 1244.2,1134.0 1245.0,1135.7 1245.8,1138.0 1246.6,1139.5 1247.4,1142.0 1248.2,1143.3 1249.0,1145.6 1249.8,1147.1 1250.6,1149.2 1251.4,1150.6 1252.2,1152.7 1253.0,1153.7 1253.8,1155.7 1254.6,1156.7 1255.4,1158.6 1256.2,1159.5 1257.0,1161.6 1257.8,1162.1 1258.6,1164.3 1259.4,1164.6 1260.2,1167.0 1261.0,1167.5 1261.8,1169.1 1262.6,1169.7 1263.4,1171.8 1264.2,1172.0 1265.0,1173.7 1265.8,1174.1 1266.6,1176.2 1267.4,1176.7 1268.2,1178.2 1269.0,1178.8 1269.8,1180.6 1270.6,1181.2 1271.4,1183.2 1272.2,1183.7 1273.0,1185.6 1273.8,1186.6 1274.6,1188.3 1275.4,1189.0 1276.2,1191.2 1277.0,1191.7 1277.8,1193.8 1278.6,1194.6 1279.4,1196.5 1280.2,1197.3 1281.0,1199.5 1281.8,1199.9 1282.6,1202.0 1283.4,1202.3 1284.2,1204.2 1285.0,1204.6 1285.8,1206.8 1286.6,1207.0 1287.4,1208.8 1288.2,1208.8 1289.0,1210.6 1289.8,1210.7 1290.6,1212.7 1291.4,1212.7 1292.2,1214.4 1293.0,1214.2 1293.8,1216.1 1294.6,1216.0 1295.4,1217.9 1296.2,1217.4 1297.0,1219.4 1297.8,1219.5 1298.6,1221.6 1299.4,1221.6 1300.2,1223.5 1301.0,1223.8 1301.8,1225.4 1302.6,1225.8 1303.4,1227.7 1304.2,1227.6 1305.0,1230.0 1305.8,1229.6 1306.6,1231.7 1307.4,1231.9 1308.2,1234.0 1309.0,1233.9 1309.8,1235.6 1310.6,1235.8 1311.4,1237.9 1312.2,1238.1 1313.0,1239.8 1313.8,1239.1 1314.6,1240.7 1315.4,1240.5 1316.2,1242.0 1317.0,1241.6 1317.8,1243.5 1318.6,1242.7 1319.4,1244.7 1320.2,1244.0 1321.0,1245.9 1321.8,1245.9 1322.6,1247.7 1323.4,1247.3 1324.2,1249.2 1325.0,1249.5 1325.8,1251.6 1326.6,1251.9 1327.4,1254.1 1328.2,1254.3 1329.0,1256.1 1329.8,1257.0 1330.6,1258.9 1331.4,1259.1 1332.2,1261.2 1333.0,1260.8 1333.8,1262.9 1334.6,1262.5 1335.4,1264.7 1336.2,1263.5 1337.0,1265.5 1337.8,1265.0 1338.6,1266.7 1339.4,1265.4 1340.2,1268.0 1341.0,1266.2 1341.8,1268.8 1342.6,1267.7 1343.4,1270.1 1344.2,1269.1 1345.0,1271.1 1345.8,1270.7 1346.6,1272.4 1347.4,1272.3 1348.2,1274.1 1349.0,1274.0 1349.8,1275.7 1350.6,1275.4 1351.4,1277.5 1352.2,1277.4 1353.0,1278.7 1353.8,1278.8 1354.6,1280.9 1355.4,1279.9 1356.2,1282.1 1357.0,1281.7 1357.8,1283.4 1358.6,1282.4 1359.4,1285.2 1360.2,1283.3 1361.0,1285.5 1361.8,1283.9 1362.6,1286.4 1363.4,1285.3 1364.2,1288.0 1365.0,1287.1 1365.8,1288.5 1366.6,1288.7 1367.4,1290.4 1368.2,1290.1 1369.0,1292.2 1369.8,1292.1 1370.6,1293.9 1371.4,1293.9 1372.2,1296.0 1373.0,1296.3 1373.8,1298.3 1374.6,1298.1 1375.4,1300.7 1376.2,1299.8 1377.0,1302.4 1377.8,1301.5 1378.6,1303.7 1379.4,1302.5 1380.2,1304.7 1381.0,1303.4 1381.8,1305.0 1382.6,1304.3 1383.4,1306.1 1384.2,1305.1 1385.0,1306.8 1385.8,1305.3 1386.6,1307.2 1387.4,1305.8 1388.2,1307.9 1389.0,1307.5 1389.8,1309.4 1390.6,1308.3 1391.4,1310.0 1392.2,1309.2 1393.0,1311.0 1393.8,1309.7 1394.6,1311.7 1395.4,1311.5 1396.2,1313.4 1397.0,1313.0 1397.8,1315.1 1398.6,1315.2 1399.4,1317.2 1400.2,1317.3 1401.0,1319.1 1401.8,1319.3 1402.6,1321.1 1403.4,1320.4 1404.2,1323.1 1405.0,1321.5 1405.8,1323.6 1406.6,1322.6 1407.4,1324.3 1408.2,1323.7 1409.0,1325.8 1409.8,1323.9 1410.6,1326.5 1411.4,1325.1 1412.2,1326.6 1413.0,1324.7 1413.8,1327.9 1414.6,1325.4 1415.4,1328.1 1416.2,1325.5 1417.0,1327.9 1417.8,1325.7 1418.6,1328.3 1419.4,1326.1 1420.2,1328.0 1421.0,1327.1 1421.8,1328.7 1422.6,1326.6 1423.4,1329.2 1424.2,1327.8 1425.0,1329.8 1425.8,1328.9 1426.6,1331.1 1427.4,1330.3 1428.2,1332.3 1429.0,1331.0 1429.8,1333.5 1430.6,1333.0 1431.4,1334.6 1432.2,1334.3 1433.0,1336.3 1433.8,1335.3 1434.6,1337.5 1435.4,1336.4 1436.2,1338.4 1437.0,1337.4 1437.8,1339.7 1438.6,1339.0 1439.4,1340.5 1440.2,1340.0 1441.0,1341.1 1441.8,1340.5 1442.6,1342.4 1443.4,1342.3 1444.2,1343.7 1445.0,1343.2 1445.8,1344.5 1446.6,1344.1 1447.4,1346.2 1448.2,1345.1 1449.0,1346.3 1449.8,1346.0 1450.6,1348.1 1451.4,1347.1 1452.2,1348.8 1453.0,1346.9 1453.8,1349.2 1454.6,1348.2 1455.4,1349.6 1456.2,1348.5 1457.0,1350.1 1457.8,1348.7 1458.6,1350.8 1459.4,1348.8 1460.2,1351.8 1461.0,1349.5 1461.8,1351.5 1462.6,1349.8 1463.4,1352.1 1464.2,1350.7 1465.0,1352.5 1465.8,1351.2 1466.6,1354.1 1467.4,1352.7 1468.2,1354.2 1469.0,1353.0 1469.8,1355.9 1470.6,1354.6 1471.4,1357.2 1472.2,1355.2 1473.0,1358.2 1473.8,1356.5 1474.6,1358.9 1475.4,1357.6 1476.2,1360.4 1477.0,1358.8 1477.8,1361.3 1478.6,1359.3 1479.4,1361.7 1480.2,1359.7 1481.0,1362.1 1481.8,1360.3 1482.6,1362.2 1483.4,1360.5 1484.2,1362.2 1485.0,1359.9 1485.8,1360.9 1486.6,1358.7 1487.4,1359.2 1488.2,1357.2 1489.0,1357.7 1489.8,1355.6 1490.6,1356.3 1491.4,1353.6 1492.2,1355.1 1493.0,1354.2 1493.8,1355.8 1494.6,1354.2 1495.4,1356.3 1496.2,1354.9 1497.0,1358.2 1497.8,1356.0 1498.6,1358.6 1499.4,1357.6 1500.2,1359.5 1501.0,1358.3 1501.8,1360.7 1502.6,1359.4 1503.4,1361.6 1504.2,1360.2 1505.0,1361.5 1505.8,1360.1 1506.6,1362.4 1507.4,1360.2 1508.2,1361.4 1509.0,1358.7 1509.8,1361.9 1510.6,1359.7 1511.4,1361.2 1512.2,1359.6 1513.0,1360.8 1513.8,1358.7 1514.6,1360.0 1515.4,1358.2 1516.2,1359.6 1517.0,1357.3 1517.8,1359.3 1518.6,1356.8 1519.4,1357.6 1520.2,1356.1 1521.0,1357.2 1521.8,1354.7 1522.6,1356.0 1523.4,1354.1 1524.2,1355.4 1525.0,1353.4 1525.8,1355.5 1526.6,1353.1 1527.4,1356.2 1528.2,1353.5 1529.0,1355.8 1529.8,1355.1 1530.6,1357.4 1531.4,1355.2 1532.2,1357.3 1533.0,1355.6 1533.8,1358.4 1534.6,1356.5 1535.4,1358.3 1536.2,1357.0 1537.0,1359.4 1537.8,1357.1 1538.6,1359.6 1539.4,1357.2 1540.2,1358.8 1541.0,1356.5 1541.8,1358.4 1542.6,1356.5 1543.4,1358.1 1544.2,1356.0 1545.0,1357.5 1545.8,1355.6 1546.6,1357.7 1547.4,1355.2 1548.2,1356.9 1549.0,1356.2 1549.8,1358.0 1550.6,1355.9 1551.4,1358.4 1552.2,1356.4 1553.0,1358.0 1553.8,1356.6 1554.6,1358.2 1555.4,1356.8 1556.2,1358.6 1557.0,1357.0 1557.8,1358.4 1558.6,1356.4 1559.4,1358.0 1560.2,1355.9 1561.0,1357.3 1561.8,1355.9 1562.6,1357.2 1563.4,1354.8 1564.2,1356.5 1565.0,1354.2 1565.8,1355.5 1566.6,1353.8 1567.4,1355.5 1568.2,1353.1 1569.0,1354.3 1569.8,1352.7 1570.6,1355.4 1571.4,1352.7 1572.2,1355.5 1573.0,1353.1 1573.8,1355.5 1574.6,1353.2 1575.4,1354.6 1576.2,1352.9 1577.0,1355.5 1577.8,1352.5 1578.6,1354.3 1579.4,1351.7 1580.2,1353.4 1581.0,1351.1 1581.8,1352.8 1582.6,1351.2 1583.4,1352.3 1584.2,1350.8 1585.0,1352.6 1585.8,1351.9 1586.6,1353.8 1587.4,1354.1 1588.2,1355.6 1589.0,1356.1 1589.8,1358.0 1590.6,1357.5 1591.4,1359.3 1592.2,1358.8 1593.0,1360.7 1593.8,1360.2 1594.6,1361.6 1595.4,1360.9 1596.2,1362.8 1597.0,1361.8 1597.8,1363.5 1598.6,1361.8 1599.4,1363.7 1600.2,1362.2 1601.0,1364.4 1601.8,1363.0 1602.6,1365.5 1603.4,1363.5 1604.2,1365.0 1605.0,1363.7 1605.8,1364.9 1606.6,1362.9 1607.4,1365.6 1608.2,1362.5 1609.0,1364.4 1609.8,1362.3 1610.6,1364.6 1611.4,1361.7 1612.2,1364.0 1613.0,1361.4 1613.8,1362.9 1614.6,1361.3 1615.4,1363.1 1616.2,1360.6 1617.0,1362.6 1617.8,1360.6 1618.6,1363.3 1619.4,1361.2 1620.2,1363.1 1621.0,1361.3 1621.8,1363.1 1622.6,1361.5 1623.4,1363.2 1624.2,1361.1 1625.0,1363.3 1625.8,1361.6 1626.6,1363.5 1627.4,1361.8 1628.2,1362.7 1629.0,1361.0 1629.8,1363.1 1630.6,1360.4 1631.4,1362.5 1632.2,1360.1 1633.0,1361.5 1633.8,1360.0 1634.6,1360.9 1635.4,1359.6 1636.2,1360.9 1637.0,1358.8 1637.8,1360.9 1638.6,1359.1 1639.4,1361.4 1640.2,1360.7 1641.0,1362.4 1641.8,1362.7 1642.6,1364.6 1643.4,1364.6 1644.2,1366.2 1645.0,1366.0 1645.8,1368.4 1646.6,1368.2 1647.4,1370.5 1648.2,1369.6 1649.0,1371.9 1649.8,1371.1 1650.6,1372.8 1651.4,1372.9 1652.2,1374.5 1653.0,1374.0 1653.8,1376.6 1654.6,1375.0 1655.4,1377.6 1656.2,1376.7 1657.0,1378.3 1657.8,1376.7 1658.6,1378.2 1659.4,1375.8 1660.2,1377.6 1661.0,1374.7 1661.8,1376.1 1662.6,1373.9 1663.4,1375.0 1664.2,1372.4 1665.0,1373.2 1665.8,1371.0 1666.6,1373.0 1667.4,1370.4 1668.2,1371.9 1669.0,1369.3 1669.8,1371.0 1670.6,1369.3 1671.4,1371.4 1672.2,1369.0 1673.0,1371.3 1673.8,1368.9 1674.6,1371.3 1675.4,1368.7 1676.2,1371.2 1677.0,1369.0 1677.8,1371.8 1678.6,1370.0 1679.4,1371.6 1680.2,1370.0 1681.0,1372.3 1681.8,1370.3 1682.6,1372.7 1683.4,1371.1 1684.2,1374.0 1685.0,1372.6 1685.8,1374.2 1686.6,1372.5 1687.4,1374.5 1688.2,1372.9 1689.0,1374.6 1689.8,1374.3 1690.6,1376.0 1691.4,1375.6 1692.2,1377.3 1693.0,1377.0 1693.8,1378.1 1694.6,1376.9 1695.4,1378.3 1696.2,1377.2 1697.0,1379.2 1697.8,1377.6 1698.6,1379.9 1699.4,1378.2 1700.2,1379.9 1701.0,1377.8 1701.8,1380.9 1702.6,1378.6 1703.4,1380.6 1704.2,1378.4 1705.0,1379.2 1705.8,1377.7 1706.6,1378.6 1707.4,1376.8 1708.2,1378.0 1709.0,1376.6 1709.8,1378.8 1710.6,1376.3 1711.4,1379.1 1712.2,1376.5 1713.0,1378.9 1713.8,1376.7 1714.6,1378.8 1715.4,1378.5 1716.2,1380.5 1717.0,1378.9 1717.8,1380.1 1718.6,1379.0 1719.4,1381.1 1720.2,1378.9 1721.0,1381.0 1721.8,1378.5 1722.6,1380.6 1723.4,1378.2 1724.2,1380.3 1725.0,1378.4 1725.8,1379.8 1726.6,1377.8 1727.4,1379.5 1728.2,1377.3 1729.0,1379.3 1729.8,1376.7 1730.6,1378.1 1731.4,1375.1 1732.2,1376.5 1733.0,1374.5 1733.8,1374.9 1734.6,1372.7 1735.4,1373.6 1736.2,1371.9 1737.0,1372.7 1737.8,1370.4 1738.6,1372.7 1739.4,1371.0 1740.2,1372.9 1741.0,1371.3 1741.8,1373.3 1742.6,1371.5 1743.4,1373.7 1744.2,1372.1 1745.0,1374.5 1745.8,1373.4 1746.6,1375.7 1747.4,1374.4 1748.2,1377.1 1749.0,1375.5 1749.8,1377.5 1750.6,1376.4 1751.4,1378.6 1752.2,1377.1 1753.0,1379.9 1753.8,1378.1 1754.6,1380.2 1755.4,1378.8 1756.2,1381.4 1757.0,1379.3 1757.8,1381.7 1758.6,1379.6 1759.4,1381.4 1760.2,1380.0 1761.0,1382.0 1761.8,1380.2 1762.6,1381.9 1763.4,1380.5 1764.2,1382.5 1765.0,1381.2 1765.8,1383.6 1766.6,1382.4 1767.4,1384.6 1768.2,1382.5 1769.0,1384.7 1769.8,1382.6 1770.6,1385.4 1771.4,1383.0 1772.2,1385.2 1773.0,1382.4 1773.8,1384.2 1774.6,1382.4 1775.4,1384.0 1776.2,1382.0 1777.0,1383.6 1777.8,1382.3 1778.6,1384.1 1779.4,1382.5 1780.2,1384.3 1781.0,1382.0 1781.8,1385.0 1782.6,1383.6 1783.4,1385.0 1784.2,1383.6 1785.0,1385.8 1785.8,1385.4 1786.6,1387.2 1787.4,1387.8 1788.2,1390.3 1789.0,1388.2 1789.8,1389.3 1790.6,1387.6 1791.4,1388.6 1792.2,1386.1 1793.0,1386.3 1793.8,1383.9 1794.6,1384.2 1795.4,1381.9 1796.2,1382.9 1797.0,1380.9 1797.8,1381.1 1798.6,1379.3 1799.4,1380.9 1800.2,1378.7 1801.0,1379.6 1801.8,1377.8 1802.6,1379.4 1803.4,1376.8 1804.2,1377.7 1805.0,1376.1 1805.8,1377.5 1806.6,1375.6 1807.4,1377.9 1808.2,1375.8 1809.0,1377.6 1809.8,1376.1 1810.6,1378.0 1811.4,1376.7 1812.2,1378.6 1813.0,1377.0 1813.8,1379.0 1814.6,1377.4 1815.4,1379.2 1816.2,1377.2 1817.0,1378.8 1817.8,1376.9 1818.6,1378.0 1819.4,1377.2 1820.2,1377.7 1821.0,1375.7 1821.8,1377.1 1822.6,1374.8 1823.4,1376.8 1824.2,1374.3 1825.0,1376.1 1825.8,1373.7 1826.6,1375.8 1827.4,1373.7 1828.2,1376.7 1829.0,1373.7 1829.8,1375.7 1830.6,1374.2 1831.4,1376.7 1832.2,1373.6 1833.0,1375.5 1833.8,1374.1 1834.6,1375.9 1835.4,1373.2 1836.2,1374.7 1837.0,1372.7 1837.8,1374.9 1838.6,1372.4 1839.4,1374.3 1840.2,1371.8 1841.0,1373.6 1841.8,1372.1 1842.6,1374.0 1843.4,1374.0 1844.2,1375.9 1845.0,1376.5 1845.8,1378.6 1846.6,1378.8 1847.4,1380.6 1848.2,1380.0 1849.0,1382.1 1849.8,1380.7 1850.6,1382.7 1851.4,1381.9 1852.2,1384.8 1853.0,1382.3 1853.8,1384.3 1854.6,1383.0 1855.4,1385.2 1856.2,1383.4 1857.0,1385.6 1857.8,1384.4 1858.6,1386.5 1859.4,1384.6 1860.2,1386.1 1861.0,1383.5 1861.8,1385.5 1862.6,1382.8 1863.4,1384.2 1864.2,1381.7 1865.0,1383.6 1865.8,1381.4 1866.6,1382.1 1867.4,1380.0 1868.2,1381.1 1869.0,1379.0 1869.8,1379.7 1870.6,1377.6 1871.4,1378.2 1872.2,1376.0 1873.0,1377.1 1873.8,1375.0 1874.6,1377.3 1875.4,1375.5 1876.2,1376.8 1877.0,1375.1 1877.8,1376.8 1878.6,1374.6 1879.4,1375.2 1880.2,1373.6 1881.0,1374.2 1881.8,1372.5 1882.6,1373.6 1883.4,1371.7 1884.2,1373.1 1885.0,1370.3 1885.8,1371.9 1886.6,1369.7 1887.4,1371.1 1888.2,1368.9 1889.0,1369.9 1889.8,1368.5 1890.6,1370.8 1891.4,1368.8 1892.2,1370.2 1893.0,1368.8 1893.8,1371.2 1894.6,1368.9 1895.4,1371.6 1896.2,1369.2 1897.0,1371.3 1897.8,1369.6 1898.6,1371.9 1899.4,1370.1 1900.2,1371.8 1901.0,1371.2 1901.8,1372.8 1902.6,1372.1 1903.4,1373.3 1904.2,1372.8 1905.0,1374.7 1905.8,1372.3 1906.6,1375.1 1907.4,1372.6 1908.2,1374.6 1909.0,1372.2 1909.8,1374.1 1910.6,1372.5 1911.4,1374.2 1912.2,1372.9 1913.0,1375.0 1913.8,1372.5 1914.6,1374.2 1915.4,1372.7 1916.2,1374.5 1917.0,1373.0 1917.8,1375.2 1918.6,1373.1 1919.4,1375.5 1920.2,1374.1 1921.0,1376.6 1921.8,1374.1 1922.6,1376.8 1923.4,1374.8 1924.2,1376.8 1925.0,1375.9 1925.8,1377.7 1926.6,1376.1 1927.4,1378.3 1928.2,1376.8 1929.0,1378.6 1929.8,1378.2 1930.6,1380.0 1931.4,1378.4 1932.2,1380.8 1933.0,1379.2 1933.8,1380.8 1934.6,1379.0 1935.4,1380.5 1936.2,1378.6 1937.0,1379.9 1937.8,1378.5 1938.6,1379.1 1939.4,1377.1 1940.2,1378.6 1941.0,1376.1 1941.8,1378.1 1942.6,1375.6 1943.4,1377.3 1944.2,1375.3 1945.0,1377.0 1945.8,1375.6 1946.6,1377.4 1947.4,1375.5 1948.2,1376.6 1949.0,1375.1 1949.8,1376.6 1950.6,1374.8 1951.4,1377.0 1952.2,1374.6 1953.0,1376.2 1953.8,1374.6 1954.6,1376.3 1955.4,1374.6 1956.2,1375.2 1957.0,1373.9 1957.8,1375.5 1958.6,1373.4 1959.4,1375.6 1960.2,1373.3 1961.0,1374.7 1961.8,1373.1 1962.6,1374.9 1963.4,1373.4 1964.2,1373.5 1965.0,1371.2 1965.8,1371.5 1966.6,1369.7 1967.4,1370.3 1968.2,1368.1 1969.0,1368.7 1969.8,1366.6 1970.6,1367.8 1971.4,1366.8 1972.2,1368.2 1973.0,1366.4 1973.8,1369.5 1974.6,1368.1 1975.4,1369.9 1976.2,1368.6 1977.0,1370.1 1977.8,1369.5 1978.6,1370.9 1979.4,1370.9 1980.2,1372.4 1981.0,1371.3 1981.8,1373.7 1982.6,1373.2 1983.4,1374.5 1984.2,1373.7 1985.0,1375.2 1985.8,1373.6 1986.6,1375.1 1987.4,1374.9 1988.2,1376.8 1989.0,1375.6 1989.8,1377.6 1990.6,1376.1 1991.4,1379.2 1992.2,1377.1 1993.0,1379.4 1993.8,1377.4 1994.6,1380.1 1995.4,1378.5 1996.2,1380.2 1997.0,1378.7 1997.8,1380.5 1998.6,1380.0 1999.4,1381.4 2000.2,1380.4 2001.0,1382.9 2001.8,1381.2 2002.6,1382.8 2003.4,1381.8 2004.2,1383.9 2005.0,1383.2 2005.8,1384.7 2006.6,1383.1 2007.4,1385.6 2008.2,1384.2 2009.0,1385.7 2009.8,1384.8 2010.6,1386.8 2011.4,1384.9 2012.2,1386.0 2013.0,1384.9 2013.8,1387.3 2014.6,1384.6 2015.4,1387.4 2016.2,1384.4 2017.0,1385.7 2017.8,1384.1 2018.6,1385.5 2019.4,1383.7 2020.2,1384.7 2021.0,1383.3 2021.8,1384.1 2022.6,1382.6 2023.4,1383.7 2024.2,1382.1 2025.0,1384.3 2025.8,1382.3 2026.6,1384.5 2027.4,1382.9 2028.2,1385.2 2029.0,1383.8 2029.8,1385.8 2030.6,1384.5 2031.4,1386.2 2032.2,1384.8 2033.0,1386.5 2033.8,1385.6 2034.6,1387.5 2035.4,1385.8 2036.2,1388.8 2037.0,1386.1 2037.8,1388.7 2038.6,1387.2 2039.4,1388.9 2040.2,1388.1 2041.0,1389.2 2041.8,1387.0 2042.6,1389.8 2043.4,1386.7 2044.2,1388.3 2045.0,1386.2 2045.8,1388.0 2046.6,1386.0 2047.4,1387.8 2048.2,1384.9 2049.0,1387.3 2049.8,1385.7 2050.6,1386.4 2051.4,1384.5 2052.2,1386.7 2053.0,1384.9 2053.8,1386.3 2054.6,1384.4 2055.4,1386.7 2056.2,1385.8 2057.0,1388.1 2057.8,1385.6 2058.6,1388.0 2059.4,1386.9 2059.7,1389.0" stroke="#8E2A8E" />
<polyline points="228.0,61.0 228.1,64.0 228.2,68.0 228.4,72.0 228.5,76.0 228.7,80.0 228.8,84.0 229.0,88.0 229.1,92.0 229.3,96.0 229.4,100.0 229.6,104.0 229.8,108.0 229.9,112.0 230.1,116.0 230.3,120.0 230.4,124.0 230.6,128.0 230.8,132.0 230.9,136.0 231.1,140.0 231.3,143.9 231.5,147.9 231.6,151.9 231.8,155.9 232.0,159.9 232.2,163.9 232.4,167.9 232.6,171.9 232.8,175.9 232.9,179.9 233.1,183.9 233.3,187.9 233.5,191.9 233.7,195.9 233.9,199.9 234.1,203.9 234.3,207.9 234.5,211.9 234.7,215.9 234.9,219.9 235.1,223.9 235.4,227.9 235.6,231.8 235.8,235.8 236.0,239.8 236.2,243.8 236.4,247.8 236.6,251.8 236.8,255.8 237.1,259.8 237.3,263.8 237.5,267.8 237.7,271.8 237.9,275.8 238.2,279.8 238.4,283.8 238.6,287.8 238.8,291.8 239.1,295.7 239.3,299.7 239.5,303.7 239.7,307.7 240.0,311.7 240.2,315.7 240.4,319.7 240.7,323.7 240.9,327.7 241.1,331.7 241.4,335.7 241.6,339.7 241.8,343.7 242.1,347.7 242.3,351.6 242.6,355.6 242.9,359.6 243.2,363.6 243.4,367.6 243.7,371.6 244.0,375.6 244.3,379.6 244.6,383.6 244.9,387.6 245.2,391.5 245.5,395.5 245.8,399.5 246.1,403.5 246.4,407.5 246.7,411.5 247.0,415.5 247.3,419.5 247.6,423.5 247.9,427.4 248.2,431.4 248.5,435.4 248.8,439.4 249.1,443.4 249.4,447.4 249.7,451.4 250.0,455.4 250.2,459.4 250.5,463.4 250.7,467.3 251.0,471.3 251.2,475.3 251.5,479.3 251.7,483.3 251.9,487.3 252.1,491.3 252.3,495.3 252.5,499.3 252.7,503.3 252.9,507.3 253.1,511.3 253.3,515.3 253.5,519.3 253.7,523.3 253.9,527.3 254.0,531.3 254.2,535.3 254.4,539.2 254.6,543.2 254.8,547.2 255.0,551.2 255.1,555.2 255.3,559.2 255.5,563.2 255.7,567.2 255.8,571.2 256.0,575.2 256.1,579.2 256.3,583.2 256.5,587.2 256.6,591.2 256.8,595.2 257.0,599.2 257.2,603.2 257.3,607.2 257.5,611.2 257.7,615.2 257.9,619.2 258.1,623.2 258.3,627.2 258.5,631.2 258.7,635.2 258.9,639.1 259.1,643.1 259.3,647.1 259.5,651.1 259.7,655.1 259.9,659.1 260.1,663.1 260.4,667.1 260.6,671.1 260.8,675.1 261.1,679.1 261.3,683.1 261.5,687.1 261.8,691.1 262.0,695.1 262.3,699.1 262.6,703.0 262.8,707.0 263.1,711.0 263.4,715.0 263.7,719.0 264.0,723.0 264.3,727.0 264.6,731.0 265.0,734.9 265.3,738.9 265.7,742.9 266.1,746.9 266.5,750.9 266.9,754.9 267.3,758.8 267.7,762.8 268.1,766.8 268.6,770.8 269.0,774.8 269.4,778.7 269.9,782.7 270.3,786.7 270.7,790.7 271.2,794.6 271.7,798.6 272.2,802.6 272.7,806.5 273.1,810.5 273.6,814.5 274.1,818.5 274.6,822.4 275.1,826.4 275.5,830.4 276.0,834.3 276.4,838.3 276.8,842.3 277.3,846.3 277.7,850.3 278.1,854.2 278.5,858.2 278.9,862.2 279.4,866.2 279.8,870.1 280.3,874.1 280.8,878.1 281.4,882.0 282.0,886.0 282.5,889.9 283.2,893.9 283.8,897.9 284.4,901.8 285.1,905.8 285.7,909.7 286.3,913.7 287.0,917.6 287.6,921.6 288.2,925.5 288.7,929.5 289.3,933.4 289.9,937.4 290.5,941.4 291.1,945.3 291.8,949.2 292.8,951.9 293.6,954.0 294.4,957.3 295.2,960.5 296.0,964.4 296.8,968.3 297.6,973.6 298.4,979.2 299.2,984.7 300.0,990.1 300.8,995.6 301.6,1000.6 302.4,1005.6 303.2,1010.5 304.0,1015.1 304.8,1018.5 305.6,1021.3 306.4,1023.0 307.2,1025.2 308.0,1026.2 308.8,1028.3 309.6,1028.9 310.4,1030.8 311.2,1031.5 312.0,1033.7 312.8,1035.0 313.6,1037.6 314.4,1040.1 315.2,1043.5 316.0,1046.9 316.8,1050.7 317.6,1054.1 318.4,1057.5 319.2,1060.0 320.0,1062.4 320.8,1063.8 321.6,1066.0 322.4,1067.0 323.2,1069.4 324.0,1070.1 324.8,1072.1 325.6,1073.2 326.4,1075.3 327.2,1076.8 328.0,1079.1 328.8,1080.8 329.6,1082.9 330.4,1084.6 331.2,1087.1 332.0,1088.9 332.8,1091.3 333.6,1093.0 334.4,1095.5 335.2,1097.3 336.0,1099.8 336.8,1101.4 337.6,1103.8 338.4,1105.7 339.2,1108.1 340.0,1110.0 340.8,1112.4 341.6,1114.2 342.4,1116.8 343.2,1118.6 344.0,1121.1 344.8,1122.8 345.6,1125.3" stroke="#58AC1A" />
<polyline points="364.0,1159.6 364.8,1161.2 365.6,1161.1 366.4,1163.0 367.2,1162.9 368.0,1164.9 368.8,1164.5 369.6,1166.8 370.4,1166.1 371.2,1168.3 372.0,1168.0 372.8,1169.6 373.6,1169.5" stroke="#58AC1A" />
<polyline points="389.6,1185.8 390.4,1187.8 391.2,1187.1 392.0,1189.0 392.8,1188.5 393.6,1190.0 394.4,1189.4 395.2,1191.7 396.0,1191.1 396.8,1193.1 397.6,1192.4 398.4,1194.4 399.2,1194.1 400.0,1195.6 400.8,1195.2 401.6,1197.1 402.4,1196.8 403.2,1199.2 404.0,1198.6 404.8,1201.0 405.6,1200.0 406.4,1203.0 407.2,1202.6 408.0,1205.1 408.8,1204.8 409.6,1206.8" stroke="#58AC1A" />
<polyline points="425.6,1216.3 426.4,1215.3 427.2,1217.2 428.0,1216.9 428.8,1218.7 429.6,1218.9 430.4,1219.9 431.2,1220.1 432.0,1221.5 432.8,1221.8 433.6,1223.3 434.4,1223.4 435.2,1224.7 436.0,1224.5 436.8,1226.1 437.6,1225.6 438.4,1227.1 439.2,1225.4 440.0,1227.6 440.8,1226.1 441.6,1228.6" stroke="#58AC1A" />
<polyline points="465.6,1233.8 466.4,1232.0 467.2,1234.6 468.0,1232.3 468.8,1235.8 469.6,1233.4 470.4,1236.2 471.2,1234.9 472.0,1237.5 472.8,1235.9 473.6,1238.2 474.4,1236.7 475.2,1238.3 476.0,1236.8 476.8,1239.0 477.6,1236.7 478.4,1238.4 479.2,1237.1 480.0,1239.6" stroke="#58AC1A" />
<polyline points="500.8,1250.3 501.6,1249.3 502.4,1251.7 503.2,1250.1 504.0,1252.7 504.8,1250.6 505.6,1252.8 506.4,1251.6 507.2,1254.1 508.0,1252.2 508.8,1254.2 509.6,1253.1" stroke="#58AC1A" />
<polyline points="536.0,1261.1 536.8,1259.1 537.6,1260.7 538.4,1258.8 539.2,1260.4 540.0,1258.7 540.8,1261.1 541.6,1259.0 542.4,1261.4 543.2,1260.3 544.0,1262.2 544.8,1261.2 545.6,1263.1 546.4,1262.1 547.2,1264.2 548.0,1262.4 548.8,1264.4 549.6,1262.8 550.4,1264.2 551.2,1263.1 552.0,1265.2 552.8,1264.0 553.6,1265.5" stroke="#58AC1A" />
<polyline points="572.0,1273.7 572.8,1273.8 573.6,1271.4 574.4,1273.0 575.2,1271.0 576.0,1271.5 576.8,1269.3 577.6,1270.2 578.4,1268.0 579.2,1269.2 580.0,1267.0 580.8,1268.6 581.6,1266.8 582.4,1269.5 583.2,1266.9 584.0,1269.0 584.8,1267.9 585.6,1269.1 586.4,1267.2 587.2,1270.0 588.0,1267.7" stroke="#58AC1A" />
<polyline points="604.0,1288.0 604.8,1290.6 605.6,1289.3 606.4,1291.5 607.2,1289.7 608.0,1292.1 608.8,1290.1 609.6,1292.7 610.4,1290.1 611.2,1293.0 612.0,1291.7 612.8,1293.3 613.6,1292.1 614.4,1293.6 615.2,1293.1 616.0,1294.8 616.8,1294.5 617.6,1296.4" stroke="#58AC1A" />
<polyline points="632.8,1299.0 633.6,1301.3 634.4,1299.1 635.2,1301.8 636.0,1300.2 636.8,1302.3 637.6,1300.6 638.4,1302.4" stroke="#58AC1A" />
<polyline points="661.6,1298.1 662.4,1299.8 663.2,1298.4 664.0,1300.3 664.8,1297.8 665.6,1300.1 666.4,1298.4 667.2,1301.0 668.0,1298.8 668.8,1301.2 669.6,1298.8 670.4,1300.6 671.2,1300.0 672.0,1302.4 672.8,1299.9 673.6,1302.0" stroke="#58AC1A" />
<polyline points="693.6,1301.4 694.4,1303.2 695.2,1300.9 696.0,1303.2 696.8,1301.5 697.6,1303.2 698.4,1301.1 699.2,1303.1 700.0,1300.8 700.8,1302.8 701.6,1300.3 702.4,1302.8 703.2,1301.2 704.0,1302.8 704.8,1300.8 705.6,1303.5 706.4,1301.5 707.2,1303.7 708.0,1302.1" stroke="#58AC1A" />
<polyline points="724.8,1312.8 725.6,1313.8 726.4,1315.6 727.2,1316.5 728.0,1318.0 728.8,1318.1 729.6,1320.0 730.4,1318.4 731.2,1320.3 732.0,1318.5 732.8,1320.9 733.6,1318.8 734.4,1321.7 735.2,1320.1 736.0,1322.3 736.8,1320.2 737.6,1322.7 738.4,1320.5 739.2,1322.6" stroke="#58AC1A" />
<polyline points="760.8,1324.1 761.6,1325.4 762.4,1324.0 763.2,1326.2 764.0,1323.0 764.8,1325.2 765.6,1322.6" stroke="#58AC1A" />
<polyline points="784.8,1305.0 785.6,1306.0 786.4,1303.9 787.2,1305.7 788.0,1303.5 788.8,1305.2 789.6,1303.2 790.4,1305.1 791.2,1302.8 792.0,1304.5 792.8,1302.5 793.6,1304.6 794.4,1302.6" stroke="#58AC1A" />
<polyline points="809.6,1305.0 810.4,1303.2 811.2,1305.4 812.0,1303.2 812.8,1305.8 813.6,1303.5 814.4,1305.4 815.2,1304.2 816.0,1305.9 816.8,1303.6 817.6,1306.1 818.4,1303.9 819.2,1305.1 820.0,1303.4 820.8,1305.0 821.6,1302.7 822.4,1305.7 823.2,1303.7 824.0,1304.8" stroke="#58AC1A" />
<polyline points="838.4,1311.2 839.2,1310.1 840.0,1311.4 840.8,1309.8 841.6,1311.9 842.4,1310.7 843.2,1312.4 844.0,1311.2 844.8,1312.7 845.6,1311.6 846.4,1314.1 847.2,1312.4 848.0,1314.1 848.8,1313.3 849.6,1315.1 850.4,1314.3 851.2,1315.8 852.0,1314.8 852.8,1316.3 853.6,1314.2 854.4,1315.8 855.2,1313.7 856.0,1315.7" stroke="#58AC1A" />
<polyline points="870.4,1313.7 871.2,1311.4 872.0,1314.2 872.8,1311.4 873.6,1314.1 874.4,1312.6 875.2,1313.8 876.0,1313.5 876.8,1315.8 877.6,1314.9 878.4,1316.6 879.2,1316.0 880.0,1317.7 880.8,1316.6 881.6,1319.0 882.4,1317.5 883.2,1320.0 884.0,1317.6 884.8,1319.3 885.6,1316.8" stroke="#58AC1A" />
<polyline points="896.8,1304.0 897.6,1304.4 898.4,1302.6 899.2,1303.5 900.0,1301.4 900.8,1303.0 901.6,1301.3 902.4,1302.8 903.2,1301.3 904.0,1302.2 904.8,1301.0 905.6,1302.9 906.4,1301.1 907.2,1302.5 908.0,1300.0 908.8,1302.1 909.6,1300.7 910.4,1302.1" stroke="#58AC1A" />
<polyline points="923.2,1307.4 924.0,1305.4 924.8,1307.6 925.6,1305.8 926.4,1308.2 927.2,1306.3 928.0,1308.2 928.8,1306.2 929.6,1308.4 930.4,1306.8 931.2,1307.9 932.0,1307.7 932.8,1309.6 933.6,1308.0 934.4,1310.1 935.2,1308.7 936.0,1311.0 936.8,1309.0" stroke="#58AC1A" />
<polyline points="948.8,1318.5 949.6,1316.6 950.4,1319.5 951.2,1318.1 952.0,1320.4 952.8,1319.5 953.6,1320.9 954.4,1319.4 955.2,1322.1 956.0,1320.1 956.8,1322.4 957.6,1320.8 958.4,1322.7 959.2,1320.6 960.0,1323.0 960.8,1321.0 961.6,1321.8 962.4,1319.6 963.2,1321.6" stroke="#58AC1A" />
<polyline points="975.2,1315.8 976.0,1317.6 976.8,1314.8 977.6,1317.1 978.4,1314.7 979.2,1316.1 980.0,1314.9 980.8,1316.2 981.6,1314.5 982.4,1317.1 983.2,1315.4 984.0,1317.9 984.8,1316.5 985.6,1318.8 986.4,1317.8 987.2,1319.8 988.0,1318.8 988.8,1320.9 989.6,1319.2 990.4,1321.7 991.2,1320.5 992.0,1322.4" stroke="#58AC1A" />
<polyline points="1004.0,1323.5 1004.8,1324.9 1005.6,1322.4 1006.4,1323.9 1007.2,1320.7 1008.0,1322.3 1008.8,1320.6 1009.6,1321.3 1010.4,1319.4 1011.2,1320.4 1012.0,1317.1 1012.8,1318.5 1013.6,1316.9 1014.4,1316.9 1015.2,1314.9 1016.0,1316.0 1016.8,1313.7 1017.6,1315.3 1018.4,1313.3 1019.2,1315.6 1020.0,1313.3" stroke="#58AC1A" />
<polyline points="1033.6,1318.6 1034.4,1316.6 1035.2,1318.2 1036.0,1316.7 1036.8,1318.7 1037.6,1316.2 1038.4,1317.3 1039.2,1315.9 1040.0,1316.7 1040.8,1314.3 1041.6,1315.6 1042.4,1312.9 1043.2,1314.3 1044.0,1312.6 1044.8,1312.4 1045.6,1311.1 1046.4,1312.1 1047.2,1310.0 1048.0,1311.6 1048.8,1310.1 1049.6,1311.9 1050.4,1309.7 1051.2,1311.6" stroke="#58AC1A" />
<polyline points="1063.2,1310.5 1064.0,1312.0 1064.8,1309.8 1065.6,1311.7 1066.4,1309.7 1067.2,1311.5 1068.0,1309.0 1068.8,1310.6 1069.6,1308.4 1070.4,1310.7 1071.2,1307.2 1072.0,1309.3 1072.8,1307.7 1073.6,1309.5 1074.4,1307.9 1075.2,1309.9 1076.0,1308.3 1076.8,1309.5 1077.6,1308.2 1078.4,1310.2 1079.2,1308.9 1080.0,1310.9" stroke="#58AC1A" />
<polyline points="1091.2,1312.3 1092.0,1310.6 1092.8,1312.6 1093.6,1310.5 1094.4,1312.5 1095.2,1310.1 1096.0,1311.7 1096.8,1309.3 1097.6,1311.7 1098.4,1309.2 1099.2,1311.0 1100.0,1309.4 1100.8,1311.2 1101.6,1309.4 1102.4,1310.8 1103.2,1309.3 1104.0,1310.9 1104.8,1308.6 1105.6,1310.2 1106.4,1307.9 1107.2,1309.3" stroke="#58AC1A" />
<polyline points="1120.8,1300.4 1121.6,1302.7 1122.4,1300.8 1123.2,1302.1 1124.0,1300.3 1124.8,1301.1 1125.6,1299.1 1126.4,1301.1 1127.2,1299.1 1128.0,1300.9 1128.8,1299.1 1129.6,1300.6 1130.4,1298.6 1131.2,1301.0 1132.0,1300.4 1132.8,1302.5 1133.6,1302.8 1134.4,1304.5 1135.2,1304.7 1136.0,1306.6 1136.8,1306.7 1137.6,1308.5 1138.4,1308.0 1139.2,1310.1" stroke="#58AC1A" />
<polyline points="1146.5,133.2 1146.8,137.2 1147.0,141.2 1147.2,145.2 1147.5,149.2 1147.7,153.2 1147.9,157.1 1148.2,161.1 1148.4,165.1 1148.6,169.1 1148.9,173.1 1149.1,177.1 1149.3,181.1 1149.5,185.1 1149.8,189.1 1150.0,193.1 1150.2,197.1 1150.5,201.1 1150.7,205.1 1150.9,209.1 1151.2,213.1 1151.4,217.0 1151.6,221.0 1151.8,225.0 1152.1,229.0 1152.3,233.0 1152.5,237.0 1152.8,241.0 1153.0,245.0 1153.2,249.0 1153.4,253.0 1153.7,257.0 1153.9,261.0 1154.1,265.0 1154.4,269.0 1154.6,273.0 1154.8,276.9 1155.0,280.9 1155.3,284.9 1155.5,288.9 1155.7,292.9 1155.9,296.9 1156.2,300.9 1156.4,304.9 1156.6,308.9 1156.9,312.9 1157.1,316.9 1157.3,320.9 1157.5,324.9 1157.8,328.9 1158.0,332.9 1158.2,336.9 1158.4,340.8 1158.7,344.8 1158.9,348.8 1159.1,352.8 1159.3,356.8 1159.6,360.8 1159.8,364.8 1160.0,368.8 1160.2,372.8 1160.5,376.8 1160.7,380.8 1160.9,384.8 1161.1,388.8 1161.3,392.8 1161.6,396.8 1161.8,400.7 1162.0,404.7 1162.2,408.7 1162.5,412.7 1162.7,416.7 1162.9,420.7 1163.1,424.7 1163.4,428.7 1163.6,432.7 1163.8,436.7 1164.0,440.7 1164.2,444.7 1164.4,448.7 1164.7,452.7 1164.9,456.7 1165.1,460.7 1165.3,464.7 1165.5,468.6 1165.7,472.6 1165.9,476.6 1166.1,480.6 1166.4,484.6 1166.6,488.6 1166.8,492.6 1167.0,496.6 1167.2,500.6 1167.4,504.6 1167.6,508.6 1167.8,512.6 1168.0,516.6 1168.3,520.6 1168.5,524.6 1168.7,528.6 1168.9,532.6 1169.1,536.6 1169.3,540.5 1169.6,544.5 1169.8,548.5 1170.0,552.5 1170.2,556.5 1170.5,560.5 1170.7,564.5 1170.9,568.5 1171.2,572.5 1171.4,576.5 1171.6,580.5 1171.9,584.5 1172.1,588.5 1172.4,592.5 1172.6,596.5 1172.9,600.4 1173.1,604.4 1173.4,608.4 1173.6,612.4 1173.9,616.4 1174.1,620.4 1174.4,624.4 1174.7,628.4 1174.9,632.4 1175.2,636.4 1175.5,640.4 1175.7,644.3 1176.0,648.3 1176.3,652.3 1176.5,656.3 1176.8,660.3 1177.1,664.3 1177.3,668.3 1177.6,672.3 1177.9,676.3 1178.1,680.3 1178.4,684.3 1178.7,688.3 1178.9,692.2 1179.2,696.2 1179.4,700.2 1179.7,704.2 1179.9,708.2 1180.2,712.2 1180.4,716.2 1180.7,720.2 1181.0,724.2 1181.2,728.2 1181.5,732.2 1181.7,736.2 1182.0,740.1 1182.3,744.1 1182.5,748.1 1182.8,752.1 1183.1,756.1 1183.4,760.1 1183.7,764.1 1184.0,768.1 1184.3,772.1 1184.6,776.1 1184.9,780.0 1185.2,784.0 1185.5,788.0 1185.8,792.0 1186.1,796.0 1186.4,800.0 1186.8,804.0 1187.1,808.0 1187.4,811.9 1187.8,815.9 1188.2,819.9 1188.6,823.9 1189.0,827.9 1189.5,831.8 1189.9,835.8 1190.4,839.8 1190.9,843.7 1191.5,847.7 1192.0,851.7 1192.6,855.6 1193.2,859.6 1193.7,863.6 1194.3,867.5 1195.0,871.5 1195.6,875.4 1196.2,879.4 1196.9,883.3 1197.6,887.2 1198.3,891.2 1199.0,895.1 1199.8,899.0 1200.5,903.0 1201.3,906.9 1202.0,910.8 1202.8,914.8 1203.5,918.7 1204.2,922.6 1204.9,926.6 1205.6,930.5 1206.3,934.5 1206.9,938.4 1207.6,942.3 1208.3,946.3 1209.8,954.4 1210.6,958.5 1211.4,962.8 1212.2,966.7 1213.0,970.8 1213.8,974.5 1214.6,978.4 1215.4,981.8 1216.2,985.4 1217.0,988.6 1217.8,992.0 1218.6,995.0 1219.4,998.3 1220.2,1001.2 1221.0,1004.3 1221.8,1007.3 1222.6,1010.5 1223.4,1013.2 1224.2,1016.2 1225.0,1018.8 1225.8,1021.8 1226.6,1024.4 1227.4,1027.4 1228.2,1030.3 1229.0,1033.6 1229.8,1036.6 1230.6,1040.3 1231.4,1044.2 1232.2,1048.6 1233.0,1053.0 1233.8,1057.4 1234.6,1061.4 1235.4,1065.1 1236.2,1068.0 1237.0,1070.7 1237.8,1072.9 1238.6,1075.6 1239.4,1077.4 1240.2,1079.8 1241.0,1081.4 1241.8,1083.8 1242.6,1085.4 1243.4,1087.5 1244.2,1089.0 1245.0,1091.4 1245.8,1092.9 1246.6,1095.2 1247.4,1096.3 1248.2,1098.7 1249.0,1099.8 1249.8,1102.1 1250.6,1103.6 1251.4,1105.9 1252.2,1107.7 1253.0,1110.3 1253.8,1112.6 1254.6,1115.8 1255.4,1118.8 1256.2,1122.3 1257.0,1125.4 1257.8,1128.6 1258.6,1131.1 1259.4,1133.6 1260.2,1135.5 1261.0,1137.9 1261.8,1139.5 1262.6,1141.7 1263.4,1143.0 1264.2,1145.2 1265.0,1146.5 1265.8,1148.5 1266.6,1149.7 1267.4,1152.0 1268.2,1153.3 1269.0,1155.4 1269.8,1156.5 1270.6,1158.9 1271.4,1160.1" stroke="#58AC1A" />
<polyline points="1285.8,1188.8 1286.6,1190.9 1287.4,1191.7 1288.2,1193.8 1289.0,1194.4 1289.8,1196.3 1290.6,1197.0" stroke="#58AC1A" />
<polyline points="1305.8,1217.9 1306.6,1216.7 1307.4,1218.9 1308.2,1219.0 1309.0,1220.9 1309.8,1219.9 1310.6,1221.9 1311.4,1221.3 1312.2,1224.0 1313.0,1222.6 1313.8,1224.2 1314.6,1223.6 1315.4,1225.3 1316.2,1224.9 1317.0,1226.5 1317.8,1225.9 1318.6,1227.6 1319.4,1227.3" stroke="#58AC1A" />
<polyline points="1338.6,1242.8 1339.4,1244.2 1340.2,1242.9 1341.0,1244.4 1341.8,1242.6 1342.6,1245.7 1343.4,1243.2 1344.2,1244.5 1345.0,1243.2 1345.8,1244.9 1346.6,1242.5 1347.4,1244.6 1348.2,1241.8 1349.0,1243.7 1349.8,1241.3 1350.6,1243.6 1351.4,1240.9 1352.2,1243.0 1353.0,1241.2 1353.8,1242.8 1354.6,1241.0 1355.4,1243.4 1356.2,1240.5 1357.0,1243.3" stroke="#58AC1A" />
<polyline points="1374.6,1248.5 1375.4,1246.9 1376.2,1248.7 1377.0,1247.1 1377.8,1248.0 1378.6,1247.0 1379.4,1248.8 1380.2,1246.6 1381.0,1248.8 1381.8,1246.9 1382.6,1248.6 1383.4,1247.0 1384.2,1249.5 1385.0,1246.8 1385.8,1249.2 1386.6,1246.7 1387.4,1249.4 1388.2,1247.9 1389.0,1249.9 1389.8,1248.2 1390.6,1250.1 1391.4,1249.1 1392.2,1250.9" stroke="#58AC1A" />
<polyline points="1409.0,1259.2 1409.8,1261.5 1410.6,1260.8 1411.4,1262.3 1412.2,1261.3 1413.0,1263.7 1413.8,1262.5 1414.6,1264.6 1415.4,1264.2 1416.2,1266.0 1417.0,1265.2 1417.8,1266.6 1418.6,1266.1 1419.4,1268.5 1420.2,1266.8 1421.0,1269.4 1421.8,1268.5 1422.6,1269.9 1423.4,1270.0 1424.2,1271.7" stroke="#58AC1A" />
<polyline points="1441.0,1277.5 1441.8,1280.0 1442.6,1277.6 1443.4,1280.9 1444.2,1278.7 1445.0,1280.3 1445.8,1278.7 1446.6,1281.3 1447.4,1279.7 1448.2,1281.3 1449.0,1279.9 1449.8,1281.9 1450.6,1280.3 1451.4,1282.7 1452.2,1281.2 1453.0,1283.0 1453.8,1281.3 1454.6,1284.3 1455.4,1282.7 1456.2,1284.6" stroke="#58AC1A" />
<polyline points="1471.4,1294.6 1472.2,1297.4 1473.0,1296.0 1473.8,1298.2 1474.6,1296.9 1475.4,1299.4 1476.2,1298.2 1477.0,1299.9 1477.8,1298.7 1478.6,1300.5 1479.4,1298.5 1480.2,1300.9 1481.0,1299.3 1481.8,1301.3 1482.6,1299.5 1483.4,1301.0 1484.2,1299.1 1485.0,1301.2 1485.8,1299.4 1486.6,1301.2" stroke="#58AC1A" />
<polyline points="1502.6,1300.1 1503.4,1298.0 1504.2,1299.1 1505.0,1297.4 1505.8,1298.3 1506.6,1296.3 1507.4,1297.6 1508.2,1294.9 1509.0,1297.2 1509.8,1294.6 1510.6,1296.1 1511.4,1293.9 1512.2,1295.5 1513.0,1293.8 1513.8,1295.8 1514.6,1294.0 1515.4,1295.9 1516.2,1294.4" stroke="#58AC1A" />
<polyline points="1533.8,1295.9 1534.6,1297.6 1535.4,1296.0 1536.2,1297.5 1537.0,1296.0 1537.8,1297.9 1538.6,1295.7 1539.4,1297.5 1540.2,1295.5 1541.0,1297.8 1541.8,1296.6 1542.6,1298.4 1543.4,1297.5 1544.2,1299.7 1545.0,1298.6 1545.8,1300.6 1546.6,1300.2 1547.4,1302.0 1548.2,1301.5" stroke="#58AC1A" />
<polyline points="1565.8,1315.9 1566.6,1318.3 1567.4,1317.3 1568.2,1317.8 1569.0,1315.9 1569.8,1318.3 1570.6,1316.2 1571.4,1317.1 1572.2,1315.7 1573.0,1317.6 1573.8,1315.1 1574.6,1317.8" stroke="#58AC1A" />
<polyline points="1593.0,1327.6 1593.8,1330.2 1594.6,1326.8 1595.4,1329.7 1596.2,1326.7 1597.0,1328.2 1597.8,1326.1 1598.6,1328.0 1599.4,1325.5 1600.2,1327.2 1601.0,1325.4 1601.8,1327.7 1602.6,1325.4 1603.4,1327.4 1604.2,1324.7 1605.0,1326.3 1605.8,1324.3 1606.6,1325.9" stroke="#58AC1A" />
<polyline points="1621.0,1327.1 1621.8,1324.9 1622.6,1327.8 1623.4,1326.0 1624.2,1328.3 1625.0,1328.0 1625.8,1329.2 1626.6,1327.7 1627.4,1330.6 1628.2,1328.5 1629.0,1330.7 1629.8,1328.8 1630.6,1331.0 1631.4,1329.0 1632.2,1330.5 1633.0,1328.9 1633.8,1330.2 1634.6,1328.8 1635.4,1330.6 1636.2,1329.4" stroke="#58AC1A" />
<polyline points="1646.6,1336.6 1647.4,1334.4 1648.2,1336.9 1649.0,1335.1 1649.8,1336.6 1650.6,1335.2 1651.4,1336.3 1652.2,1334.6 1653.0,1336.4 1653.8,1335.2 1654.6,1335.1" stroke="#58AC1A" />
<polyline points="1669.0,1328.1 1669.8,1326.9 1670.6,1327.3 1671.4,1325.3" stroke="#58AC1A" />
<polyline points="1682.6,1323.2 1683.4,1325.3 1684.2,1323.0 1685.0,1324.2 1685.8,1322.4 1686.6,1324.6 1687.4,1321.8 1688.2,1323.5 1689.0,1320.4 1689.8,1321.5 1690.6,1319.3 1691.4,1321.5 1692.2,1318.3 1693.0,1319.9 1693.8,1318.3 1694.6,1319.4" stroke="#58AC1A" />
<polyline points="1705.0,1316.9 1705.8,1318.9 1706.6,1317.1 1707.4,1319.1 1708.2,1317.2 1709.0,1318.8 1709.8,1317.8 1710.6,1319.4 1711.4,1319.0 1712.2,1320.5 1713.0,1319.3 1713.8,1320.9 1714.6,1320.2 1715.4,1322.4 1716.2,1320.1" stroke="#58AC1A" />
<polyline points="1730.6,1325.8 1731.4,1327.9 1732.2,1326.5 1733.0,1329.2 1733.8,1327.1 1734.6,1329.1 1735.4,1328.7 1736.2,1329.2 1737.0,1327.7 1737.8,1330.1 1738.6,1327.6 1739.4,1329.9 1740.2,1327.8 1741.0,1329.5" stroke="#58AC1A" />
<polyline points="1755.4,1328.5 1756.2,1325.8 1757.0,1327.0 1757.8,1325.8 1758.6,1327.2 1759.4,1324.9 1760.2,1325.9 1761.0,1324.2 1761.8,1326.2 1762.6,1323.8 1763.4,1326.6 1764.2,1323.4 1765.0,1326.4 1765.8,1323.7 1766.6,1325.9" stroke="#58AC1A" />
<polyline points="1781.0,1330.3 1781.8,1328.0 1782.6,1330.3 1783.4,1328.1 1784.2,1330.8 1785.0,1328.6 1785.8,1331.6 1786.6,1330.3" stroke="#58AC1A" />
<polyline points="1797.0,1337.3 1797.8,1335.7 1798.6,1337.6 1799.4,1335.7 1800.2,1336.5 1801.0,1333.7 1801.8,1335.6 1802.6,1333.2 1803.4,1334.6 1804.2,1332.6" stroke="#58AC1A" />
<polyline points="1818.6,1332.5 1819.4,1334.6 1820.2,1331.7 1821.0,1334.0 1821.8,1332.1 1822.6,1333.7 1823.4,1331.3 1824.2,1333.3 1825.0,1331.6 1825.8,1332.0 1826.6,1331.0" stroke="#58AC1A" />
<polyline points="1839.4,1330.4 1840.2,1333.0 1841.0,1331.9 1841.8,1334.0 1842.6,1333.6 1843.4,1335.6 1844.2,1335.0 1845.0,1336.7 1845.8,1336.0 1846.6,1338.5 1847.4,1337.5 1848.2,1339.9 1849.0,1339.2 1849.8,1341.5 1850.6,1340.7 1851.4,1342.7 1852.2,1341.5 1853.0,1344.0 1853.8,1343.0 1854.6,1345.4 1855.4,1344.4 1856.2,1347.1" stroke="#58AC1A" />
<polyline points="1866.6,1363.4 1867.4,1365.5 1868.2,1363.2 1869.0,1365.4 1869.8,1362.3 1870.6,1363.4 1871.4,1361.0 1872.2,1361.6 1873.0,1359.0 1873.8,1360.2 1874.6,1357.9 1875.4,1358.2 1876.2,1356.7 1877.0,1356.6 1877.8,1354.4 1878.6,1354.6" stroke="#58AC1A" />
<polyline points="1889.8,1343.9 1890.6,1341.4 1891.4,1343.0 1892.2,1341.5 1893.0,1343.1 1893.8,1340.7 1894.6,1342.5 1895.4,1340.8 1896.2,1342.7 1897.0,1340.0 1897.8,1342.8 1898.6,1340.0 1899.4,1342.8 1900.2,1340.4 1901.0,1342.0 1901.8,1340.2 1902.6,1341.5 1903.4,1339.7 1904.2,1341.6" stroke="#58AC1A" />
<polyline points="1913.8,1333.4 1914.6,1330.6 1915.4,1332.2 1916.2,1330.2 1917.0,1331.3 1917.8,1330.0 1918.6,1332.0 1919.4,1330.2 1920.2,1331.4 1921.0,1329.6 1921.8,1331.3 1922.6,1329.6 1923.4,1331.5 1924.2,1329.8 1925.0,1331.5 1925.8,1329.1 1926.6,1331.6 1927.4,1329.6 1928.2,1330.9" stroke="#58AC1A" />
<polyline points="1940.2,1327.4 1941.0,1330.5 1941.8,1327.8 1942.6,1330.1 1943.4,1327.6 1944.2,1329.3 1945.0,1327.2 1945.8,1329.2 1946.6,1327.3 1947.4,1328.7 1948.2,1326.4 1949.0,1328.4 1949.8,1326.4 1950.6,1329.1 1951.4,1326.7 1952.2,1329.7 1953.0,1327.7 1953.8,1329.9 1954.6,1329.0 1955.4,1330.9 1956.2,1330.4" stroke="#58AC1A" />
<polyline points="1966.6,1348.9 1967.4,1346.7 1968.2,1348.4 1969.0,1347.3 1969.8,1348.6 1970.6,1347.2 1971.4,1349.2 1972.2,1346.7 1973.0,1348.7 1973.8,1347.0 1974.6,1349.2 1975.4,1347.5 1976.2,1349.1 1977.0,1347.8 1977.8,1349.4 1978.6,1347.0 1979.4,1349.0" stroke="#58AC1A" />
<polyline points="1990.6,1352.2 1991.4,1350.9 1992.2,1351.6 1993.0,1349.7 1993.8,1351.2 1994.6,1348.7 1995.4,1351.1 1996.2,1348.1 1997.0,1350.0 1997.8,1346.7 1998.6,1349.2 1999.4,1346.9 2000.2,1347.4 2001.0,1345.4 2001.8,1347.1 2002.6,1345.3 2003.4,1346.6 2004.2,1345.4" stroke="#58AC1A" />
<polyline points="2015.4,1350.3 2016.2,1351.5 2017.0,1350.2 2017.8,1352.3 2018.6,1350.0 2019.4,1352.4 2020.2,1349.6 2021.0,1351.9 2021.8,1349.0 2022.6,1351.3 2023.4,1348.9 2024.2,1350.5 2025.0,1348.1 2025.8,1350.4 2026.6,1348.2 2027.4,1349.5 2028.2,1347.1 2029.0,1348.9 2029.8,1347.2 2030.6,1348.4" stroke="#58AC1A" />
<polyline points="2041.8,1350.5 2042.6,1348.9 2043.4,1349.7 2044.2,1348.8 2045.0,1350.2 2045.8,1348.4 2046.6,1350.3 2047.4,1348.5 2048.2,1350.7 2049.0,1348.7 2049.8,1350.2 2050.6,1348.8 2051.4,1350.8 2052.2,1349.1 2053.0,1350.9 2053.8,1348.9 2054.6,1351.1 2055.4,1348.3 2056.2,1351.0 2057.0,1347.9" stroke="#58AC1A" />
<polyline points="228.0,61.0 228.1,64.0 228.3,68.0 228.4,72.0 228.5,76.0 228.7,80.0 228.8,84.0 229.0,88.0 229.2,92.0 229.3,96.0 229.5,100.0 229.6,104.0 229.8,108.0 230.0,112.0 230.1,116.0 230.3,120.0 230.5,124.0 230.7,128.0 230.8,132.0 231.0,136.0 231.2,139.9 231.4,143.9 231.5,147.9 231.7,151.9 231.9,155.9 232.1,159.9 232.3,163.9 232.5,167.9 232.7,171.9 232.9,175.9 233.1,179.9 233.3,183.9 233.5,187.9 233.7,191.9 233.9,195.9 234.1,199.9 234.3,203.9 234.5,207.9 234.7,211.9 234.9,215.9 235.1,219.9 235.3,223.9 235.5,227.8 235.7,231.8 236.0,235.8 236.2,239.8 236.4,243.8 236.6,247.8 236.8,251.8 237.0,255.8 237.3,259.8 237.5,263.8 237.7,267.8 237.9,271.8 238.2,275.8 238.4,279.8 238.6,283.8 238.8,287.8 239.1,291.7 239.3,295.7 239.5,299.7 239.8,303.7 240.0,307.7 240.2,311.7 240.5,315.7 240.7,319.7 240.9,323.7 241.2,327.7 241.4,331.7 241.7,335.7 241.9,339.7 242.1,343.6 242.4,347.6 242.7,351.6 242.9,355.6 243.2,359.6 243.5,363.6 243.8,367.6 244.1,371.6 244.4,375.6 244.7,379.6 245.0,383.5 245.3,387.5 245.6,391.5 245.9,395.5 246.2,399.5 246.5,403.5 246.8,407.5 247.1,411.5 247.5,415.5 247.8,419.4 248.1,423.4 248.4,427.4 248.7,431.4 249.0,435.4 249.3,439.4 249.6,443.4 249.9,447.4 250.2,451.4 250.4,455.3 250.7,459.3 251.0,463.3 251.2,467.3 251.5,471.3 251.7,475.3 252.0,479.3 252.2,483.3 252.4,487.3 252.6,491.3 252.8,495.3 253.0,499.3 253.2,503.3 253.4,507.3 253.6,511.2 253.8,515.2 254.0,519.2 254.2,523.2 254.3,527.2 254.5,531.2 254.7,535.2 254.9,539.2 255.1,543.2 255.3,547.2 255.5,551.2 255.7,555.2 255.8,559.2 256.0,563.2 256.2,567.2 256.4,571.2 256.6,575.2 256.7,579.2 256.9,583.2 257.1,587.2 257.3,591.2 257.5,595.2 257.6,599.2 257.8,603.2 258.0,607.2 258.2,611.1 258.4,615.1 258.6,619.1 258.8,623.1 259.0,627.1 259.3,631.1 259.5,635.1 259.7,639.1 259.9,643.1 260.2,647.1 260.4,651.1 260.7,655.1 260.9,659.1 261.2,663.1 261.5,667.0 261.7,671.0 262.0,675.0 262.3,679.0 262.6,683.0 262.8,687.0 263.1,691.0 263.4,695.0 263.7,699.0 264.0,703.0 264.3,707.0 264.5,710.9 264.8,714.9 265.1,718.9 265.4,722.9 265.7,726.9 265.9,730.9 266.2,734.9 266.5,738.9 266.8,742.9 267.0,746.9 267.3,750.9 267.6,754.8 267.9,758.8 268.2,762.8 268.5,766.8 268.8,770.8 269.2,774.8 269.6,778.8 270.0,782.7 270.5,786.7 271.0,790.7 271.5,794.6 272.1,798.6 272.6,802.6 273.2,806.5 273.8,810.5 274.4,814.4 275.0,818.4 275.6,822.3 276.2,826.3 276.8,830.2 277.4,834.2 277.8,838.2 278.3,842.2 278.8,846.1 279.3,850.1 279.8,854.1 280.3,858.0 280.9,862.0 281.6,865.9 282.3,869.8 283.1,873.8 283.8,877.7 284.5,881.7 285.1,885.6 285.7,889.6 286.3,893.5 286.9,897.5 287.5,901.4 288.1,905.4 288.7,909.3 289.3,913.3 289.9,917.3 290.4,921.2 291.0,925.2 291.6,929.1 292.2,933.1 292.8,937.0 293.4,941.0 294.0,945.0 294.6,948.9 295.2,952.9 295.8,956.8 296.4,960.8 297.0,964.7 297.5,968.7 298.1,972.6 298.7,976.6 299.4,980.5 300.2,984.5 301.0,988.4 301.8,992.3 302.6,996.2 303.4,1000.1 304.1,1004.1 304.8,1008.0 305.6,1011.9 306.4,1015.9 307.2,1019.8 308.2,1023.7 309.1,1025.8 309.9,1027.3 310.7,1029.6 311.5,1030.7 312.3,1032.8 313.1,1034.3 313.9,1036.4 314.7,1037.4 315.5,1039.4 316.3,1040.1 317.1,1042.1 317.9,1042.6 318.7,1045.0 319.5,1045.3 320.3,1047.2 321.1,1047.4 321.9,1049.4 322.7,1049.7 323.5,1051.7 324.3,1051.6 325.1,1054.0 325.9,1054.6 326.7,1056.3 327.5,1056.5 328.3,1058.5 329.1,1058.4 329.9,1060.5 330.7,1060.5 331.5,1062.4 332.3,1062.9 333.1,1064.8 333.9,1065.5 334.7,1067.5 335.5,1068.9 336.3,1071.4 337.1,1074.1 337.9,1077.4 338.7,1080.6 339.5,1084.4 340.3,1088.8 341.1,1093.4 341.9,1096.7 342.7,1099.1 343.5,1100.3 344.3,1102.3 345.1,1102.8 345.9,1104.5 346.7,1104.8 347.5,1106.7 348.3,1106.8 349.1,1108.7 349.9,1109.1 350.7,1111.3 351.5,1111.9 352.3,1114.1 353.1,1115.2 353.9,1117.2 354.7,1118.3 355.5,1120.5 356.3,1121.6 357.1,1123.7 357.9,1124.9 358.7,1126.9 359.5,1128.0 360.3,1130.0 361.1,1131.1 361.9,1133.3 362.7,1134.2 363.5,1136.5 364.3,1137.3 365.1,1139.4 365.9,1140.2 366.7,1142.4 367.5,1143.2 368.3,1145.3 369.1,1146.0 369.9,1148.3 370.7,1149.2 371.5,1150.8 372.3,1151.9 373.1,1153.6 373.9,1154.2 374.7,1155.9 375.5,1156.6 376.3,1158.1 377.1,1158.3 377.9,1160.6 378.7,1160.1 379.5,1161.8 380.3,1162.1 381.1,1163.9 381.9,1163.7 382.7,1165.7 383.5,1165.4 384.3,1167.8 385.1,1167.6 385.9,1169.1 386.7,1169.1 387.5,1171.0 388.3,1171.2 389.1,1172.9 389.9,1173.3 390.7,1175.0 391.5,1175.0 392.3,1177.1 393.1,1177.1 393.9,1179.6 394.7,1179.2 395.5,1181.2 396.3,1181.1 397.1,1183.4 397.9,1182.6 398.7,1184.4 399.5,1184.5 400.3,1186.3 401.1,1185.2 401.9,1187.2 402.7,1186.4 403.5,1187.4 404.3,1187.3 405.1,1189.0 405.9,1187.9 406.7,1189.9 407.5,1189.6 408.3,1190.8 409.1,1190.0 409.9,1191.2 410.7,1190.7 411.5,1193.2 412.3,1191.0 413.1,1192.9 413.9,1192.1 414.7,1194.4 415.5,1192.8 416.3,1194.1 417.1,1192.9 417.9,1194.2 418.7,1193.7 419.5,1194.9 420.3,1194.3 421.1,1195.9 421.9,1195.1 422.7,1197.6 423.5,1196.5 424.3,1199.1 425.1,1198.4 425.9,1200.5 426.7,1200.2 427.5,1202.8 428.3,1202.3 429.1,1204.4 429.9,1203.7 430.7,1206.5 431.5,1205.9 432.3,1207.8 433.1,1207.4 433.9,1208.5 434.7,1208.5 435.5,1210.7 436.3,1210.1 437.1,1211.9 437.9,1211.5 438.7,1213.2 439.5,1212.5 440.3,1214.3 441.1,1213.9 441.9,1215.6 442.7,1214.9 443.5,1217.1 444.3,1216.2 445.1,1217.9 445.9,1216.9 446.7,1218.9 447.5,1218.6 448.3,1220.2 449.1,1219.5 449.9,1221.2 450.7,1220.7 451.5,1222.6 452.3,1222.0 453.1,1223.4 453.9,1223.9 454.7,1225.7 455.5,1225.3 456.3,1227.6 457.1,1227.0 457.9,1229.6 458.7,1229.3 459.5,1231.5 460.3,1231.1 461.1,1233.3 461.9,1233.1 462.7,1235.3 463.5,1234.8 464.3,1236.8 465.1,1235.9 465.9,1238.5 466.7,1237.3 467.5,1239.2 468.3,1238.3 469.1,1240.2 469.9,1239.3 470.7,1241.2 471.5,1240.7 472.3,1242.7 473.1,1241.7 473.9,1243.4 474.7,1242.5 475.5,1244.6 476.3,1244.0 477.1,1245.5 477.9,1244.3 478.7,1247.5 479.5,1246.1 480.3,1247.9 481.1,1247.7 481.9,1250.2 482.7,1248.9 483.5,1250.2 484.3,1249.6 485.1,1251.6 485.9,1250.2 486.7,1251.9 487.5,1251.3 488.3,1252.5 489.1,1251.0 489.9,1253.0 490.7,1251.2 491.5,1253.0 492.3,1251.0 493.1,1253.2 493.9,1251.5 494.7,1252.9 495.5,1252.5 496.3,1254.2 497.1,1252.8 497.9,1255.1 498.7,1253.4 499.5,1255.7 500.3,1254.1 501.1,1257.1 501.9,1255.9 502.7,1257.7 503.5,1255.9 504.3,1258.8 505.1,1256.8 505.9,1258.6 506.7,1257.0 507.5,1259.7 508.3,1258.6 509.1,1260.2 509.9,1258.5 510.7,1260.7 511.5,1258.9 512.3,1261.1 513.1,1259.7 513.9,1261.4 514.7,1260.2 515.5,1261.7 516.3,1260.4 517.1,1262.4 517.9,1260.4 518.7,1262.6 519.5,1260.9 520.3,1263.8 521.1,1261.4 521.9,1264.4 522.7,1262.8 523.5,1264.7 524.3,1263.8 525.1,1264.7 525.9,1264.1 526.7,1266.2 527.5,1264.7 528.3,1266.9 529.1,1265.1 529.9,1267.0 530.7,1266.0 531.5,1267.5 532.3,1265.7 533.1,1268.1 533.9,1266.4 534.7,1268.2 535.5,1267.1 536.3,1268.6 537.1,1267.2 537.9,1269.3 538.7,1268.0 539.5,1270.0 540.3,1268.4 541.1,1271.2 541.9,1269.8 542.7,1271.6 543.5,1270.5 544.3,1271.9 545.1,1271.7 545.9,1273.3 546.7,1272.7 547.5,1274.3 548.3,1273.9 549.1,1275.6 549.9,1274.6 550.7,1277.3 551.5,1276.1 552.3,1277.5 553.1,1276.7 553.9,1279.1 554.7,1278.0 555.5,1280.4 556.3,1279.1 557.1,1281.0 557.9,1280.4 558.7,1282.8 559.5,1282.2 560.3,1284.3 561.1,1284.0 561.9,1286.0 562.7,1285.6 563.5,1288.1 564.3,1287.1 565.1,1289.3 565.9,1287.2 566.7,1289.3 567.5,1287.1 568.3,1288.3 569.1,1285.1 569.9,1286.8 570.7,1283.8 571.5,1285.0 572.3,1282.9 573.1,1283.3 573.9,1280.9 574.7,1282.2 575.5,1280.6 576.3,1281.9 577.1,1279.0 577.9,1280.8 578.7,1278.6 579.5,1280.3 580.3,1277.8 581.1,1280.3 581.9,1277.5 582.7,1279.8 583.5,1277.5 584.3,1280.7 585.1,1280.7 585.9,1283.1 586.7,1283.3 587.5,1285.8 588.3,1286.7 589.1,1288.7 589.9,1289.4 590.7,1291.5 591.5,1291.1 592.3,1293.2 593.1,1292.7 593.9,1294.7 594.7,1294.1 595.5,1296.1 596.3,1294.8 597.1,1296.9 597.9,1296.4 598.7,1298.4 599.5,1296.9 600.3,1299.1 601.1,1298.3 601.9,1299.3 602.7,1298.3 603.5,1300.5 604.3,1299.3 605.1,1300.6 605.9,1299.5 606.7,1301.6 607.5,1300.8 608.3,1302.4 609.1,1300.7 609.9,1303.6 610.7,1302.2 611.5,1304.2 612.3,1302.9 613.1,1306.0 613.9,1304.7 614.7,1307.2 615.5,1306.2 616.3,1308.6 617.1,1307.7 617.9,1310.3 618.7,1308.2 619.5,1310.8 620.3,1309.3 621.1,1312.2 621.9,1309.9 622.7,1311.6 623.5,1310.2 624.3,1312.0 625.1,1309.9 625.9,1311.7 626.7,1309.3 627.5,1310.6 628.3,1309.6 629.1,1310.3 629.9,1307.9 630.7,1309.6 631.5,1307.7 632.3,1308.0 633.1,1306.2 633.9,1307.9 634.7,1305.2 635.5,1307.2 636.3,1304.4 637.1,1306.2 637.9,1304.1 638.7,1306.0 639.5,1303.8 640.3,1305.3 641.1,1303.4 641.9,1304.7 642.7,1304.2 643.5,1305.4 644.3,1303.6 645.1,1305.9 645.9,1304.1 646.7,1306.2 647.5,1304.0 648.3,1305.8 649.1,1304.7 649.9,1306.7 650.7,1305.4 651.5,1307.7 652.3,1306.6 653.1,1309.1 653.9,1307.6 654.7,1309.3 655.5,1308.9 656.3,1311.4 657.1,1309.2 657.9,1312.3 658.7,1310.5 659.5,1312.3 660.3,1310.5 661.1,1312.1 661.9,1310.0 662.7,1311.5 663.5,1309.1 664.3,1310.4 665.1,1309.1 665.9,1309.5 666.7,1307.6 667.5,1309.3 668.3,1307.4 669.1,1309.1 669.9,1306.7 670.7,1309.0 671.5,1307.6 672.3,1310.1 673.1,1309.1 673.9,1311.3 674.7,1310.8 675.5,1312.9 676.3,1312.1 677.1,1314.4 677.9,1313.3 678.7,1315.6 679.5,1314.1 680.3,1315.3 681.1,1313.2 681.9,1313.3 682.7,1311.4 683.5,1310.9 684.3,1309.0 685.1,1308.2 685.9,1305.9 686.7,1305.4 687.5,1303.3 688.3,1302.7 689.1,1300.1 689.9,1301.3 690.7,1298.0 691.5,1299.8 692.3,1299.0 693.1,1300.5 693.9,1300.6 694.7,1302.2 695.5,1302.7 696.3,1304.6 697.1,1304.0 697.9,1305.6 698.7,1304.4 699.5,1306.2 700.3,1305.1 701.1,1306.5 701.9,1304.9 702.7,1306.1 703.5,1303.8 704.3,1305.2 705.1,1302.7 705.9,1305.3 706.7,1303.4 707.5,1306.2 708.3,1306.2 709.1,1307.9 709.9,1308.1 710.7,1310.5 711.5,1310.0 712.3,1312.3 713.1,1311.7 713.9,1313.4 714.7,1311.3 715.5,1313.5 716.3,1310.9 717.1,1311.3 717.9,1309.0 718.7,1309.6 719.5,1306.9 720.3,1308.7 721.1,1308.0 721.9,1310.3 722.7,1310.3 723.5,1312.4 724.3,1311.4 725.1,1313.2 725.9,1312.2 726.7,1313.8 727.5,1312.6 728.3,1314.9 729.1,1313.2 729.9,1314.0 730.7,1313.3 731.5,1314.0 732.3,1313.1 733.1,1314.4 733.9,1312.4 734.7,1313.6 735.5,1312.1 736.3,1313.2 737.1,1310.8 737.9,1311.7 738.7,1310.0 739.5,1310.9 740.3,1308.8 741.1,1309.7 741.9,1307.6 742.7,1309.8 743.5,1307.8 744.3,1310.0 745.1,1307.8 745.9,1309.5 746.7,1307.9 747.5,1310.0 748.3,1307.7 749.1,1309.9 749.9,1307.5 750.7,1309.8 751.5,1308.1 752.3,1310.9 753.1,1309.5 753.9,1311.1 754.7,1309.3 755.5,1311.1 756.3,1309.8 757.1,1311.5 757.9,1309.8 758.7,1311.2 759.5,1309.5 760.3,1311.7 761.1,1309.7 761.9,1310.9 762.7,1309.0 763.5,1311.3 764.3,1309.0 765.1,1311.5 765.9,1310.3 766.7,1312.1 767.5,1310.7 768.3,1312.6 769.1,1311.8 769.9,1313.0 770.7,1311.6 771.5,1313.7 772.3,1311.3 773.1,1313.8 773.9,1311.0 774.7,1313.1 775.5,1310.5 776.3,1312.3 777.1,1310.2 777.9,1311.4 778.7,1309.7 779.5,1311.8 780.3,1310.9 781.1,1312.6 781.9,1310.9 782.7,1312.6 783.5,1311.8 784.3,1314.5 785.1,1313.0 785.9,1316.2 786.7,1313.8 787.5,1316.4 788.3,1315.5 789.1,1317.6 789.9,1316.7 790.7,1319.1 791.5,1317.6 792.3,1319.8 793.1,1318.3 793.9,1320.5 794.7,1318.3 795.5,1320.4 796.3,1319.3 797.1,1320.9 797.9,1319.0 798.7,1321.6 799.5,1319.6 800.3,1322.0 801.1,1320.2 801.9,1322.6 802.7,1321.1 803.5,1322.7 804.3,1321.1 805.1,1324.2 805.9,1322.1 806.7,1324.1 807.5,1322.6 808.3,1325.4 809.1,1323.8 809.9,1325.6 810.7,1324.4 811.5,1326.5 812.3,1325.5 813.1,1327.3 813.9,1325.3 814.7,1326.8 815.5,1325.1 816.3,1327.2 817.1,1324.9 817.9,1326.9 818.7,1324.4 819.5,1326.4 820.3,1324.4 821.1,1325.9 821.9,1325.1 822.7,1327.0 823.5,1327.3 824.3,1329.1 825.1,1329.7 825.9,1331.7 826.7,1331.6 827.5,1333.5 828.3,1331.9 829.1,1334.1 829.9,1332.0 830.7,1333.5 831.5,1332.4 832.3,1333.9 833.1,1332.0 833.9,1334.4 834.7,1332.5 835.5,1335.0 836.3,1333.6 837.1,1334.8 837.9,1333.2 838.7,1334.5 839.5,1332.6 840.3,1334.2 841.1,1332.2 841.9,1334.2 842.7,1332.0 843.5,1332.6 844.3,1330.4 845.1,1331.2 845.9,1328.7 846.7,1329.0 847.5,1327.0 848.3,1328.5 849.1,1326.6 849.9,1329.4 850.7,1327.8 851.5,1330.4 852.3,1330.6 853.1,1332.8 853.9,1332.4 854.7,1334.6 855.5,1334.3 856.3,1336.7 857.1,1336.2 857.9,1338.6 858.7,1337.3 859.5,1339.9 860.3,1338.7 861.1,1340.6 861.9,1339.8 862.7,1341.4 863.5,1339.7 864.3,1342.0 865.1,1340.8 865.9,1342.0 866.7,1339.9 867.5,1341.2 868.3,1339.0 869.1,1340.1 869.9,1337.3 870.7,1338.1 871.5,1336.3 872.3,1336.6 873.1,1335.0 873.9,1335.7 874.7,1333.4 875.5,1334.5 876.3,1332.7 877.1,1335.0 877.9,1332.4 878.7,1334.7 879.5,1333.1 880.3,1335.4 881.1,1332.9 881.9,1335.9 882.7,1333.5 883.5,1336.6 884.3,1334.9 885.1,1336.0 885.9,1335.2 886.7,1337.2 887.5,1335.1 888.3,1337.7 889.1,1336.2 889.9,1337.6 890.7,1335.4 891.5,1337.1 892.3,1335.5 893.1,1337.1 893.9,1336.2 894.7,1337.6 895.5,1337.7 896.3,1339.7 897.1,1340.0 897.9,1342.0 898.7,1341.7 899.5,1343.8 900.3,1342.3 901.1,1343.2 901.9,1341.7 902.7,1341.1 903.5,1339.0 904.3,1338.4 905.1,1336.1 905.9,1336.3 906.7,1333.9 907.5,1336.1 908.3,1333.6 909.1,1335.7 909.9,1335.3 910.7,1337.2 911.5,1337.7 912.3,1339.4 913.1,1340.0 913.9,1341.8 914.7,1342.4 915.5,1344.2 916.3,1345.6 917.1,1347.8 917.9,1348.8 918.7,1350.6 919.5,1350.5 920.3,1351.3 921.1,1350.9 921.9,1350.0 922.7,1347.1 923.5,1344.1 924.3,1340.6 925.1,1337.9 925.9,1334.9 926.7,1334.1 927.5,1332.3 928.3,1333.6 929.1,1331.5 929.9,1333.7 930.7,1331.3 931.5,1333.3 932.3,1331.0 933.1,1333.1 933.9,1331.0 934.7,1332.6 935.5,1331.2 936.3,1333.1 937.1,1331.3 937.9,1334.0 938.7,1333.2 939.5,1335.6 940.3,1336.1 941.1,1338.4 941.9,1338.2 942.7,1340.5 943.5,1340.1 944.3,1342.0 945.1,1340.5 945.9,1342.7 946.7,1340.5 947.5,1341.8 948.3,1339.7 949.1,1340.3 949.9,1338.6 950.7,1338.9 951.5,1336.6 952.3,1338.5 953.1,1336.3 953.9,1338.3 954.7,1335.9 955.5,1337.6 956.3,1336.3 957.1,1338.0 957.9,1336.2 958.7,1338.2 959.5,1336.9 960.3,1338.2 961.1,1337.4 961.9,1338.8 962.7,1338.1 963.5,1339.4 964.3,1338.8 965.1,1341.0 965.9,1339.8 966.7,1341.5 967.5,1341.7 968.3,1343.1 969.1,1342.5 969.9,1344.7 970.7,1344.0 971.5,1346.1 972.3,1346.5 973.1,1348.4 973.9,1348.2 974.7,1350.5 975.5,1349.5 976.3,1351.0 977.1,1348.9 977.9,1350.5 978.7,1349.2 979.5,1350.8 980.3,1349.3 981.1,1351.3 981.9,1349.1 982.7,1350.1 983.5,1348.5 984.3,1350.7 985.1,1348.5 985.9,1347.8 986.7,1345.0 987.5,1342.6 988.3,1339.5 989.1,1337.0 989.9,1334.6 990.7,1334.6 991.5,1332.8 992.3,1333.5 993.1,1331.7 993.9,1333.3 994.7,1330.3 995.5,1332.4 996.3,1330.5 997.1,1331.8 997.9,1331.2 998.7,1332.9 999.5,1333.4 1000.3,1335.3 1001.1,1335.6 1001.9,1337.3 1002.7,1336.6 1003.5,1338.5 1004.3,1337.5 1005.1,1339.7 1005.9,1338.3 1006.7,1340.3 1007.5,1339.6 1008.3,1341.2 1009.1,1340.1 1009.9,1342.7 1010.7,1341.0 1011.5,1343.3 1012.3,1342.1 1013.1,1344.2 1013.9,1342.4 1014.7,1344.6 1015.5,1343.5 1016.3,1346.2 1017.1,1344.6 1017.9,1347.1 1018.7,1345.1 1019.5,1346.8 1020.3,1344.8 1021.1,1347.1 1021.9,1345.4 1022.7,1347.2 1023.5,1345.8 1024.3,1347.1 1025.1,1345.7 1025.9,1347.6 1026.7,1344.9 1027.5,1347.3 1028.3,1346.1 1029.1,1348.1 1029.9,1346.2 1030.7,1348.1 1031.5,1346.6 1032.3,1349.2 1033.1,1348.0 1033.9,1350.0 1034.7,1348.0 1035.5,1348.9 1036.3,1347.1 1037.1,1346.6 1037.9,1344.8 1038.7,1344.9 1039.5,1343.2 1040.3,1343.9 1041.1,1341.5 1041.9,1343.0 1042.7,1340.6 1043.5,1342.0 1044.3,1340.0 1045.1,1341.3 1045.9,1339.0 1046.7,1340.5 1047.5,1338.1 1048.3,1340.5 1049.1,1339.0 1049.9,1341.2 1050.7,1340.2 1051.5,1342.2 1052.3,1342.2 1053.1,1344.1 1053.9,1343.2 1054.7,1344.9 1055.5,1343.0 1056.3,1344.6 1057.1,1343.2 1057.9,1343.6 1058.7,1341.6 1059.5,1342.2 1060.3,1340.7 1061.1,1340.7 1061.9,1338.8 1062.7,1339.0 1063.5,1337.2 1064.3,1337.6 1065.1,1335.6 1065.9,1336.5 1066.7,1334.2 1067.5,1334.5 1068.3,1332.2 1069.1,1332.6 1069.9,1330.4 1070.7,1330.7 1071.5,1329.1 1072.3,1330.1 1073.1,1328.3 1073.9,1329.8 1074.7,1327.2 1075.5,1329.2 1076.3,1326.5 1077.1,1328.3 1077.9,1326.5 1078.7,1328.3 1079.5,1326.6 1080.3,1327.6 1081.1,1326.6 1081.9,1328.0 1082.7,1326.8 1083.5,1328.4 1084.3,1326.9 1085.1,1328.9 1085.9,1328.6 1086.7,1330.2 1087.5,1329.9 1088.3,1331.8 1089.1,1331.6 1089.9,1333.5 1090.7,1332.2 1091.5,1334.5 1092.3,1333.5 1093.1,1335.4 1093.9,1333.8 1094.7,1336.0 1095.5,1335.2 1096.3,1337.6 1097.1,1336.4 1097.9,1338.5 1098.7,1337.1 1099.5,1340.1 1100.3,1338.2 1101.1,1341.1 1101.9,1338.5 1102.7,1340.9 1103.5,1339.0 1104.3,1341.8 1105.1,1339.7 1105.9,1341.1 1106.7,1338.6 1107.5,1341.5 1108.3,1339.1 1109.1,1340.5 1109.9,1338.4 1110.7,1340.9 1111.5,1339.0 1112.3,1341.0 1113.1,1339.5 1113.9,1341.2 1114.7,1339.8 1115.5,1342.1 1116.3,1340.4 1117.1,1342.5 1117.9,1341.2 1118.7,1342.5 1119.5,1341.8 1120.3,1343.7 1121.1,1341.5 1121.9,1343.9 1122.7,1342.5 1123.5,1344.3 1124.3,1341.6 1125.1,1343.8 1125.9,1342.3 1126.7,1344.8 1127.5,1342.5 1128.3,1344.1 1129.1,1342.5 1129.9,1344.0 1130.7,1342.0 1131.5,1343.4 1132.3,1340.9 1133.1,1342.9 1133.9,1341.0 1134.7,1342.3 1135.5,1340.3 1136.3,1342.3 1137.1,1341.0 1137.9,1342.6 1138.7,1341.9 1139.5,1343.9 1140.3,1343.8 1141.1,1346.5 1141.9,1346.4 1142.6,1349.0 1142.6,1349.0 1142.6,66.3 1142.8,69.3 1143.0,73.3 1143.3,77.3 1143.5,81.3 1143.7,85.3 1144.0,89.3 1144.2,93.3 1144.5,97.2 1144.7,101.2 1144.9,105.2 1145.2,109.2 1145.4,113.2 1145.7,117.2 1145.9,121.2 1146.1,125.2 1146.4,129.2 1146.6,133.2 1146.9,137.2 1147.1,141.2 1147.3,145.2 1147.6,149.2 1147.8,153.1 1148.0,157.1 1148.3,161.1 1148.5,165.1 1148.8,169.1 1149.0,173.1 1149.2,177.1 1149.5,181.1 1149.7,185.1 1149.9,189.1 1150.2,193.1 1150.4,197.1 1150.6,201.1 1150.9,205.1 1151.1,209.0 1151.3,213.0 1151.6,217.0 1151.8,221.0 1152.0,225.0 1152.3,229.0 1152.5,233.0 1152.7,237.0 1153.0,241.0 1153.2,245.0 1153.4,249.0 1153.7,253.0 1153.9,257.0 1154.1,261.0 1154.4,265.0 1154.6,268.9 1154.8,272.9 1155.1,276.9 1155.3,280.9 1155.5,284.9 1155.8,288.9 1156.0,292.9 1156.2,296.9 1156.5,300.9 1156.7,304.9 1156.9,308.9 1157.1,312.9 1157.4,316.9 1157.6,320.9 1157.8,324.9 1158.1,328.8 1158.3,332.8 1158.5,336.8 1158.8,340.8 1159.0,344.8 1159.2,348.8 1159.4,352.8 1159.7,356.8 1159.9,360.8 1160.1,364.8 1160.4,368.8 1160.6,372.8 1160.8,376.8 1161.0,380.8 1161.3,384.8 1161.5,388.7 1161.7,392.7 1161.9,396.7 1162.2,400.7 1162.4,404.7 1162.6,408.7 1162.8,412.7 1163.1,416.7 1163.3,420.7 1163.5,424.7 1163.8,428.7 1164.0,432.7 1164.2,436.7 1164.4,440.7 1164.6,444.7 1164.9,448.7 1165.1,452.6 1165.3,456.6 1165.5,460.6 1165.7,464.6 1165.9,468.6 1166.2,472.6 1166.4,476.6 1166.6,480.6 1166.8,484.6 1167.0,488.6 1167.2,492.6 1167.4,496.6 1167.7,500.6 1167.9,504.6 1168.1,508.6 1168.3,512.6 1168.5,516.6 1168.7,520.5 1168.9,524.5 1169.2,528.5 1169.4,532.5 1169.6,536.5 1169.8,540.5 1170.0,544.5 1170.3,548.5 1170.5,552.5 1170.7,556.5 1171.0,560.5 1171.2,564.5 1171.4,568.5 1171.7,572.5 1171.9,576.5 1172.1,580.5 1172.4,584.4 1172.6,588.4 1172.9,592.4 1173.1,596.4 1173.4,600.4 1173.6,604.4 1173.9,608.4 1174.1,612.4 1174.4,616.4 1174.6,620.4 1174.9,624.4 1175.2,628.4 1175.4,632.3 1175.7,636.3 1176.0,640.3 1176.2,644.3 1176.5,648.3 1176.8,652.3 1177.0,656.3 1177.3,660.3 1177.6,664.3 1177.8,668.3 1178.1,672.3 1178.4,676.2 1178.6,680.2 1178.9,684.2 1179.1,688.2 1179.4,692.2 1179.7,696.2 1179.9,700.2 1180.2,704.2 1180.4,708.2 1180.7,712.2 1180.9,716.2 1181.2,720.2 1181.5,724.2 1181.7,728.1 1182.0,732.1 1182.2,736.1 1182.5,740.1 1182.8,744.1 1183.0,748.1 1183.3,752.1 1183.6,756.1 1183.9,760.1 1184.2,764.1 1184.5,768.0 1184.7,772.0 1185.0,776.0 1185.4,780.0 1185.7,784.0 1186.0,788.0 1186.3,792.0 1186.6,796.0 1186.9,800.0 1187.2,803.9 1187.6,807.9 1187.9,811.9 1188.3,815.9 1188.7,819.9 1189.1,823.9 1189.5,827.8 1190.0,831.8 1190.5,835.8 1191.0,839.7 1191.5,843.7 1192.0,847.7 1192.6,851.6 1193.2,855.6 1193.8,859.6 1194.4,863.5 1195.0,867.5 1195.6,871.4 1196.3,875.4 1196.9,879.3 1197.6,883.2 1198.2,887.2 1198.9,891.1 1199.6,895.1 1200.4,899.0 1201.1,902.9 1201.9,906.9 1202.6,910.8 1203.4,914.7 1204.2,918.6 1205.0,922.6 1205.8,926.5 1206.6,930.4 1207.5,934.3 1208.4,938.2 1209.3,942.1 1210.2,946.0 1211.0,949.9 1211.8,954.9 1212.6,959.6 1213.4,964.3 1214.2,968.6 1215.0,972.9 1215.8,976.8 1216.6,980.7 1217.4,984.1 1218.2,987.5 1219.0,990.6 1219.8,993.9 1220.6,996.7 1221.4,999.9 1222.2,1002.7 1223.0,1006.0 1223.8,1008.9 1224.6,1012.3 1225.4,1015.1 1226.2,1018.4 1227.0,1021.4 1227.8,1024.6 1228.6,1027.7 1229.4,1031.1 1230.2,1034.4 1231.0,1038.1 1231.8,1041.9 1232.6,1046.2 1233.4,1050.5 1234.2,1055.0 1235.0,1059.2 1235.8,1063.2 1236.6,1066.5 1237.4,1069.5 1238.2,1071.8 1239.0,1074.6 1239.8,1076.8 1240.6,1079.3 1241.4,1081.0 1242.2,1083.3 1243.0,1084.8 1243.8,1087.2 1244.6,1088.7 1245.4,1091.1 1246.2,1092.4 1247.0,1094.9 1247.8,1095.9 1248.6,1098.0 1249.4,1098.9 1250.2,1100.9 1251.0,1101.5 1251.8,1103.4 1252.6,1104.4 1253.4,1106.3 1254.2,1107.8 1255.0,1110.4 1255.8,1113.2 1256.6,1116.8 1257.4,1120.2 1258.2,1123.9 1259.0,1127.2 1259.8,1130.4 1260.6,1132.7 1261.4,1135.3 1262.2,1137.2 1263.0,1139.7 1263.8,1141.4 1264.6,1143.7 1265.4,1145.0 1266.2,1147.4 1267.0,1148.3 1267.8,1150.6 1268.6,1151.3 1269.4,1153.6 1270.2,1153.9 1271.0,1155.9 1271.8,1156.1 1272.6,1158.4 1273.4,1158.3 1274.2,1160.3 1275.0,1160.2 1275.8,1162.5 1276.6,1162.0 1277.4,1164.0 1278.2,1162.8 1279.0,1164.9 1279.8,1164.0 1280.6,1165.5 1281.4,1165.4 1282.2,1166.6 1283.0,1166.1 1283.8,1167.7 1284.6,1167.1 1285.4,1169.3 1286.2,1168.3 1287.0,1170.0 1287.8,1169.2 1288.6,1171.4 1289.4,1170.5 1290.2,1172.3 1291.0,1172.0 1291.8,1173.0 1292.6,1173.1 1293.4,1175.0 1294.2,1174.6 1295.0,1176.1 1295.8,1175.0 1296.6,1177.2 1297.4,1176.3 1298.2,1177.4 1299.0,1175.8 1299.8,1178.0 1300.6,1176.2 1301.4,1177.8 1302.2,1175.9 1303.0,1178.5 1303.8,1177.0 1304.6,1179.7 1305.4,1177.7 1306.2,1180.3 1307.0,1179.2 1307.8,1182.2 1308.6,1180.2 1309.4,1182.1 1310.2,1182.2 1311.0,1184.1 1311.8,1184.5 1312.6,1186.7 1313.4,1187.4 1314.2,1189.2 1315.0,1189.9 1315.8,1192.2 1316.6,1192.6 1317.4,1195.0 1318.2,1194.3 1319.0,1196.1 1319.8,1195.6 1320.6,1197.6 1321.4,1197.0 1322.2,1199.1 1323.0,1198.7 1323.8,1201.0 1324.6,1200.1 1325.4,1202.5 1326.2,1201.5 1327.0,1203.7 1327.8,1202.5 1328.6,1204.8 1329.4,1203.1 1330.2,1204.2 1331.0,1203.3 1331.8,1205.0 1332.6,1202.7 1333.4,1204.8 1334.2,1202.4 1335.0,1204.5 1335.8,1202.1 1336.6,1204.5 1337.4,1202.5 1338.2,1203.9 1339.0,1202.5 1339.8,1205.1 1340.6,1203.6 1341.4,1205.7 1342.2,1204.6 1343.0,1206.8 1343.8,1206.7 1344.6,1208.8 1345.4,1208.7 1346.2,1210.6 1347.0,1210.6 1347.8,1212.6 1348.6,1212.1 1349.4,1214.1 1350.2,1213.4 1351.0,1215.2 1351.8,1214.8 1352.6,1216.9 1353.4,1216.1 1354.2,1217.7 1355.0,1216.8 1355.8,1219.1 1356.6,1217.8 1357.4,1219.9 1358.2,1218.6 1359.0,1220.2 1359.8,1219.6 1360.6,1220.8 1361.4,1218.9 1362.2,1221.8 1363.0,1219.4 1363.8,1222.2 1364.6,1220.2 1365.4,1222.4 1366.2,1220.3 1367.0,1222.1 1367.8,1220.4 1368.6,1222.9 1369.4,1220.9 1370.2,1222.6 1371.0,1220.7 1371.8,1222.8 1372.6,1221.1 1373.4,1223.2 1374.2,1222.0 1375.0,1223.6 1375.8,1223.4 1376.6,1225.1 1377.4,1225.1 1378.2,1226.6 1379.0,1226.7 1379.8,1228.7 1380.6,1228.0 1381.4,1230.3 1382.2,1229.7 1383.0,1231.7 1383.8,1231.2 1384.6,1233.3 1385.4,1232.7 1386.2,1234.6 1387.0,1234.5 1387.8,1236.5 1388.6,1235.8 1389.4,1238.2 1390.2,1237.9 1391.0,1239.9 1391.8,1239.1 1392.6,1241.6 1393.4,1240.9 1394.2,1243.2 1395.0,1242.4 1395.8,1244.5 1396.6,1243.8 1397.4,1246.1 1398.2,1245.8 1399.0,1247.6 1399.8,1246.9 1400.6,1249.4 1401.4,1248.5 1402.2,1250.3 1403.0,1249.9 1403.8,1252.1 1404.6,1251.9 1405.4,1253.8 1406.2,1252.6 1407.0,1254.7 1407.8,1254.1 1408.6,1256.2 1409.4,1255.2 1410.2,1257.4 1411.0,1256.1 1411.8,1258.5 1412.6,1257.7 1413.4,1258.7 1414.2,1258.3 1415.0,1260.3 1415.8,1259.2 1416.6,1261.0 1417.4,1259.7 1418.2,1261.8 1419.0,1260.3 1419.8,1262.3 1420.6,1261.3 1421.4,1263.2 1422.2,1261.7 1423.0,1263.4 1423.8,1262.0 1424.6,1264.6 1425.4,1262.8 1426.2,1265.5 1427.0,1263.8 1427.8,1266.7 1428.6,1265.8 1429.4,1267.5 1430.2,1268.2 1431.0,1270.3 1431.8,1271.7 1432.6,1274.1 1433.4,1275.1 1434.2,1277.2 1435.0,1277.6 1435.8,1279.6 1436.6,1277.7 1437.4,1279.5 1438.2,1277.8 1439.0,1280.4 1439.8,1277.6 1440.6,1278.6 1441.4,1277.1 1442.2,1279.4 1443.0,1276.9 1443.8,1278.0 1444.6,1276.1 1445.4,1277.3 1446.2,1275.9 1447.0,1277.3 1447.8,1276.2 1448.6,1278.1 1449.4,1277.7 1450.2,1280.1 1451.0,1280.2 1451.8,1281.9 1452.6,1282.2 1453.4,1284.5 1454.2,1284.2 1455.0,1286.2 1455.8,1286.0 1456.6,1288.4 1457.4,1288.3 1458.2,1290.3 1459.0,1290.4 1459.8,1292.4 1460.6,1292.8 1461.4,1294.6 1462.2,1294.6 1463.0,1296.5 1463.8,1296.1 1464.6,1298.5 1465.4,1297.3 1466.2,1299.2 1467.0,1297.4 1467.8,1298.8 1468.6,1295.9 1469.4,1297.1 1470.2,1294.8 1471.0,1294.8 1471.8,1292.9 1472.6,1293.5 1473.4,1291.3 1474.2,1292.3 1475.0,1290.0 1475.8,1292.0 1476.6,1289.3 1477.4,1291.6 1478.2,1290.3 1479.0,1292.3 1479.8,1290.7 1480.6,1293.0 1481.4,1291.4 1482.2,1293.8 1483.0,1291.5 1483.8,1293.6 1484.6,1291.7 1485.4,1294.0 1486.2,1292.9 1487.0,1294.2 1487.8,1292.2 1488.6,1293.6 1489.4,1292.1 1490.2,1293.4 1491.0,1291.3 1491.8,1293.2 1492.6,1290.5 1493.4,1291.8 1494.2,1290.0 1495.0,1292.3 1495.8,1289.8 1496.6,1290.9 1497.4,1288.4 1498.2,1289.6 1499.0,1287.4 1499.8,1288.3 1500.6,1286.4 1501.4,1287.4 1502.2,1285.9 1503.0,1287.3 1503.8,1286.0 1504.6,1288.7 1505.4,1289.0 1506.2,1291.2 1507.0,1291.8 1507.8,1294.1 1508.6,1294.6 1509.4,1296.7 1510.2,1295.5 1511.0,1298.2 1511.8,1295.6 1512.6,1298.3 1513.4,1296.5 1514.2,1298.8 1515.0,1296.9 1515.8,1299.6 1516.6,1297.3 1517.4,1299.0 1518.2,1298.2 1519.0,1299.4 1519.8,1297.3 1520.6,1299.5 1521.4,1296.8 1522.2,1298.6 1523.0,1296.7 1523.8,1297.7 1524.6,1295.6 1525.4,1297.9 1526.2,1295.9 1527.0,1297.1 1527.8,1295.1 1528.6,1297.5 1529.4,1294.7 1530.2,1297.1 1531.0,1295.3 1531.8,1297.1 1532.6,1295.1 1533.4,1298.2 1534.2,1296.9 1535.0,1299.2 1535.8,1297.7 1536.6,1298.7 1537.4,1298.1 1538.2,1300.8 1539.0,1298.6 1539.8,1300.7 1540.6,1299.7 1541.4,1301.8 1542.2,1300.3 1543.0,1302.2 1543.8,1300.7 1544.6,1302.3 1545.4,1300.0 1546.2,1301.3 1547.0,1299.3 1547.8,1300.1 1548.6,1298.2 1549.4,1299.5 1550.2,1297.1 1551.0,1298.1 1551.8,1296.7 1552.6,1299.0 1553.4,1297.9 1554.2,1299.7 1555.0,1299.2 1555.8,1301.9 1556.6,1301.7 1557.4,1303.6 1558.2,1303.4 1559.0,1305.5 1559.8,1305.2 1560.6,1307.0 1561.4,1305.2 1562.2,1307.7 1563.0,1306.1 1563.8,1308.3 1564.6,1306.0 1565.4,1307.4 1566.2,1304.9 1567.0,1307.2 1567.8,1305.1 1568.6,1307.5 1569.4,1305.3 1570.2,1306.5 1571.0,1304.3 1571.8,1307.0 1572.6,1305.4 1573.4,1307.1 1574.2,1305.5 1575.0,1308.3 1575.8,1306.7 1576.6,1308.2 1577.4,1307.9 1578.2,1310.0 1579.0,1309.4 1579.8,1311.8 1580.6,1311.3 1581.4,1314.1 1582.2,1313.0 1583.0,1315.2 1583.8,1314.2 1584.6,1316.8 1585.4,1315.9 1586.2,1317.7 1587.0,1316.3 1587.8,1318.3 1588.6,1316.5 1589.4,1318.7 1590.2,1316.4 1591.0,1319.1 1591.8,1316.9 1592.6,1318.7 1593.4,1316.2 1594.2,1318.3 1595.0,1316.1 1595.8,1318.2 1596.6,1316.0 1597.4,1318.0 1598.2,1316.1 1599.0,1317.9 1599.8,1315.1 1600.6,1317.0 1601.4,1314.7 1602.2,1317.0 1603.0,1314.2 1603.8,1316.3 1604.6,1313.5 1605.4,1315.0 1606.2,1312.3 1607.0,1313.2 1607.8,1311.1 1608.6,1312.1 1609.4,1309.9 1610.2,1311.4 1611.0,1309.6 1611.8,1311.3 1612.6,1309.0 1613.4,1310.8 1614.2,1309.8 1615.0,1311.2 1615.8,1311.0 1616.6,1313.2 1617.4,1311.5 1618.2,1314.3 1619.0,1312.6 1619.8,1315.3 1620.6,1312.9 1621.4,1314.8 1622.2,1312.5 1623.0,1314.3 1623.8,1311.3 1624.6,1313.6 1625.4,1310.3 1626.2,1312.1 1627.0,1309.0 1627.8,1310.2 1628.6,1307.8 1629.4,1309.0 1630.2,1307.3 1631.0,1308.0 1631.8,1305.8 1632.6,1305.8 1633.4,1303.9 1634.2,1305.5 1635.0,1303.7 1635.8,1306.6 1636.6,1305.8 1637.4,1308.0 1638.2,1308.2 1639.0,1310.1 1639.8,1310.2 1640.6,1312.4 1641.4,1312.1 1642.2,1314.0 1643.0,1313.6 1643.8,1315.4 1644.6,1315.6 1645.4,1316.9 1646.2,1316.8 1647.0,1318.5 1647.8,1318.0 1648.6,1319.9 1649.4,1319.2 1650.2,1321.3 1651.0,1320.5 1651.8,1322.9 1652.6,1321.9 1653.4,1324.7 1654.2,1324.0 1655.0,1326.0 1655.8,1325.1 1656.6,1327.7 1657.4,1326.9 1658.2,1328.7 1659.0,1327.7 1659.8,1330.7 1660.6,1329.1 1661.4,1331.1 1662.2,1329.3 1663.0,1332.1 1663.8,1330.0 1664.6,1332.7 1665.4,1330.7 1666.2,1333.3 1667.0,1330.2 1667.8,1332.5 1668.6,1329.6 1669.4,1330.6 1670.2,1328.6 1671.0,1329.2 1671.8,1327.8 1672.6,1328.4 1673.4,1326.0 1674.2,1328.8 1675.0,1325.9 1675.8,1328.1 1676.6,1327.0 1677.4,1328.9 1678.2,1328.6 1679.0,1330.7 1679.8,1329.7 1680.6,1332.0 1681.4,1331.4 1682.2,1333.4 1683.0,1332.1 1683.8,1334.7 1684.6,1332.5 1685.4,1334.5 1686.2,1332.5 1687.0,1333.3 1687.8,1331.3 1688.6,1331.8 1689.4,1329.9 1690.2,1331.1 1691.0,1329.1 1691.8,1330.3 1692.6,1328.3 1693.4,1329.9 1694.2,1327.5 1695.0,1329.9 1695.8,1327.6 1696.6,1329.2 1697.4,1328.2 1698.2,1330.2 1699.0,1328.6 1699.8,1330.4 1700.6,1329.3 1701.4,1331.1 1702.2,1329.5 1703.0,1331.1 1703.8,1329.4 1704.6,1332.0 1705.4,1329.7 1706.2,1331.7 1707.0,1330.2 1707.8,1332.1 1708.6,1329.8 1709.4,1332.3 1710.2,1329.1 1711.0,1331.6 1711.8,1329.4 1712.6,1332.0 1713.4,1330.0 1714.2,1331.1 1715.0,1329.3 1715.8,1331.2 1716.6,1329.1 1717.4,1330.6 1718.2,1328.9 1719.0,1330.6 1719.8,1328.2 1720.6,1329.4 1721.4,1327.8 1722.2,1329.5 1723.0,1327.4 1723.8,1329.4 1724.6,1327.2 1725.4,1328.9 1726.2,1326.4 1727.0,1327.8 1727.8,1325.0 1728.6,1326.6 1729.4,1324.0 1730.2,1325.7 1731.0,1323.1 1731.8,1324.4 1732.6,1322.3 1733.4,1323.1 1734.2,1321.3 1735.0,1322.3 1735.8,1319.8 1736.6,1321.3 1737.4,1318.9 1738.2,1319.8 1739.0,1318.0 1739.8,1318.9 1740.6,1317.5 1741.4,1319.0 1742.2,1316.4 1743.0,1318.1 1743.8,1316.2 1744.6,1317.3 1745.4,1315.3 1746.2,1316.4 1747.0,1314.1 1747.8,1315.8 1748.6,1313.5 1749.4,1315.2 1750.2,1312.8 1751.0,1314.3 1751.8,1312.2 1752.6,1314.3 1753.4,1312.3 1754.2,1313.3 1755.0,1311.5 1755.8,1313.4 1756.6,1311.9 1757.4,1313.9 1758.2,1312.3 1759.0,1314.2 1759.8,1312.9 1760.6,1314.3 1761.4,1312.4 1762.2,1314.4 1763.0,1312.7 1763.8,1314.8 1764.6,1312.7 1765.4,1314.5 1766.2,1312.4 1767.0,1314.8 1767.8,1312.6 1768.6,1314.4 1769.4,1312.6 1770.2,1314.7 1771.0,1313.7 1771.8,1315.5 1772.6,1314.4 1773.4,1316.4 1774.2,1316.0 1775.0,1318.0 1775.8,1317.5 1776.6,1320.3 1777.4,1319.1 1778.2,1321.0 1779.0,1320.3 1779.8,1322.5 1780.6,1321.4 1781.4,1324.2 1782.2,1321.8 1783.0,1324.3 1783.8,1322.5 1784.6,1324.4 1785.4,1321.3 1786.2,1323.4 1787.0,1320.7 1787.8,1322.1 1788.6,1319.7 1789.4,1321.8 1790.2,1320.5 1791.0,1321.8 1791.8,1319.5 1792.6,1321.3 1793.4,1320.8 1794.2,1323.0 1795.0,1321.7 1795.8,1324.2 1796.6,1323.0 1797.4,1325.1 1798.2,1324.8 1799.0,1326.5 1799.8,1326.0 1800.6,1328.3 1801.4,1326.5 1802.2,1328.6 1803.0,1327.5 1803.8,1329.2 1804.6,1327.9 1805.4,1329.9 1806.2,1327.3 1807.0,1330.4 1807.8,1328.0 1808.6,1329.0 1809.4,1327.1 1810.2,1326.9 1811.0,1324.8 1811.8,1324.0 1812.6,1322.0 1813.4,1321.6 1814.2,1319.6 1815.0,1320.2 1815.8,1318.1 1816.6,1319.5 1817.4,1318.0 1818.2,1318.6 1819.0,1317.2 1819.8,1319.7 1820.6,1317.4 1821.4,1319.8 1822.2,1318.3 1823.0,1320.2 1823.8,1317.6 1824.6,1320.2 1825.4,1318.3 1826.2,1320.7 1827.0,1320.1 1827.8,1321.8 1828.6,1321.7 1829.4,1323.6 1830.2,1323.7 1831.0,1325.4 1831.8,1324.3 1832.6,1326.3 1833.4,1325.0 1834.2,1326.8 1835.0,1325.1 1835.8,1327.0 1836.6,1325.5 1837.4,1327.5 1838.2,1325.4 1839.0,1327.3 1839.8,1325.4 1840.6,1327.5 1841.4,1325.2 1842.2,1326.5 1843.0,1324.9 1843.8,1324.9 1844.6,1323.0 1845.4,1322.3 1846.2,1320.2 1847.0,1320.0 1847.8,1317.3 1848.6,1317.5 1849.4,1315.9 1850.2,1316.5 1851.0,1314.2 1851.8,1315.8 1852.6,1312.9 1853.4,1314.6 1854.2,1312.5 1855.0,1314.0 1855.8,1311.3 1856.6,1313.0 1857.4,1310.9 1858.2,1313.1 1859.0,1309.9 1859.8,1312.6 1860.6,1310.3 1861.4,1312.4 1862.2,1309.4 1863.0,1312.0 1863.8,1309.2 1864.6,1311.5 1865.4,1309.3 1866.2,1310.7 1867.0,1309.6 1867.8,1312.0 1868.6,1310.4 1869.4,1312.3 1870.2,1310.5 1871.0,1313.5 1871.8,1311.6 1872.6,1314.5 1873.4,1313.1 1874.2,1314.9 1875.0,1313.4 1875.8,1315.7 1876.6,1313.6 1877.4,1316.7 1878.2,1315.2 1879.0,1317.6 1879.8,1315.4 1880.6,1318.2 1881.4,1315.5 1882.2,1317.7 1883.0,1315.5 1883.8,1317.4 1884.6,1315.4 1885.4,1317.0 1886.2,1315.0 1887.0,1317.0 1887.8,1315.2 1888.6,1316.8 1889.4,1316.0 1890.2,1317.6 1891.0,1317.1 1891.8,1319.0 1892.6,1317.7 1893.4,1320.0 1894.2,1319.7 1895.0,1321.5 1895.8,1321.1 1896.6,1323.2 1897.4,1322.7 1898.2,1325.0 1899.0,1323.6 1899.8,1326.3 1900.6,1323.7 1901.4,1325.5 1902.2,1323.4 1903.0,1324.5 1903.8,1322.6 1904.6,1323.3 1905.4,1320.6 1906.2,1320.8 1907.0,1318.8 1907.8,1318.9 1908.6,1316.8 1909.4,1316.8 1910.2,1315.0 1911.0,1315.3 1911.8,1313.9 1912.6,1315.4 1913.4,1314.0 1914.2,1314.6 1915.0,1313.1 1915.8,1314.9 1916.6,1312.4 1917.4,1314.6 1918.2,1312.4 1919.0,1314.0 1919.8,1312.0 1920.6,1314.0 1921.4,1311.8 1922.2,1313.0 1923.0,1311.7 1923.8,1312.5 1924.6,1311.2 1925.4,1312.5 1926.2,1310.2 1927.0,1311.6 1927.8,1309.9 1928.6,1311.8 1929.4,1310.3 1930.2,1312.5 1931.0,1311.9 1931.8,1312.8 1932.6,1312.2 1933.4,1314.6 1934.2,1313.8 1935.0,1316.0 1935.8,1314.2 1936.6,1316.7 1937.4,1314.1 1938.2,1316.8 1939.0,1315.5 1939.8,1317.3 1940.6,1315.0 1941.4,1317.0 1942.2,1314.9 1943.0,1317.3 1943.8,1315.4 1944.6,1317.9 1945.4,1315.9 1946.2,1318.4 1947.0,1316.5 1947.8,1318.5 1948.6,1317.6 1949.4,1319.5 1950.2,1317.1 1951.0,1320.1 1951.8,1318.2 1952.6,1320.5 1953.4,1318.4 1954.2,1319.7 1955.0,1318.2 1955.8,1319.5 1956.6,1317.8 1957.4,1319.8 1958.2,1318.4 1959.0,1319.6 1959.8,1317.5 1960.6,1319.2 1961.4,1316.5 1962.2,1318.8 1963.0,1316.4 1963.8,1317.8 1964.6,1316.0 1965.4,1318.2 1966.2,1317.0 1967.0,1319.5 1967.8,1318.2 1968.6,1320.3 1969.4,1320.0 1970.2,1322.6 1971.0,1321.0 1971.8,1322.6 1972.6,1320.4 1973.4,1322.4 1974.2,1320.0 1975.0,1320.8 1975.8,1319.2 1976.6,1320.1 1977.4,1317.2 1978.2,1317.7 1979.0,1315.7 1979.8,1316.2 1980.6,1314.6 1981.4,1315.1 1982.2,1313.7 1983.0,1315.2 1983.8,1313.3 1984.6,1314.3 1985.4,1312.8 1986.2,1314.5 1987.0,1312.7 1987.8,1314.3 1988.6,1312.0 1989.4,1314.5 1990.2,1312.6 1991.0,1314.7 1991.8,1312.1 1992.6,1314.7 1993.4,1312.5 1994.2,1314.9 1995.0,1313.6 1995.8,1315.1 1996.6,1314.9 1997.4,1316.6 1998.2,1314.7 1999.0,1316.8 1999.8,1315.8 2000.6,1317.7 2001.4,1316.7 2002.2,1318.9 2003.0,1319.2 2003.8,1321.3 2004.6,1322.5 2005.4,1324.4 2006.2,1325.2 2007.0,1327.6 2007.8,1327.6 2008.6,1329.8 2009.4,1329.2 2010.2,1331.7 2011.0,1330.9 2011.8,1333.4 2012.6,1332.5 2013.4,1335.1 2014.2,1333.4 2015.0,1335.1 2015.8,1332.4 2016.6,1333.8 2017.4,1331.3 2018.2,1332.4 2019.0,1329.7 2019.8,1329.5 2020.6,1327.9 2021.4,1328.1 2022.2,1325.6 2023.0,1326.2 2023.8,1323.5 2024.6,1324.6 2025.4,1322.3 2026.2,1323.9 2027.0,1322.0 2027.8,1324.0 2028.6,1323.3 2029.4,1325.3 2030.2,1325.0 2031.0,1327.4 2031.8,1326.9 2032.6,1329.1 2033.4,1329.3 2034.2,1331.2 2035.0,1330.5 2035.8,1332.5 2036.6,1331.9 2037.4,1333.4 2038.2,1332.7 2039.0,1334.1 2039.8,1333.7 2040.6,1335.0 2041.4,1334.4 2042.2,1336.4 2043.0,1334.8 2043.8,1336.5 2044.6,1335.1 2045.4,1337.0 2046.2,1336.8 2047.0,1337.3 2047.8,1335.7 2048.6,1334.3 2049.4,1331.7 2050.2,1329.7 2051.0,1327.2 2051.8,1326.0 2052.6,1324.1 2053.4,1325.5 2054.2,1323.7 2055.0,1326.0 2055.8,1323.8 2056.6,1325.7 2057.4,1323.0 2058.2,1325.2 2059.0,1323.6 2059.7,1325.6" stroke="#00BDEE" />
</g>
<g id="ticklabels" font-size="57" fill="#404040" stroke="#404040" stroke-width="0.7">
<text x="223.6" y="1575.8" text-anchor="middle">0</text>
<text x="408.5" y="1575.8" text-anchor="middle">0.2</text>
<text x="591.9" y="1575.8" text-anchor="middle">0.4</text>
<text x="775.3" y="1575.8" text-anchor="middle">0.6</text>
<text x="958.7" y="1575.8" text-anchor="middle">0.8</text>
<text x="1142.2" y="1575.8" text-anchor="middle">1</text>
<text x="1325.6" y="1575.8" text-anchor="middle">1.2</text>
<text x="1509.0" y="1575.8" text-anchor="middle">1.4</text>
<text x="1692.4" y="1575.8" text-anchor="middle">1.6</text>
<text x="1875.8" y="1575.8" text-anchor="middle">1.8</text>
<text x="2059.3" y="1575.8" text-anchor="middle">2</text>
<text x="199.5" y="70.2" text-anchor="end">0</text>
<text x="199.5" y="310.6" text-anchor="end">-10</text>
<text x="199.5" y="551.2" text-anchor="end">-20</text>
<text x="199.5" y="792.5" text-anchor="end">-30</text>
<text x="199.5" y="1033.2" text-anchor="end">-40</text>
<text x="199.5" y="1275.2" text-anchor="end">-50</text>
<text x="199.5" y="1516.1" text-anchor="end">-60</text>
<text x="1938" y="1683.4" font-size="64" fill="#2b2b2b" stroke="none" style="font-family:'Liberation Sans',sans-serif">×</text>
<text x="1978.8" y="1676.3">10</text>
<text x="2035.5" y="1649.2" font-size="45">4</text>
</g>
<g id="axislabels" fill="#404040" stroke="#404040" stroke-width="0.6">
<text x="998.5" y="1669.6" font-size="70" textLength="286.5" lengthAdjust="spacingAndGlyphs">Itreations</text>
<text transform="translate(75,933.5) rotate(-90)" font-size="68" textLength="305" lengthAdjust="spacingAndGlyphs">NMSD(dB)</text>
</g>
<g id="legend">
<rect x="1677.6" y="101.5" width="338.8" height="452.3" fill="#fff" stroke="#262626" stroke-width="4"/>
<path d="M1694.9,145.0 H1864.8" stroke="#0072BD" stroke-width="12.8" fill="none" stroke-dasharray="41 40.2"/>
<text y="157.8" font-size="52" fill="#111"><tspan x="1876.5" font-style="italic" font-size="57" textLength="31" lengthAdjust="spacingAndGlyphs">α</tspan><tspan x="1909" textLength="26.5" lengthAdjust="spacingAndGlyphs">=</tspan><tspan x="1934.3" font-size="51">0.1</tspan></text>
<path d="M1694.9,218.1 H1864.8" stroke="#F7520C" stroke-width="12.8" fill="none" stroke-dasharray="10.4 9.95"/>
<text y="230.9" font-size="52" fill="#111"><tspan x="1876.5" font-style="italic" font-size="57" textLength="31" lengthAdjust="spacingAndGlyphs">α</tspan><tspan x="1909" textLength="26.5" lengthAdjust="spacingAndGlyphs">=</tspan><tspan x="1934.3" font-size="51">0.5</tspan></text>
<path d="M1694.9,291.0 H1864.8" stroke="#FFB000" stroke-width="12.8" fill="none" stroke-dasharray="41 9.6 21 9.6"/>
<text y="303.8" font-size="52" fill="#111"><tspan x="1876.5" font-style="italic" font-size="57" textLength="31" lengthAdjust="spacingAndGlyphs">α</tspan><tspan x="1909" textLength="26.5" lengthAdjust="spacingAndGlyphs">=</tspan><tspan x="1934.3" font-size="51">1</tspan></text>
<path d="M1694.9,363.9 H1864.8" stroke="#8E2A8E" stroke-width="12.8" fill="none"/>
<text y="376.7" font-size="52" fill="#111"><tspan x="1876.5" font-style="italic" font-size="57" textLength="31" lengthAdjust="spacingAndGlyphs">α</tspan><tspan x="1909" textLength="26.5" lengthAdjust="spacingAndGlyphs">=</tspan><tspan x="1934.3" font-size="51">3</tspan></text>
<path d="M1694.9,436.8 H1864.8" stroke="#58AC1A" stroke-width="12.8" fill="none" stroke-dasharray="41 40.2"/>
<text y="449.6" font-size="52" fill="#111"><tspan x="1876.5" font-style="italic" font-size="57" textLength="31" lengthAdjust="spacingAndGlyphs">α</tspan><tspan x="1909" textLength="26.5" lengthAdjust="spacingAndGlyphs">=</tspan><tspan x="1934.3" font-size="51">5</tspan></text>
<path d="M1694.9,509.7 H1864.8" stroke="#00BDEE" stroke-width="12.8" fill="none"/>
<text y="522.5" font-size="52" fill="#111"><tspan x="1876.5" font-style="italic" font-size="57" textLength="31" lengthAdjust="spacingAndGlyphs">α</tspan><tspan x="1909" textLength="26.5" lengthAdjust="spacingAndGlyphs">=</tspan><tspan x="1934.3" font-size="51">7</tspan></text>
</g>
</svg>
</body>
</html>
